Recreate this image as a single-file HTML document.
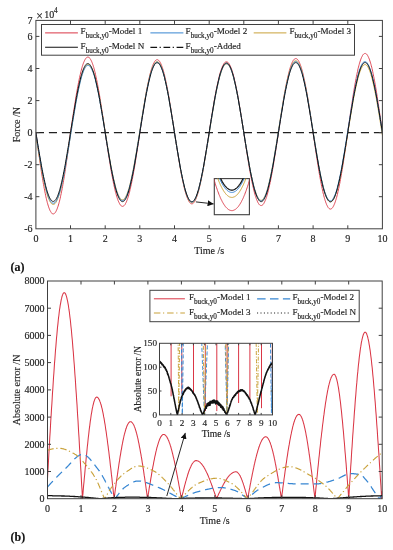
<!DOCTYPE html><html><head><meta charset="utf-8"><style>html,body{margin:0;padding:0;background:#fff;}svg{display:block;filter:blur(0.25px)}</style></head><body>
<svg width="393" height="550" viewBox="0 0 393 550" font-family="'Liberation Serif','Times New Roman',serif">
<style>text{stroke:#2a2a2a;stroke-width:0.16px;paint-order:stroke}</style>
<rect width="393" height="550" fill="#fff"/>
<defs><clipPath id="ca"><rect x="35.9" y="20.4" width="346.5" height="208.4"/></clipPath>
<clipPath id="cb"><rect x="47.5" y="281" width="334.7" height="217.7"/></clipPath>
<clipPath id="ci"><rect x="159.5" y="343.3" width="113" height="71.6"/></clipPath>
<clipPath id="cz"><rect x="214.3" y="178.6" width="35.1" height="36.1"/></clipPath>
<marker id="ah" viewBox="0 0 10 10" refX="10" refY="5" markerWidth="6" markerHeight="6" markerUnits="userSpaceOnUse" orient="auto"><path d="M0,0 L10,5 L0,10 z" fill="#111"/></marker>
</defs>
<g clip-path="url(#ca)" fill="none" stroke-linejoin="round">
<polyline points="35.9,132.6 36.2,135.2 36.6,137.7 36.9,140.3 37.3,142.8 37.6,145.3 38,147.8 38.3,150.3 38.7,152.8 39,155.3 39.4,157.7 39.7,160.1 40.1,162.5 40.4,164.9 40.8,167.2 41.1,169.5 41.4,171.8 41.8,174 42.1,176.2 42.5,178.3 42.8,180.4 43.2,182.4 43.5,184.4 43.9,186.4 44.2,188.3 44.6,190.1 44.9,191.9 45.3,193.6 45.6,195.2 45.9,196.8 46.3,198.4 46.6,199.8 47,201.2 47.3,202.6 47.7,203.8 48,205 48.4,206.2 48.7,207.2 49.1,208.2 49.4,209.1 49.8,209.9 50.1,210.7 50.5,211.3 50.8,211.9 51.1,212.5 51.5,212.9 51.8,213.3 52.2,213.5 52.5,213.7 52.9,213.9 53.2,213.9 53.6,213.9 53.9,213.7 54.3,213.5 54.6,213.3 55,212.9 55.3,212.5 55.7,211.9 56,211.3 56.3,210.7 56.7,209.9 57,209.1 57.4,208.2 57.7,207.2 58.1,206.2 58.4,205 58.8,203.8 59.1,202.6 59.5,201.2 59.8,199.8 60.2,198.4 60.5,196.8 60.8,195.2 61.2,193.6 61.5,191.9 61.9,190.1 62.2,188.3 62.6,186.4 62.9,184.4 63.3,182.4 63.6,180.4 64,178.3 64.3,176.2 64.7,174 65,171.8 65.4,169.5 65.7,167.2 66,164.9 66.4,162.5 66.7,160.1 67.1,157.7 67.4,155.3 67.8,152.8 68.1,150.3 68.5,147.8 68.8,145.3 69.2,142.8 69.5,140.3 69.9,137.7 70.2,135.2 70.5,132.6 70.9,130.2 71.2,127.9 71.6,125.5 71.9,123.2 72.1,122 72.3,120.8 72.6,118.5 73,116.1 73.3,113.8 73.7,111.6 74,109.3 74.4,107 74.7,104.8 75.1,102.6 75.4,100.5 75.7,98.3 76.1,96.2 76.4,94.2 76.8,92.2 77.1,90.2 77.5,88.2 77.8,86.3 78.2,84.5 78.5,82.7 78.9,80.9 79.2,79.2 79.6,77.6 79.9,76 80.3,74.4 80.6,73 80.9,71.5 81.3,70.2 81.6,68.9 82,67.6 82.3,66.4 82.7,65.3 83,64.3 83.4,63.3 83.7,62.4 84.1,61.6 84.4,60.8 84.8,60.1 85.1,59.5 85.4,58.9 85.8,58.4 86.1,58 86.5,57.7 86.8,57.4 87.2,57.3 87.5,57.1 87.9,57.1 88.2,57.1 88.6,57.3 88.9,57.4 89.3,57.7 89.6,58 90,58.4 90.3,58.9 90.6,59.5 91,60.1 91.3,60.8 91.7,61.6 92,62.4 92.4,63.3 92.7,64.3 93.1,65.3 93.4,66.4 93.8,67.6 94.1,68.9 94.5,70.2 94.8,71.5 95.2,73 95.5,74.4 95.8,76 96.2,77.6 96.5,79.2 96.9,80.9 97.2,82.7 97.6,84.5 97.9,86.3 98.3,88.2 98.6,90.2 99,92.2 99.3,94.2 99.7,96.2 100,98.3 100.3,100.5 100.7,102.6 101,104.8 101.4,107 101.7,109.3 102.1,111.6 102.4,113.8 102.8,116.1 103.1,118.5 103.5,120.8 103.8,123.2 104.2,125.5 104.5,127.9 104.9,130.2 105.2,132.6 105.5,134.9 105.9,137.2 106.2,139.6 106.6,141.9 106.9,144.2 107.3,146.4 107.6,148.7 108,151 108.3,153.2 108.7,155.4 109,157.6 109.4,159.8 109.7,161.9 110.1,164 110.4,166.1 110.7,168.1 111.1,170.2 111.4,172.1 111.8,174.1 112.1,176 112.5,177.8 112.8,179.6 113.2,181.4 113.5,183.1 113.9,184.8 114.2,186.4 114.6,187.9 114.9,189.4 115.2,190.9 115.6,192.3 115.9,193.6 116.3,194.9 116.6,196.1 117,197.2 117.3,198.3 117.7,199.3 118,200.3 118.4,201.2 118.7,202 119.1,202.7 119.4,203.4 119.8,204 120.1,204.6 120.4,205.1 120.8,205.4 121.1,205.8 121.5,206 121.8,206.2 122.2,206.3 122.5,206.4 122.9,206.3 123.2,206.2 123.6,206 123.9,205.8 124.3,205.4 124.6,205.1 125,204.6 125.3,204 125.6,203.4 126,202.7 126.3,202 126.7,201.2 127,200.3 127.4,199.3 127.7,198.3 128.1,197.2 128.4,196.1 128.8,194.9 129.1,193.6 129.5,192.3 129.8,190.9 130.1,189.4 130.5,187.9 130.8,186.4 131.2,184.8 131.5,183.1 131.9,181.4 132.2,179.6 132.6,177.8 132.9,176 133.3,174.1 133.6,172.1 134,170.2 134.3,168.1 134.7,166.1 135,164 135.3,161.9 135.7,159.8 136,157.6 136.4,155.4 136.7,153.2 137.1,151 137.4,148.7 137.8,146.4 138.1,144.2 138.5,141.9 138.8,139.6 139.2,137.2 139.5,134.9 139.8,132.6 140.2,130.3 140.5,128 140.9,125.8 141.2,123.5 141.6,121.2 141.9,118.9 142.3,116.7 142.6,114.5 143,112.3 143.3,110.1 143.7,107.9 144,105.8 144.4,103.6 144.7,101.6 145,99.5 145.4,97.5 145.7,95.5 146.1,93.5 146.4,91.6 146.8,89.7 147.1,87.9 147.5,86.1 147.8,84.4 148.2,82.7 148.5,81 148.9,79.4 149.2,77.9 149.6,76.4 149.9,75 150.2,73.6 150.6,72.3 150.9,71 151.3,69.8 151.6,68.7 152,67.6 152.3,66.6 152.7,65.7 153,64.8 153.4,64 153.7,63.2 154.1,62.6 154.4,62 154.7,61.4 155.1,61 155.4,60.6 155.8,60.3 156.1,60 156.5,59.8 156.8,59.7 157.2,59.7 157.5,59.7 157.9,59.8 158.2,60 158.6,60.3 158.9,60.6 159.3,61 159.6,61.4 159.9,62 160.3,62.6 160.6,63.2 161,64 161.3,64.8 161.7,65.7 162,66.6 162.4,67.6 162.7,68.7 163.1,69.8 163.4,71 163.8,72.3 164.1,73.6 164.5,75 164.8,76.4 165.1,77.9 165.5,79.4 165.8,81 166.2,82.7 166.5,84.4 166.9,86.1 167.2,87.9 167.6,89.7 167.9,91.6 168.3,93.5 168.6,95.5 169,97.5 169.3,99.5 169.6,101.6 170,103.6 170.3,105.8 170.7,107.9 171,110.1 171.4,112.3 171.7,114.5 172.1,116.7 172.4,118.9 172.8,121.2 173.1,123.5 173.5,125.8 173.8,128 174.2,130.3 174.5,132.6 174.8,134.9 175.2,137.1 175.5,139.3 175.9,141.5 176.2,143.7 176.6,146 176.9,148.1 177.3,150.3 177.6,152.5 178,154.6 178.3,156.7 178.7,158.8 179,160.9 179.4,162.9 179.7,164.9 180,166.9 180.4,168.8 180.7,170.8 181.1,172.6 181.4,174.5 181.8,176.2 182.1,178 182.5,179.7 182.8,181.3 183.2,182.9 183.5,184.5 183.9,186 184.2,187.5 184.5,188.9 184.9,190.2 185.2,191.5 185.6,192.7 185.9,193.9 186.3,195 186.6,196 187,197 187.3,197.9 187.7,198.8 188,199.6 188.4,200.3 188.7,201 189.1,201.6 189.4,202.1 189.7,202.5 190.1,202.9 190.4,203.2 190.8,203.5 191.1,203.7 191.5,203.8 191.8,203.8 192.2,203.8 192.5,203.7 192.9,203.5 193.2,203.2 193.6,202.9 193.9,202.5 194.3,202.1 194.6,201.6 194.9,201 195.3,200.3 195.6,199.6 196,198.8 196.3,197.9 196.7,197 197,196 197.4,195 197.7,193.9 198.1,192.7 198.4,191.5 198.8,190.2 199.1,188.9 199.4,187.5 199.8,186 200.1,184.5 200.5,182.9 200.8,181.3 201.2,179.7 201.5,178 201.9,176.2 202.2,174.5 202.6,172.6 202.9,170.8 203.3,168.8 203.6,166.9 204,164.9 204.3,162.9 204.6,160.9 205,158.8 205.3,156.7 205.7,154.6 206,152.5 206.4,150.3 206.7,148.1 207.1,146 207.4,143.7 207.8,141.5 208.1,139.3 208.5,137.1 208.8,134.9 209.2,132.6 209.5,130.4 209.8,128.2 210.2,125.9 210.5,123.7 210.9,121.5 211.2,119.3 211.6,117.2 211.9,115 212.3,112.8 212.6,110.7 213,108.6 213.3,106.5 213.7,104.5 214,102.4 214.3,100.4 214.7,98.5 215,96.5 215.4,94.6 215.7,92.8 216.1,91 216.4,89.2 216.8,87.5 217.1,85.8 217.5,84.1 217.8,82.5 218.2,81 218.5,79.5 218.9,78 219.2,76.6 219.5,75.3 219.9,74 220.2,72.8 220.6,71.6 220.9,70.5 221.3,69.5 221.6,68.5 222,67.6 222.3,66.7 222.7,65.9 223,65.2 223.4,64.6 223.7,64 224,63.5 224.4,63 224.7,62.6 225.1,62.3 225.4,62.1 225.8,61.9 226.1,61.8 226.5,61.8 226.8,61.8 227.2,61.9 227.5,62.1 227.9,62.3 228.2,62.6 228.6,63 228.9,63.5 229.2,64 229.6,64.6 229.9,65.2 230.3,65.9 230.6,66.7 231,67.6 231.3,68.5 231.7,69.5 232,70.5 232.4,71.6 232.7,72.8 233.1,74 233.4,75.3 233.8,76.6 234.1,78 234.4,79.5 234.8,81 235.1,82.5 235.5,84.1 235.8,85.8 236.2,87.5 236.5,89.2 236.9,91 237.2,92.8 237.6,94.6 237.9,96.5 238.3,98.5 238.6,100.4 238.9,102.4 239.3,104.5 239.6,106.5 240,108.6 240.3,110.7 240.7,112.8 241,115 241.4,117.2 241.7,119.3 242.1,121.5 242.4,123.7 242.8,125.9 243.1,128.2 243.5,130.4 243.8,132.6 244.1,134.9 244.5,137.2 244.8,139.5 245.2,141.8 245.5,144 245.9,146.3 246.2,148.5 246.6,150.8 246.9,153 247.3,155.2 247.6,157.3 248,159.5 248.3,161.6 248.7,163.7 249,165.7 249.3,167.8 249.7,169.7 250,171.7 250.4,173.6 250.7,175.5 251.1,177.3 251.4,179.1 251.8,180.9 252.1,182.5 252.5,184.2 252.8,185.8 253.2,187.3 253.5,188.8 253.8,190.2 254.2,191.6 254.5,192.9 254.9,194.2 255.2,195.4 255.6,196.5 255.9,197.6 256.3,198.6 256.6,199.6 257,200.4 257.3,201.2 257.7,202 258,202.7 258.4,203.3 258.7,203.8 259,204.3 259.4,204.7 259.7,205 260.1,205.2 260.4,205.4 260.8,205.5 261.1,205.6 261.5,205.5 261.8,205.4 262.2,205.2 262.5,205 262.9,204.7 263.2,204.3 263.6,203.8 263.9,203.3 264.2,202.7 264.6,202 264.9,201.2 265.3,200.4 265.6,199.6 266,198.6 266.3,197.6 266.7,196.5 267,195.4 267.4,194.2 267.7,192.9 268.1,191.6 268.4,190.2 268.7,188.8 269.1,187.3 269.4,185.8 269.8,184.2 270.1,182.5 270.5,180.9 270.8,179.1 271.2,177.3 271.5,175.5 271.9,173.6 272.2,171.7 272.6,169.7 272.9,167.8 273.3,165.7 273.6,163.7 273.9,161.6 274.3,159.5 274.6,157.3 275,155.2 275.3,153 275.7,150.8 276,148.5 276.4,146.3 276.7,144 277.1,141.8 277.4,139.5 277.8,137.2 278.1,134.9 278.4,132.6 278.8,130.3 279.1,128 279.5,125.6 279.8,123.3 280.2,121 280.5,118.7 280.9,116.5 281.2,114.2 281.6,112 281.9,109.7 282.3,107.5 282.6,105.4 283,103.2 283.3,101.1 283.6,99 284,96.9 284.3,94.9 284.7,92.9 285,91 285.4,89.1 285.7,87.2 286.1,85.4 286.4,83.6 286.8,81.9 287.1,80.2 287.5,78.6 287.8,77.1 288.2,75.5 288.5,74.1 288.8,72.7 289.2,71.4 289.5,70.1 289.9,68.9 290.2,67.7 290.6,66.6 290.9,65.6 291.3,64.6 291.6,63.8 292,62.9 292.3,62.2 292.7,61.5 293,60.9 293.3,60.3 293.7,59.9 294,59.5 294.4,59.1 294.7,58.9 295.1,58.7 295.4,58.6 295.8,58.6 296.1,58.6 296.5,58.7 296.8,58.9 297.2,59.1 297.5,59.5 297.9,59.9 298.2,60.3 298.5,60.9 298.9,61.5 299.2,62.2 299.6,62.9 299.9,63.8 300.3,64.6 300.6,65.6 301,66.6 301.3,67.7 301.7,68.9 302,70.1 302.4,71.4 302.7,72.7 303.1,74.1 303.4,75.5 303.7,77.1 304.1,78.6 304.4,80.2 304.8,81.9 305.1,83.6 305.5,85.4 305.8,87.2 306.2,89.1 306.5,91 306.9,92.9 307.2,94.9 307.6,96.9 307.9,99 308.2,101.1 308.6,103.2 308.9,105.4 309.3,107.5 309.6,109.7 310,112 310.3,114.2 310.7,116.5 311,118.7 311.4,121 311.7,123.3 312.1,125.6 312.4,128 312.8,130.3 313.1,132.6 313.4,135 313.8,137.4 314.1,139.8 314.5,142.2 314.8,144.6 315.2,146.9 315.5,149.3 315.9,151.6 316.2,153.9 316.6,156.2 316.9,158.5 317.3,160.8 317.6,163 318,165.2 318.3,167.3 318.6,169.5 319,171.5 319.3,173.6 319.7,175.6 320,177.6 320.4,179.5 320.7,181.4 321.1,183.2 321.4,185 321.8,186.7 322.1,188.4 322.5,190 322.8,191.5 323.1,193 323.5,194.5 323.8,195.9 324.2,197.2 324.5,198.4 324.9,199.6 325.2,200.7 325.6,201.8 325.9,202.8 326.3,203.7 326.6,204.6 327,205.3 327.3,206 327.7,206.7 328,207.2 328.3,207.7 328.7,208.1 329,208.5 329.4,208.7 329.7,208.9 330.1,209 330.4,209.1 330.8,209 331.1,208.9 331.5,208.7 331.8,208.5 332.2,208.1 332.5,207.7 332.9,207.2 333.2,206.7 333.5,206 333.9,205.3 334.2,204.6 334.6,203.7 334.9,202.8 335.3,201.8 335.6,200.7 336,199.6 336.3,198.4 336.7,197.2 337,195.9 337.4,194.5 337.7,193 338,191.5 338.4,190 338.7,188.4 339.1,186.7 339.4,185 339.8,183.2 340.1,181.4 340.5,179.5 340.8,177.6 341.2,175.6 341.5,173.6 341.9,171.5 342.2,169.5 342.6,167.3 342.9,165.2 343.2,163 343.6,160.8 343.9,158.5 344.3,156.2 344.6,153.9 345,151.6 345.3,149.3 345.7,146.9 346,144.6 346.4,142.2 346.7,139.8 347.1,137.4 347.4,135 347.8,132.6 348.1,130.1 348.4,127.6 348.8,125.2 349.1,122.7 349.5,120.2 349.8,117.8 350.2,115.3 350.5,112.9 350.9,110.5 351.2,108.1 351.6,105.8 351.9,103.5 352.3,101.2 352.6,98.9 352.9,96.7 353.3,94.5 353.6,92.3 354,90.2 354.3,88.1 354.7,86.1 355,84.1 355.4,82.1 355.7,80.2 356.1,78.4 356.4,76.6 356.8,74.9 357.1,73.2 357.5,71.6 357.8,70 358.1,68.5 358.5,67.1 358.8,65.8 359.2,64.5 359.5,63.2 359.9,62.1 360.2,61 360.6,59.9 360.9,59 361.3,58.1 361.6,57.3 362,56.6 362.3,55.9 362.6,55.3 363,54.8 363.3,54.4 363.7,54 364,53.8 364.4,53.6 364.7,53.5 365.1,53.4 365.4,53.5 365.8,53.6 366.1,53.8 366.5,54 366.8,54.4 367.2,54.8 367.5,55.3 367.8,55.9 368.2,56.6 368.5,57.3 368.9,58.1 369.2,59 369.6,59.9 369.9,61 370.3,62.1 370.6,63.2 371,64.5 371.3,65.8 371.7,67.1 372,68.5 372.4,70 372.7,71.6 373,73.2 373.4,74.9 373.7,76.6 374.1,78.4 374.4,80.2 374.8,82.1 375.1,84.1 375.5,86.1 375.8,88.1 376.2,90.2 376.5,92.3 376.9,94.5 377.2,96.7 377.5,98.9 377.9,101.2 378.2,103.5 378.6,105.8 378.9,108.1 379.3,110.5 379.6,112.9 380,115.3 380.3,117.8 380.7,120.2 381,122.7 381.4,125.2 381.7,127.6 381.9,128.9 382.1,130.1 382.4,132.6" stroke="#da3645" stroke-width="0.9"/>
<polyline points="35.9,135.5 36.2,137.6 36.6,139.8 36.9,142 37.3,144.1 37.6,146.3 38,148.4 38.3,150.5 38.7,152.7 39,154.8 39.4,156.8 39.7,158.9 40.1,160.9 40.4,162.9 40.8,164.9 41.1,166.8 41.4,168.8 41.8,170.6 42.1,172.5 42.5,174.3 42.8,176.1 43.2,177.8 43.5,179.5 43.9,181.2 44.2,182.8 44.6,184.3 44.9,185.8 45.3,187.3 45.6,188.7 45.9,190 46.3,191.3 46.6,192.6 47,193.8 47.3,194.9 47.7,196 48,197 48.4,198 48.7,198.8 49.1,199.7 49.4,200.4 49.8,201.1 50.1,201.8 50.5,202.3 50.8,202.8 51.1,203.3 51.5,203.6 51.8,203.9 52.2,204.2 52.5,204.3 52.9,204.4 53.2,204.5 53.6,204.4 53.9,204.3 54.3,204.1 54.6,203.9 55,203.6 55.3,203.2 55.7,202.8 56,202.2 56.3,201.7 56.7,201 57,200.3 57.4,199.5 57.7,198.7 58.1,197.8 58.4,196.8 58.8,195.8 59.1,194.7 59.5,193.6 59.8,192.4 60.2,191.1 60.5,189.8 60.8,188.5 61.2,187 61.5,185.6 61.9,184.1 62.2,182.5 62.6,180.9 62.9,179.2 63.3,177.5 63.6,175.8 64,174 64.3,172.2 64.7,170.3 65,168.4 65.4,166.5 65.7,164.5 66,162.5 66.4,160.5 66.7,158.5 67.1,156.4 67.4,154.3 67.8,152.2 68.1,150.1 68.5,148 68.8,145.8 69.2,143.7 69.5,141.5 69.9,139.3 70.2,137.1 70.5,134.9 70.9,132.7 71.2,130.6 71.6,128.4 71.9,126.2 72.1,125.1 72.3,124 72.6,121.9 73,119.7 73.3,117.6 73.7,115.5 74,113.4 74.4,111.3 74.7,109.3 75.1,107.2 75.4,105.2 75.7,103.3 76.1,101.3 76.4,99.4 76.8,97.6 77.1,95.7 77.5,93.9 77.8,92.2 78.2,90.4 78.5,88.8 78.9,87.1 79.2,85.6 79.6,84 79.9,82.5 80.3,81.1 80.6,79.7 80.9,78.4 81.3,77.1 81.6,75.9 82,74.7 82.3,73.6 82.7,72.6 83,71.6 83.4,70.7 83.7,69.8 84.1,69 84.4,68.3 84.8,67.6 85.1,67 85.4,66.5 85.8,66 86.1,65.6 86.5,65.3 86.8,65 87.2,64.8 87.5,64.6 87.9,64.6 88.2,64.6 88.6,64.6 88.9,64.7 89.3,64.9 89.6,65.2 90,65.5 90.3,65.9 90.6,66.4 91,66.9 91.3,67.5 91.7,68.1 92,68.8 92.4,69.6 92.7,70.5 93.1,71.4 93.4,72.3 93.8,73.4 94.1,74.5 94.5,75.6 94.8,76.8 95.2,78.1 95.5,79.4 95.8,80.8 96.2,82.2 96.5,83.7 96.9,85.2 97.2,86.8 97.6,88.4 97.9,90 98.3,91.7 98.6,93.5 99,95.3 99.3,97.1 99.7,98.9 100,100.8 100.3,102.7 100.7,104.7 101,106.6 101.4,108.6 101.7,110.7 102.1,112.7 102.4,114.8 102.8,116.8 103.1,118.9 103.5,121 103.8,123.2 104.2,125.3 104.5,127.4 104.9,129.6 105.2,131.7 105.5,133.9 105.9,136 106.2,138.1 106.6,140.3 106.9,142.4 107.3,144.5 107.6,146.6 108,148.7 108.3,150.7 108.7,152.8 109,154.8 109.4,156.8 109.7,158.8 110.1,160.7 110.4,162.7 110.7,164.6 111.1,166.4 111.4,168.3 111.8,170 112.1,171.8 112.5,173.5 112.8,175.2 113.2,176.8 113.5,178.4 113.9,179.9 114.2,181.4 114.6,182.9 114.9,184.3 115.2,185.6 115.6,186.9 115.9,188.1 116.3,189.3 116.6,190.4 117,191.5 117.3,192.5 117.7,193.4 118,194.3 118.4,195.1 118.7,195.8 119.1,196.5 119.4,197.2 119.8,197.7 120.1,198.2 120.4,198.6 120.8,199 121.1,199.3 121.5,199.5 121.8,199.7 122.2,199.8 122.5,199.8 122.9,199.7 123.2,199.6 123.6,199.4 123.9,199.2 124.3,198.9 124.6,198.5 125,198 125.3,197.5 125.6,196.9 126,196.3 126.3,195.6 126.7,194.8 127,194 127.4,193.1 127.7,192.1 128.1,191.1 128.4,190 128.8,188.9 129.1,187.7 129.5,186.5 129.8,185.2 130.1,183.8 130.5,182.4 130.8,180.9 131.2,179.4 131.5,177.9 131.9,176.3 132.2,174.6 132.6,172.9 132.9,171.2 133.3,169.5 133.6,167.6 134,165.8 134.3,163.9 134.7,162 135,160.1 135.3,158.1 135.7,156.1 136,154.1 136.4,152.1 136.7,150 137.1,147.9 137.4,145.8 137.8,143.7 138.1,141.6 138.5,139.4 138.8,137.3 139.2,135.1 139.5,133 139.8,130.8 140.2,128.6 140.5,126.5 140.9,124.3 141.2,122.1 141.6,119.9 141.9,117.8 142.3,115.6 142.6,113.5 143,111.4 143.3,109.3 143.7,107.2 144,105.2 144.4,103.2 144.7,101.2 145,99.2 145.4,97.3 145.7,95.4 146.1,93.5 146.4,91.7 146.8,89.9 147.1,88.2 147.5,86.5 147.8,84.8 148.2,83.2 148.5,81.6 148.9,80.1 149.2,78.7 149.6,77.3 149.9,75.9 150.2,74.6 150.6,73.3 150.9,72.2 151.3,71 151.6,70 152,68.9 152.3,68 152.7,67.1 153,66.3 153.4,65.5 153.7,64.8 154.1,64.2 154.4,63.7 154.7,63.2 155.1,62.7 155.4,62.4 155.8,62.1 156.1,61.9 156.5,61.7 156.8,61.6 157.2,61.6 157.5,61.7 157.9,61.8 158.2,62 158.6,62.3 158.9,62.6 159.3,63 159.6,63.4 159.9,64 160.3,64.6 160.6,65.2 161,66 161.3,66.8 161.7,67.6 162,68.6 162.4,69.5 162.7,70.6 163.1,71.7 163.4,72.9 163.8,74.1 164.1,75.4 164.5,76.7 164.8,78.1 165.1,79.6 165.5,81.1 165.8,82.6 166.2,84.2 166.5,85.9 166.9,87.6 167.2,89.3 167.6,91.1 167.9,92.9 168.3,94.8 168.6,96.7 169,98.6 169.3,100.6 169.6,102.6 170,104.6 170.3,106.7 170.7,108.7 171,110.8 171.4,113 171.7,115.1 172.1,117.3 172.4,119.4 172.8,121.6 173.1,123.8 173.5,126 173.8,128.2 174.2,130.4 174.5,132.7 174.8,134.8 175.2,137 175.5,139.2 175.9,141.4 176.2,143.6 176.6,145.7 176.9,147.9 177.3,150 177.6,152.1 178,154.2 178.3,156.3 178.7,158.3 179,160.4 179.4,162.4 179.7,164.3 180,166.3 180.4,168.2 180.7,170 181.1,171.9 181.4,173.7 181.8,175.4 182.1,177.1 182.5,178.8 182.8,180.4 183.2,182 183.5,183.5 183.9,185 184.2,186.5 184.5,187.8 184.9,189.1 185.2,190.4 185.6,191.6 185.9,192.8 186.3,193.9 186.6,194.9 187,195.9 187.3,196.8 187.7,197.6 188,198.4 188.4,199.1 188.7,199.8 189.1,200.4 189.4,200.9 189.7,201.3 190.1,201.7 190.4,202 190.8,202.3 191.1,202.5 191.5,202.6 191.8,202.6 192.2,202.6 192.5,202.5 192.9,202.3 193.2,202.1 193.6,201.8 193.9,201.4 194.3,201 194.6,200.5 194.9,199.9 195.3,199.3 195.6,198.6 196,197.9 196.3,197 196.7,196.1 197,195.2 197.4,194.2 197.7,193.1 198.1,192 198.4,190.8 198.8,189.6 199.1,188.3 199.4,186.9 199.8,185.5 200.1,184.1 200.5,182.6 200.8,181 201.2,179.4 201.5,177.8 201.9,176.1 202.2,174.4 202.6,172.6 202.9,170.8 203.3,168.9 203.6,167 204,165.1 204.3,163.2 204.6,161.2 205,159.2 205.3,157.2 205.7,155.1 206,153.1 206.4,151 206.7,148.9 207.1,146.7 207.4,144.6 207.8,142.5 208.1,140.3 208.5,138.2 208.8,136 209.2,133.8 209.5,131.6 209.8,129.5 210.2,127.3 210.5,125.1 210.9,122.9 211.2,120.8 211.6,118.6 211.9,116.5 212.3,114.4 212.6,112.3 213,110.2 213.3,108.2 213.7,106.2 214,104.2 214.3,102.2 214.7,100.3 215,98.4 215.4,96.5 215.7,94.7 216.1,92.9 216.4,91.1 216.8,89.4 217.1,87.8 217.5,86.1 217.8,84.6 218.2,83 218.5,81.5 218.9,80.1 219.2,78.7 219.5,77.4 219.9,76.2 220.2,74.9 220.6,73.8 220.9,72.7 221.3,71.7 221.6,70.7 222,69.8 222.3,68.9 222.7,68.2 223,67.4 223.4,66.8 223.7,66.2 224,65.7 224.4,65.2 224.7,64.8 225.1,64.5 225.4,64.3 225.8,64.1 226.1,64 226.5,63.9 226.8,64 227.2,64.1 227.5,64.2 227.9,64.4 228.2,64.7 228.6,65.1 228.9,65.5 229.2,66 229.6,66.6 229.9,67.2 230.3,67.9 230.6,68.7 231,69.5 231.3,70.4 231.7,71.3 232,72.3 232.4,73.4 232.7,74.5 233.1,75.7 233.4,76.9 233.8,78.2 234.1,79.6 234.4,81 234.8,82.4 235.1,83.9 235.5,85.4 235.8,87 236.2,88.7 236.5,90.4 236.9,92.1 237.2,93.9 237.6,95.7 237.9,97.5 238.3,99.4 238.6,101.3 238.9,103.2 239.3,105.2 239.6,107.2 240,109.2 240.3,111.3 240.7,113.3 241,115.4 241.4,117.5 241.7,119.6 242.1,121.8 242.4,123.9 242.8,126.1 243.1,128.2 243.5,130.4 243.8,132.5 244.1,134.7 244.5,136.8 244.8,139 245.2,141.1 245.5,143.2 245.9,145.3 246.2,147.4 246.6,149.5 246.9,151.6 247.3,153.6 247.6,155.6 248,157.6 248.3,159.6 248.7,161.5 249,163.5 249.3,165.3 249.7,167.2 250,169 250.4,170.8 250.7,172.5 251.1,174.3 251.4,175.9 251.8,177.5 252.1,179.1 252.5,180.6 252.8,182.1 253.2,183.6 253.5,184.9 253.8,186.3 254.2,187.5 254.5,188.8 254.9,189.9 255.2,191 255.6,192.1 255.9,193.1 256.3,194 256.6,194.9 257,195.7 257.3,196.4 257.7,197.1 258,197.7 258.4,198.3 258.7,198.7 259,199.2 259.4,199.5 259.7,199.8 260.1,200 260.4,200.2 260.8,200.3 261.1,200.3 261.5,200.3 261.8,200.1 262.2,200 262.5,199.7 262.9,199.4 263.2,199 263.6,198.5 263.9,198 264.2,197.4 264.6,196.8 264.9,196.1 265.3,195.3 265.6,194.5 266,193.6 266.3,192.6 266.7,191.6 267,190.5 267.4,189.3 267.7,188.1 268.1,186.9 268.4,185.6 268.7,184.2 269.1,182.8 269.4,181.3 269.8,179.8 270.1,178.2 270.5,176.6 270.8,175 271.2,173.3 271.5,171.5 271.9,169.7 272.2,167.9 272.6,166.1 272.9,164.2 273.3,162.2 273.6,160.3 273.9,158.3 274.3,156.3 274.6,154.3 275,152.2 275.3,150.1 275.7,148 276,145.9 276.4,143.8 276.7,141.6 277.1,139.5 277.4,137.3 277.8,135.2 278.1,133 278.4,130.8 278.8,128.6 279.1,126.4 279.5,124.2 279.8,122 280.2,119.8 280.5,117.7 280.9,115.5 281.2,113.3 281.6,111.2 281.9,109.1 282.3,107 282.6,105 283,102.9 283.3,100.9 283.6,98.9 284,97 284.3,95.1 284.7,93.2 285,91.4 285.4,89.6 285.7,87.8 286.1,86.1 286.4,84.4 286.8,82.8 287.1,81.2 287.5,79.7 287.8,78.2 288.2,76.8 288.5,75.4 288.8,74.1 289.2,72.8 289.5,71.6 289.9,70.5 290.2,69.4 290.6,68.3 290.9,67.4 291.3,66.5 291.6,65.6 292,64.9 292.3,64.2 292.7,63.5 293,62.9 293.3,62.4 293.7,62 294,61.6 294.4,61.3 294.7,61.1 295.1,60.9 295.4,60.8 295.8,60.8 296.1,60.9 296.5,61 296.8,61.1 297.2,61.4 297.5,61.7 297.9,62.1 298.2,62.6 298.5,63.1 298.9,63.7 299.2,64.3 299.6,65.1 299.9,65.8 300.3,66.7 300.6,67.6 301,68.6 301.3,69.6 301.7,70.7 302,71.9 302.4,73.1 302.7,74.4 303.1,75.7 303.4,77.1 303.7,78.6 304.1,80.1 304.4,81.6 304.8,83.2 305.1,84.8 305.5,86.5 305.8,88.2 306.2,90 306.5,91.8 306.9,93.7 307.2,95.6 307.6,97.5 307.9,99.4 308.2,101.4 308.6,103.4 308.9,105.5 309.3,107.6 309.6,109.7 310,111.8 310.3,113.9 310.7,116.1 311,118.2 311.4,120.4 311.7,122.6 312.1,124.8 312.4,127 312.8,129.2 313.1,131.4 313.4,133.6 313.8,135.8 314.1,138 314.5,140.1 314.8,142.3 315.2,144.5 315.5,146.6 315.9,148.7 316.2,150.9 316.6,152.9 316.9,155 317.3,157.1 317.6,159.1 318,161.1 318.3,163.1 318.6,165 319,166.9 319.3,168.8 319.7,170.6 320,172.4 320.4,174.1 320.7,175.9 321.1,177.5 321.4,179.2 321.8,180.7 322.1,182.3 322.5,183.7 322.8,185.2 323.1,186.5 323.5,187.9 323.8,189.1 324.2,190.4 324.5,191.5 324.9,192.6 325.2,193.6 325.6,194.6 325.9,195.5 326.3,196.4 326.6,197.2 327,197.9 327.3,198.6 327.7,199.2 328,199.7 328.3,200.1 328.7,200.5 329,200.9 329.4,201.1 329.7,201.3 330.1,201.4 330.4,201.5 330.8,201.5 331.1,201.4 331.5,201.3 331.8,201 332.2,200.8 332.5,200.4 332.9,200 333.2,199.5 333.5,199 333.9,198.3 334.2,197.7 334.6,196.9 334.9,196.1 335.3,195.2 335.6,194.3 336,193.3 336.3,192.2 336.7,191.1 337,190 337.4,188.7 337.7,187.5 338,186.1 338.4,184.7 338.7,183.3 339.1,181.8 339.4,180.3 339.8,178.7 340.1,177 340.5,175.4 340.8,173.7 341.2,171.9 341.5,170.1 341.9,168.3 342.2,166.4 342.6,164.5 342.9,162.6 343.2,160.6 343.6,158.6 343.9,156.6 344.3,154.6 344.6,152.5 345,150.5 345.3,148.4 345.7,146.3 346,144.1 346.4,142 346.7,139.9 347.1,137.7 347.4,135.6 347.8,133.4 348.1,131.2 348.4,129.1 348.8,126.9 349.1,124.7 349.5,122.6 349.8,120.5 350.2,118.3 350.5,116.2 350.9,114.1 351.2,112 351.6,110 351.9,108 352.3,105.9 352.6,104 352.9,102 353.3,100.1 353.6,98.2 354,96.4 354.3,94.5 354.7,92.8 355,91 355.4,89.3 355.7,87.7 356.1,86.1 356.4,84.5 356.8,83 357.1,81.6 357.5,80.2 357.8,78.8 358.1,77.5 358.5,76.3 358.8,75.1 359.2,74 359.5,72.9 359.9,71.9 360.2,70.9 360.6,70.1 360.9,69.2 361.3,68.5 361.6,67.8 362,67.2 362.3,66.6 362.6,66.1 363,65.7 363.3,65.3 363.7,65 364,64.8 364.4,64.7 364.7,64.6 365.1,64.6 365.4,64.6 365.8,64.7 366.1,64.9 366.5,65.2 366.8,65.5 367.2,65.9 367.5,66.4 367.8,66.9 368.2,67.5 368.5,68.2 368.9,68.9 369.2,69.7 369.6,70.6 369.9,71.5 370.3,72.5 370.6,73.5 371,74.6 371.3,75.8 371.7,77 372,78.3 372.4,79.6 372.7,81 373,82.5 373.4,84 373.7,85.5 374.1,87.1 374.4,88.7 374.8,90.4 375.1,92.2 375.5,93.9 375.8,95.7 376.2,97.6 376.5,99.5 376.9,101.4 377.2,103.4 377.5,105.4 377.9,107.4 378.2,109.4 378.6,111.5 378.9,113.6 379.3,115.7 379.6,117.8 380,120 380.3,122.1 380.7,124.3 381,126.5 381.4,128.7 381.7,130.9 381.9,132 382.1,133.1 382.4,135.3" stroke="#c9a23a" stroke-width="1"/>
<polyline points="35.9,133.3 36.2,135.5 36.6,137.7 36.9,139.9 37.3,142 37.6,144.2 38,146.4 38.3,148.5 38.7,150.6 39,152.7 39.4,154.8 39.7,156.9 40.1,158.9 40.4,161 40.8,163 41.1,164.9 41.4,166.9 41.8,168.8 42.1,170.6 42.5,172.5 42.8,174.3 43.2,176 43.5,177.7 43.9,179.4 44.2,181 44.6,182.6 44.9,184.1 45.3,185.6 45.6,187 45.9,188.4 46.3,189.7 46.6,191 47,192.2 47.3,193.3 47.7,194.4 48,195.5 48.4,196.4 48.7,197.3 49.1,198.2 49.4,199 49.8,199.7 50.1,200.4 50.5,200.9 50.8,201.5 51.1,201.9 51.5,202.3 51.8,202.6 52.2,202.9 52.5,203.1 52.9,203.2 53.2,203.3 53.6,203.2 53.9,203.2 54.3,203 54.6,202.8 55,202.5 55.3,202.1 55.7,201.7 56,201.2 56.3,200.7 56.7,200.1 57,199.4 57.4,198.6 57.7,197.8 58.1,197 58.4,196 58.8,195 59.1,194 59.5,192.9 59.8,191.7 60.2,190.5 60.5,189.2 60.8,187.9 61.2,186.5 61.5,185.1 61.9,183.6 62.2,182 62.6,180.5 62.9,178.8 63.3,177.2 63.6,175.5 64,173.7 64.3,171.9 64.7,170.1 65,168.2 65.4,166.3 65.7,164.4 66,162.4 66.4,160.5 66.7,158.4 67.1,156.4 67.4,154.4 67.8,152.3 68.1,150.2 68.5,148.1 68.8,146 69.2,143.8 69.5,141.7 69.9,139.5 70.2,137.4 70.5,135.2 70.9,133 71.2,130.9 71.6,128.7 71.9,126.6 72.1,125.5 72.3,124.4 72.6,122.3 73,120.2 73.3,118.1 73.7,116 74,113.9 74.4,111.8 74.7,109.8 75.1,107.8 75.4,105.8 75.7,103.8 76.1,101.9 76.4,100 76.8,98.1 77.1,96.3 77.5,94.5 77.8,92.8 78.2,91.1 78.5,89.4 78.9,87.8 79.2,86.2 79.6,84.7 79.9,83.2 80.3,81.8 80.6,80.4 80.9,79 81.3,77.8 81.6,76.6 82,75.4 82.3,74.3 82.7,73.3 83,72.3 83.4,71.4 83.7,70.5 84.1,69.7 84.4,69 84.8,68.3 85.1,67.7 85.4,67.2 85.8,66.7 86.1,66.3 86.5,66 86.8,65.7 87.2,65.6 87.5,65.4 87.9,65.4 88.2,65.4 88.6,65.5 88.9,65.6 89.3,65.8 89.6,66.1 90,66.4 90.3,66.8 90.6,67.3 91,67.9 91.3,68.5 91.7,69.1 92,69.9 92.4,70.7 92.7,71.5 93.1,72.4 93.4,73.4 93.8,74.5 94.1,75.5 94.5,76.7 94.8,77.9 95.2,79.2 95.5,80.5 95.8,81.9 96.2,83.3 96.5,84.8 96.9,86.3 97.2,87.8 97.6,89.4 97.9,91.1 98.3,92.8 98.6,94.5 99,96.3 99.3,98.1 99.7,100 100,101.8 100.3,103.8 100.7,105.7 101,107.7 101.4,109.7 101.7,111.7 102.1,113.7 102.4,115.8 102.8,117.8 103.1,119.9 103.5,122 103.8,124.1 104.2,126.3 104.5,128.4 104.9,130.5 105.2,132.7 105.5,134.8 105.9,136.9 106.2,139.1 106.6,141.2 106.9,143.3 107.3,145.4 107.6,147.5 108,149.6 108.3,151.7 108.7,153.7 109,155.7 109.4,157.7 109.7,159.7 110.1,161.6 110.4,163.6 110.7,165.5 111.1,167.3 111.4,169.1 111.8,170.9 112.1,172.7 112.5,174.4 112.8,176 113.2,177.7 113.5,179.3 113.9,180.8 114.2,182.3 114.6,183.7 114.9,185.1 115.2,186.4 115.6,187.7 115.9,189 116.3,190.1 116.6,191.2 117,192.3 117.3,193.3 117.7,194.2 118,195.1 118.4,195.9 118.7,196.7 119.1,197.4 119.4,198 119.8,198.6 120.1,199.1 120.4,199.5 120.8,199.8 121.1,200.1 121.5,200.4 121.8,200.5 122.2,200.6 122.5,200.6 122.9,200.6 123.2,200.5 123.6,200.3 123.9,200 124.3,199.7 124.6,199.3 125,198.9 125.3,198.4 125.6,197.8 126,197.2 126.3,196.5 126.7,195.7 127,194.9 127.4,194 127.7,193 128.1,192 128.4,190.9 128.8,189.8 129.1,188.6 129.5,187.3 129.8,186 130.1,184.7 130.5,183.3 130.8,181.8 131.2,180.3 131.5,178.8 131.9,177.2 132.2,175.5 132.6,173.8 132.9,172.1 133.3,170.3 133.6,168.5 134,166.7 134.3,164.8 134.7,162.9 135,161 135.3,159 135.7,157 136,155 136.4,152.9 136.7,150.9 137.1,148.8 137.4,146.7 137.8,144.6 138.1,142.4 138.5,140.3 138.8,138.2 139.2,136 139.5,133.9 139.8,131.7 140.2,129.5 140.5,127.3 140.9,125.1 141.2,123 141.6,120.8 141.9,118.7 142.3,116.5 142.6,114.4 143,112.3 143.3,110.2 143.7,108.1 144,106.1 144.4,104 144.7,102.1 145,100.1 145.4,98.2 145.7,96.3 146.1,94.4 146.4,92.6 146.8,90.8 147.1,89 147.5,87.3 147.8,85.7 148.2,84 148.5,82.5 148.9,81 149.2,79.5 149.6,78.1 149.9,76.7 150.2,75.4 150.6,74.1 150.9,72.9 151.3,71.8 151.6,70.7 152,69.7 152.3,68.7 152.7,67.9 153,67 153.4,66.3 153.7,65.6 154.1,64.9 154.4,64.3 154.7,63.8 155.1,63.4 155.4,63 155.8,62.7 156.1,62.5 156.5,62.3 156.8,62.3 157.2,62.2 157.5,62.3 157.9,62.4 158.2,62.6 158.6,62.8 158.9,63.1 159.3,63.5 159.6,64 159.9,64.5 160.3,65.1 160.6,65.8 161,66.5 161.3,67.3 161.7,68.1 162,69 162.4,70 162.7,71 163.1,72.1 163.4,73.3 163.8,74.5 164.1,75.8 164.5,77.1 164.8,78.5 165.1,79.9 165.5,81.4 165.8,83 166.2,84.6 166.5,86.2 166.9,87.9 167.2,89.6 167.6,91.4 167.9,93.2 168.3,95 168.6,96.9 169,98.8 169.3,100.8 169.6,102.7 170,104.8 170.3,106.8 170.7,108.9 171,110.9 171.4,113.1 171.7,115.2 172.1,117.3 172.4,119.5 172.8,121.7 173.1,123.8 173.5,126 173.8,128.2 174.2,130.4 174.5,132.6 174.8,134.8 175.2,137 175.5,139.2 175.9,141.3 176.2,143.5 176.6,145.6 176.9,147.8 177.3,149.9 177.6,152 178,154.1 178.3,156.1 178.7,158.2 179,160.2 179.4,162.2 179.7,164.1 180,166.1 180.4,168 180.7,169.8 181.1,171.6 181.4,173.4 181.8,175.2 182.1,176.9 182.5,178.5 182.8,180.1 183.2,181.7 183.5,183.2 183.9,184.7 184.2,186.1 184.5,187.5 184.9,188.8 185.2,190.1 185.6,191.3 185.9,192.4 186.3,193.5 186.6,194.5 187,195.5 187.3,196.4 187.7,197.2 188,198 188.4,198.7 188.7,199.3 189.1,199.9 189.4,200.4 189.7,200.9 190.1,201.2 190.4,201.6 190.8,201.8 191.1,202 191.5,202.1 191.8,202.1 192.2,202.1 192.5,202 192.9,201.8 193.2,201.6 193.6,201.3 193.9,200.9 194.3,200.5 194.6,200 194.9,199.4 195.3,198.8 195.6,198.1 196,197.3 196.3,196.5 196.7,195.6 197,194.7 197.4,193.7 197.7,192.6 198.1,191.5 198.4,190.3 198.8,189 199.1,187.7 199.4,186.4 199.8,185 200.1,183.5 200.5,182 200.8,180.5 201.2,178.9 201.5,177.2 201.9,175.5 202.2,173.8 202.6,172 202.9,170.2 203.3,168.4 203.6,166.5 204,164.6 204.3,162.6 204.6,160.6 205,158.6 205.3,156.6 205.7,154.6 206,152.5 206.4,150.4 206.7,148.3 207.1,146.2 207.4,144 207.8,141.9 208.1,139.7 208.5,137.6 208.8,135.4 209.2,133.3 209.5,131.1 209.8,128.9 210.2,126.7 210.5,124.5 210.9,122.4 211.2,120.2 211.6,118.1 211.9,116 212.3,113.9 212.6,111.8 213,109.7 213.3,107.7 213.7,105.6 214,103.6 214.3,101.7 214.7,99.8 215,97.9 215.4,96 215.7,94.2 216.1,92.4 216.4,90.6 216.8,88.9 217.1,87.3 217.5,85.6 217.8,84.1 218.2,82.5 218.5,81.1 218.9,79.6 219.2,78.3 219.5,77 219.9,75.7 220.2,74.5 220.6,73.4 220.9,72.3 221.3,71.2 221.6,70.3 222,69.4 222.3,68.5 222.7,67.8 223,67 223.4,66.4 223.7,65.8 224,65.3 224.4,64.9 224.7,64.5 225.1,64.2 225.4,63.9 225.8,63.7 226.1,63.6 226.5,63.6 226.8,63.6 227.2,63.7 227.5,63.9 227.9,64.1 228.2,64.4 228.6,64.8 228.9,65.2 229.2,65.7 229.6,66.3 229.9,66.9 230.3,67.6 230.6,68.4 231,69.2 231.3,70.1 231.7,71.1 232,72.1 232.4,73.2 232.7,74.3 233.1,75.5 233.4,76.7 233.8,78 234.1,79.4 234.4,80.8 234.8,82.2 235.1,83.7 235.5,85.3 235.8,86.9 236.2,88.6 236.5,90.2 236.9,92 237.2,93.8 237.6,95.6 237.9,97.4 238.3,99.3 238.6,101.2 238.9,103.2 239.3,105.1 239.6,107.1 240,109.2 240.3,111.2 240.7,113.3 241,115.4 241.4,117.5 241.7,119.6 242.1,121.8 242.4,123.9 242.8,126.1 243.1,128.2 243.5,130.4 243.8,132.6 244.1,134.7 244.5,136.9 244.8,139 245.2,141.1 245.5,143.3 245.9,145.4 246.2,147.5 246.6,149.6 246.9,151.6 247.3,153.7 247.6,155.7 248,157.7 248.3,159.7 248.7,161.7 249,163.6 249.3,165.5 249.7,167.4 250,169.2 250.4,171 250.7,172.7 251.1,174.5 251.4,176.1 251.8,177.8 252.1,179.3 252.5,180.9 252.8,182.4 253.2,183.8 253.5,185.2 253.8,186.6 254.2,187.9 254.5,189.1 254.9,190.3 255.2,191.4 255.6,192.4 255.9,193.5 256.3,194.4 256.6,195.3 257,196.1 257.3,196.8 257.7,197.5 258,198.2 258.4,198.7 258.7,199.2 259,199.6 259.4,200 259.7,200.3 260.1,200.5 260.4,200.7 260.8,200.8 261.1,200.8 261.5,200.8 261.8,200.7 262.2,200.5 262.5,200.2 262.9,199.9 263.2,199.5 263.6,199.1 263.9,198.6 264.2,198 264.6,197.3 264.9,196.6 265.3,195.9 265.6,195 266,194.1 266.3,193.2 266.7,192.1 267,191.1 267.4,189.9 267.7,188.7 268.1,187.5 268.4,186.2 268.7,184.8 269.1,183.4 269.4,181.9 269.8,180.4 270.1,178.9 270.5,177.3 270.8,175.6 271.2,173.9 271.5,172.2 271.9,170.4 272.2,168.6 272.6,166.8 272.9,164.9 273.3,163 273.6,161 273.9,159 274.3,157 274.6,155 275,153 275.3,150.9 275.7,148.8 276,146.7 276.4,144.6 276.7,142.5 277.1,140.3 277.4,138.2 277.8,136 278.1,133.8 278.4,131.7 278.8,129.5 279.1,127.3 279.5,125.1 279.8,122.9 280.2,120.7 280.5,118.6 280.9,116.4 281.2,114.3 281.6,112.2 281.9,110.1 282.3,108 282.6,105.9 283,103.9 283.3,101.9 283.6,99.9 284,98 284.3,96.1 284.7,94.2 285,92.3 285.4,90.5 285.7,88.8 286.1,87.1 286.4,85.4 286.8,83.8 287.1,82.2 287.5,80.7 287.8,79.2 288.2,77.8 288.5,76.4 288.8,75.1 289.2,73.8 289.5,72.6 289.9,71.4 290.2,70.3 290.6,69.3 290.9,68.4 291.3,67.4 291.6,66.6 292,65.8 292.3,65.1 292.7,64.5 293,63.9 293.3,63.4 293.7,62.9 294,62.6 294.4,62.2 294.7,62 295.1,61.8 295.4,61.7 295.8,61.7 296.1,61.7 296.5,61.8 296.8,62 297.2,62.2 297.5,62.6 297.9,62.9 298.2,63.4 298.5,63.9 298.9,64.5 299.2,65.1 299.6,65.8 299.9,66.6 300.3,67.5 300.6,68.4 301,69.3 301.3,70.4 301.7,71.4 302,72.6 302.4,73.8 302.7,75.1 303.1,76.4 303.4,77.8 303.7,79.2 304.1,80.7 304.4,82.2 304.8,83.8 305.1,85.4 305.5,87.1 305.8,88.8 306.2,90.6 306.5,92.4 306.9,94.2 307.2,96.1 307.6,98 307.9,99.9 308.2,101.9 308.6,103.9 308.9,106 309.3,108 309.6,110.1 310,112.2 310.3,114.3 310.7,116.5 311,118.6 311.4,120.8 311.7,123 312.1,125.2 312.4,127.3 312.8,129.5 313.1,131.7 313.4,133.9 313.8,136.1 314.1,138.3 314.5,140.4 314.8,142.6 315.2,144.7 315.5,146.8 315.9,149 316.2,151.1 316.6,153.1 316.9,155.2 317.3,157.2 317.6,159.2 318,161.2 318.3,163.2 318.6,165.1 319,167 319.3,168.8 319.7,170.6 320,172.4 320.4,174.2 320.7,175.8 321.1,177.5 321.4,179.1 321.8,180.7 322.1,182.2 322.5,183.6 322.8,185 323.1,186.4 323.5,187.7 323.8,188.9 324.2,190.1 324.5,191.3 324.9,192.3 325.2,193.3 325.6,194.3 325.9,195.2 326.3,196 326.6,196.8 327,197.5 327.3,198.1 327.7,198.7 328,199.2 328.3,199.6 328.7,200 329,200.3 329.4,200.5 329.7,200.7 330.1,200.8 330.4,200.8 330.8,200.8 331.1,200.7 331.5,200.5 331.8,200.2 332.2,199.9 332.5,199.5 332.9,199.1 333.2,198.6 333.5,198 333.9,197.4 334.2,196.6 334.6,195.9 334.9,195 335.3,194.1 335.6,193.2 336,192.1 336.3,191.1 336.7,189.9 337,188.7 337.4,187.4 337.7,186.1 338,184.8 338.4,183.3 338.7,181.9 339.1,180.3 339.4,178.8 339.8,177.1 340.1,175.5 340.5,173.8 340.8,172 341.2,170.2 341.5,168.4 341.9,166.5 342.2,164.6 342.6,162.7 342.9,160.7 343.2,158.7 343.6,156.7 343.9,154.7 344.3,152.6 344.6,150.5 345,148.4 345.3,146.3 345.7,144.2 346,142 346.4,139.9 346.7,137.7 347.1,135.5 347.4,133.3 347.8,131.2 348.1,129 348.4,126.8 348.8,124.6 349.1,122.4 349.5,120.2 349.8,118 350.2,115.9 350.5,113.8 350.9,111.6 351.2,109.5 351.6,107.5 351.9,105.4 352.3,103.4 352.6,101.4 352.9,99.4 353.3,97.5 353.6,95.6 354,93.7 354.3,91.9 354.7,90.1 355,88.3 355.4,86.6 355.7,84.9 356.1,83.3 356.4,81.7 356.8,80.2 357.1,78.7 357.5,77.3 357.8,76 358.1,74.6 358.5,73.4 358.8,72.2 359.2,71 359.5,70 359.9,68.9 360.2,68 360.6,67.1 360.9,66.2 361.3,65.5 361.6,64.8 362,64.2 362.3,63.6 362.6,63.1 363,62.7 363.3,62.3 363.7,62 364,61.8 364.4,61.7 364.7,61.6 365.1,61.6 365.4,61.6 365.8,61.8 366.1,62 366.5,62.2 366.8,62.5 367.2,63 367.5,63.4 367.8,64 368.2,64.6 368.5,65.2 368.9,66 369.2,66.8 369.6,67.7 369.9,68.6 370.3,69.6 370.6,70.6 371,71.8 371.3,72.9 371.7,74.2 372,75.5 372.4,76.8 372.7,78.2 373,79.7 373.4,81.2 373.7,82.7 374.1,84.3 374.4,86 374.8,87.7 375.1,89.4 375.5,91.2 375.8,93 376.2,94.9 376.5,96.8 376.9,98.7 377.2,100.7 377.5,102.7 377.9,104.7 378.2,106.8 378.6,108.9 378.9,111 379.3,113.1 379.6,115.3 380,117.4 380.3,119.6 380.7,121.8 381,124 381.4,126.2 381.7,128.4 381.9,129.5 382.1,130.6 382.4,132.8" stroke="#3786d2" stroke-width="1"/>
<polyline points="35.9,132.4 36.2,134.6 36.6,136.8 36.9,138.9 37.3,141.1 37.6,143.2 38,145.4 38.3,147.5 38.7,149.6 39,151.7 39.4,153.7 39.7,155.8 40.1,157.8 40.4,159.8 40.8,161.8 41.1,163.7 41.4,165.7 41.8,167.5 42.1,169.4 42.5,171.2 42.8,173 43.2,174.7 43.5,176.4 43.9,178 44.2,179.6 44.6,181.2 44.9,182.7 45.3,184.2 45.6,185.6 45.9,186.9 46.3,188.2 46.6,189.5 47,190.7 47.3,191.8 47.7,192.9 48,193.9 48.4,194.8 48.7,195.7 49.1,196.5 49.4,197.3 49.8,198 50.1,198.6 50.5,199.2 50.8,199.7 51.1,200.2 51.5,200.5 51.8,200.8 52.2,201.1 52.5,201.3 52.9,201.4 53.2,201.4 53.6,201.4 53.9,201.3 54.3,201.1 54.6,200.8 55,200.5 55.3,200.2 55.7,199.7 56,199.2 56.3,198.7 56.7,198 57,197.3 57.4,196.6 57.7,195.7 58.1,194.8 58.4,193.9 58.8,192.9 59.1,191.8 59.5,190.7 59.8,189.5 60.2,188.2 60.5,186.9 60.8,185.6 61.2,184.2 61.5,182.7 61.9,181.2 62.2,179.7 62.6,178.1 62.9,176.4 63.3,174.7 63.6,173 64,171.2 64.3,169.4 64.7,167.6 65,165.7 65.4,163.8 65.7,161.8 66,159.9 66.4,157.9 66.7,155.8 67.1,153.8 67.4,151.7 67.8,149.6 68.1,147.5 68.5,145.4 68.8,143.3 69.2,141.1 69.5,139 69.9,136.8 70.2,134.7 70.5,132.5 70.9,130.3 71.2,128.2 71.6,126 71.9,123.9 72.1,122.8 72.3,121.7 72.6,119.6 73,117.5 73.3,115.4 73.7,113.3 74,111.2 74.4,109.2 74.7,107.1 75.1,105.1 75.4,103.1 75.7,101.2 76.1,99.3 76.4,97.4 76.8,95.6 77.1,93.8 77.5,92 77.8,90.2 78.2,88.6 78.5,86.9 78.9,85.3 79.2,83.8 79.6,82.2 79.9,80.8 80.3,79.4 80.6,78 80.9,76.7 81.3,75.5 81.6,74.3 82,73.2 82.3,72.1 82.7,71.1 83,70.1 83.4,69.2 83.7,68.4 84.1,67.6 84.4,66.9 84.8,66.3 85.1,65.7 85.4,65.2 85.8,64.8 86.1,64.4 86.5,64.1 86.8,63.9 87.2,63.7 87.5,63.6 87.9,63.6 88.2,63.6 88.6,63.7 88.9,63.9 89.3,64.1 89.6,64.4 90,64.8 90.3,65.3 90.6,65.8 91,66.3 91.3,67 91.7,67.7 92,68.5 92.4,69.3 92.7,70.2 93.1,71.1 93.4,72.2 93.8,73.2 94.1,74.4 94.5,75.6 94.8,76.8 95.2,78.1 95.5,79.5 95.8,80.9 96.2,82.3 96.5,83.8 96.9,85.4 97.2,87 97.6,88.7 97.9,90.4 98.3,92.1 98.6,93.9 99,95.7 99.3,97.5 99.7,99.4 100,101.3 100.3,103.3 100.7,105.3 101,107.3 101.4,109.3 101.7,111.3 102.1,113.4 102.4,115.5 102.8,117.6 103.1,119.7 103.5,121.9 103.8,124 104.2,126.2 104.5,128.3 104.9,130.5 105.2,132.7 105.5,134.8 105.9,137 106.2,139.2 106.6,141.3 106.9,143.5 107.3,145.6 107.6,147.7 108,149.8 108.3,151.9 108.7,154 109,156 109.4,158.1 109.7,160.1 110.1,162 110.4,164 110.7,165.9 111.1,167.8 111.4,169.6 111.8,171.4 112.1,173.2 112.5,174.9 112.8,176.6 113.2,178.3 113.5,179.9 113.9,181.4 114.2,182.9 114.6,184.4 114.9,185.8 115.2,187.2 115.6,188.5 115.9,189.7 116.3,190.9 116.6,192 117,193.1 117.3,194.1 117.7,195.1 118,196 118.4,196.8 118.7,197.6 119.1,198.3 119.4,198.9 119.8,199.5 120.1,200 120.4,200.4 120.8,200.8 121.1,201.1 121.5,201.3 121.8,201.5 122.2,201.6 122.5,201.6 122.9,201.6 123.2,201.5 123.6,201.3 123.9,201.1 124.3,200.8 124.6,200.4 125,200 125.3,199.5 125.6,198.9 126,198.3 126.3,197.6 126.7,196.8 127,196 127.4,195.1 127.7,194.1 128.1,193.1 128.4,192 128.8,190.9 129.1,189.7 129.5,188.5 129.8,187.2 130.1,185.8 130.5,184.4 130.8,183 131.2,181.4 131.5,179.9 131.9,178.3 132.2,176.6 132.6,174.9 132.9,173.2 133.3,171.4 133.6,169.6 134,167.8 134.3,165.9 134.7,164 135,162 135.3,160.1 135.7,158.1 136,156 136.4,154 136.7,151.9 137.1,149.8 137.4,147.7 137.8,145.6 138.1,143.5 138.5,141.3 138.8,139.2 139.2,137 139.5,134.9 139.8,132.7 140.2,130.5 140.5,128.3 140.9,126.1 141.2,123.9 141.6,121.8 141.9,119.6 142.3,117.4 142.6,115.3 143,113.2 143.3,111.1 143.7,109 144,107 144.4,104.9 144.7,102.9 145,100.9 145.4,99 145.7,97.1 146.1,95.2 146.4,93.4 146.8,91.6 147.1,89.8 147.5,88.1 147.8,86.5 148.2,84.8 148.5,83.2 148.9,81.7 149.2,80.2 149.6,78.8 149.9,77.4 150.2,76.1 150.6,74.9 150.9,73.7 151.3,72.5 151.6,71.4 152,70.4 152.3,69.4 152.7,68.5 153,67.7 153.4,66.9 153.7,66.2 154.1,65.5 154.4,65 154.7,64.4 155.1,64 155.4,63.6 155.8,63.3 156.1,63.1 156.5,62.9 156.8,62.8 157.2,62.8 157.5,62.8 157.9,62.9 158.2,63.1 158.6,63.3 158.9,63.6 159.3,64 159.6,64.4 159.9,64.9 160.3,65.5 160.6,66.2 161,66.9 161.3,67.6 161.7,68.5 162,69.4 162.4,70.4 162.7,71.4 163.1,72.5 163.4,73.6 163.8,74.8 164.1,76.1 164.5,77.4 164.8,78.8 165.1,80.2 165.5,81.7 165.8,83.2 166.2,84.8 166.5,86.4 166.9,88.1 167.2,89.8 167.6,91.5 167.9,93.3 168.3,95.2 168.6,97 169,98.9 169.3,100.9 169.6,102.9 170,104.9 170.3,106.9 170.7,108.9 171,111 171.4,113.1 171.7,115.2 172.1,117.4 172.4,119.5 172.8,121.7 173.1,123.8 173.5,126 173.8,128.2 174.2,130.4 174.5,132.6 174.8,134.8 175.2,136.9 175.5,139.1 175.9,141.3 176.2,143.4 176.6,145.5 176.9,147.7 177.3,149.8 177.6,151.9 178,153.9 178.3,156 178.7,158 179,160 179.4,162 179.7,164 180,165.9 180.4,167.8 180.7,169.6 181.1,171.4 181.4,173.2 181.8,174.9 182.1,176.6 182.5,178.3 182.8,179.9 183.2,181.4 183.5,182.9 183.9,184.4 184.2,185.8 184.5,187.2 184.9,188.5 185.2,189.7 185.6,190.9 185.9,192.1 186.3,193.1 186.6,194.1 187,195.1 187.3,196 187.7,196.8 188,197.6 188.4,198.3 188.7,198.9 189.1,199.5 189.4,200 189.7,200.4 190.1,200.8 190.4,201.1 190.8,201.4 191.1,201.5 191.5,201.6 191.8,201.7 192.2,201.6 192.5,201.5 192.9,201.4 193.2,201.1 193.6,200.8 193.9,200.4 194.3,200 194.6,199.5 194.9,198.9 195.3,198.3 195.6,197.6 196,196.8 196.3,196 196.7,195.1 197,194.1 197.4,193.1 197.7,192 198.1,190.9 198.4,189.7 198.8,188.5 199.1,187.2 199.4,185.8 199.8,184.4 200.1,182.9 200.5,181.4 200.8,179.9 201.2,178.3 201.5,176.6 201.9,174.9 202.2,173.2 202.6,171.4 202.9,169.6 203.3,167.7 203.6,165.9 204,163.9 204.3,162 204.6,160 205,158 205.3,156 205.7,153.9 206,151.8 206.4,149.8 206.7,147.6 207.1,145.5 207.4,143.4 207.8,141.2 208.1,139.1 208.5,136.9 208.8,134.7 209.2,132.6 209.5,130.4 209.8,128.2 210.2,126 210.5,123.9 210.9,121.7 211.2,119.5 211.6,117.4 211.9,115.3 212.3,113.2 212.6,111.1 213,109 213.3,107 213.7,104.9 214,103 214.3,101 214.7,99.1 215,97.2 215.4,95.3 215.7,93.5 216.1,91.7 216.4,89.9 216.8,88.2 217.1,86.6 217.5,85 217.8,83.4 218.2,81.9 218.5,80.4 218.9,79 219.2,77.6 219.5,76.3 219.9,75 220.2,73.8 220.6,72.7 220.9,71.6 221.3,70.6 221.6,69.6 222,68.7 222.3,67.9 222.7,67.1 223,66.4 223.4,65.8 223.7,65.2 224,64.7 224.4,64.2 224.7,63.9 225.1,63.6 225.4,63.3 225.8,63.2 226.1,63 226.5,63 226.8,63 227.2,63.2 227.5,63.3 227.9,63.6 228.2,63.9 228.6,64.2 228.9,64.7 229.2,65.2 229.6,65.8 229.9,66.4 230.3,67.1 230.6,67.9 231,68.7 231.3,69.6 231.7,70.6 232,71.6 232.4,72.7 232.7,73.9 233.1,75.1 233.4,76.3 233.8,77.6 234.1,79 234.4,80.4 234.8,81.9 235.1,83.4 235.5,85 235.8,86.6 236.2,88.3 236.5,90 236.9,91.7 237.2,93.5 237.6,95.3 237.9,97.2 238.3,99.1 238.6,101 238.9,103 239.3,105 239.6,107 240,109 240.3,111.1 240.7,113.2 241,115.3 241.4,117.4 241.7,119.6 242.1,121.7 242.4,123.9 242.8,126.1 243.1,128.3 243.5,130.4 243.8,132.6 244.1,134.8 244.5,137 244.8,139.1 245.2,141.3 245.5,143.4 245.9,145.5 246.2,147.7 246.6,149.8 246.9,151.9 247.3,153.9 247.6,156 248,158 248.3,160 248.7,162 249,163.9 249.3,165.8 249.7,167.7 250,169.6 250.4,171.4 250.7,173.2 251.1,174.9 251.4,176.6 251.8,178.2 252.1,179.8 252.5,181.4 252.8,182.9 253.2,184.4 253.5,185.8 253.8,187.1 254.2,188.4 254.5,189.7 254.9,190.9 255.2,192 255.6,193.1 255.9,194.1 256.3,195 256.6,195.9 257,196.8 257.3,197.5 257.7,198.2 258,198.9 258.4,199.4 258.7,199.9 259,200.4 259.4,200.8 259.7,201.1 260.1,201.3 260.4,201.5 260.8,201.6 261.1,201.6 261.5,201.6 261.8,201.5 262.2,201.3 262.5,201.1 262.9,200.8 263.2,200.4 263.6,199.9 263.9,199.4 264.2,198.9 264.6,198.2 264.9,197.5 265.3,196.8 265.6,195.9 266,195.1 266.3,194.1 266.7,193.1 267,192 267.4,190.9 267.7,189.7 268.1,188.5 268.4,187.2 268.7,185.8 269.1,184.4 269.4,182.9 269.8,181.4 270.1,179.9 270.5,178.3 270.8,176.6 271.2,174.9 271.5,173.2 271.9,171.4 272.2,169.6 272.6,167.8 272.9,165.9 273.3,164 273.6,162 273.9,160.1 274.3,158.1 274.6,156 275,154 275.3,151.9 275.7,149.8 276,147.7 276.4,145.6 276.7,143.5 277.1,141.3 277.4,139.2 277.8,137 278.1,134.9 278.4,132.7 278.8,130.5 279.1,128.3 279.5,126.1 279.8,123.9 280.2,121.7 280.5,119.6 280.9,117.4 281.2,115.3 281.6,113.2 281.9,111 282.3,109 282.6,106.9 283,104.9 283.3,102.9 283.6,100.9 284,98.9 284.3,97 284.7,95.2 285,93.3 285.4,91.5 285.7,89.8 286.1,88 286.4,86.4 286.8,84.7 287.1,83.2 287.5,81.6 287.8,80.1 288.2,78.7 288.5,77.3 288.8,76 289.2,74.8 289.5,73.5 289.9,72.4 290.2,71.3 290.6,70.3 290.9,69.3 291.3,68.4 291.6,67.6 292,66.8 292.3,66.1 292.7,65.4 293,64.8 293.3,64.3 293.7,63.9 294,63.5 294.4,63.2 294.7,63 295.1,62.8 295.4,62.7 295.8,62.6 296.1,62.7 296.5,62.8 296.8,62.9 297.2,63.2 297.5,63.5 297.9,63.9 298.2,64.3 298.5,64.8 298.9,65.4 299.2,66.1 299.6,66.8 299.9,67.6 300.3,68.4 300.6,69.3 301,70.3 301.3,71.3 301.7,72.4 302,73.5 302.4,74.7 302.7,76 303.1,77.3 303.4,78.7 303.7,80.1 304.1,81.6 304.4,83.1 304.8,84.7 305.1,86.4 305.5,88 305.8,89.7 306.2,91.5 306.5,93.3 306.9,95.1 307.2,97 307.6,98.9 307.9,100.9 308.2,102.8 308.6,104.9 308.9,106.9 309.3,108.9 309.6,111 310,113.1 310.3,115.3 310.7,117.4 311,119.5 311.4,121.7 311.7,123.9 312.1,126.1 312.4,128.3 312.8,130.5 313.1,132.7 313.4,134.8 313.8,137 314.1,139.2 314.5,141.3 314.8,143.5 315.2,145.6 315.5,147.8 315.9,149.9 316.2,152 316.6,154.1 316.9,156.1 317.3,158.1 317.6,160.2 318,162.1 318.3,164.1 318.6,166 319,167.9 319.3,169.8 319.7,171.6 320,173.4 320.4,175.1 320.7,176.8 321.1,178.4 321.4,180 321.8,181.6 322.1,183.1 322.5,184.6 322.8,186 323.1,187.4 323.5,188.7 323.8,189.9 324.2,191.1 324.5,192.2 324.9,193.3 325.2,194.3 325.6,195.3 325.9,196.2 326.3,197 326.6,197.8 327,198.5 327.3,199.1 327.7,199.7 328,200.2 328.3,200.6 328.7,201 329,201.3 329.4,201.6 329.7,201.7 330.1,201.8 330.4,201.9 330.8,201.8 331.1,201.7 331.5,201.6 331.8,201.3 332.2,201 332.5,200.6 332.9,200.2 333.2,199.7 333.5,199.1 333.9,198.5 334.2,197.8 334.6,197 334.9,196.1 335.3,195.3 335.6,194.3 336,193.3 336.3,192.2 336.7,191.1 337,189.9 337.4,188.6 337.7,187.3 338,185.9 338.4,184.5 338.7,183.1 339.1,181.5 339.4,180 339.8,178.4 340.1,176.7 340.5,175 340.8,173.3 341.2,171.5 341.5,169.7 341.9,167.8 342.2,165.9 342.6,164 342.9,162 343.2,160.1 343.6,158 343.9,156 344.3,154 344.6,151.9 345,149.8 345.3,147.7 345.7,145.5 346,143.4 346.4,141.2 346.7,139.1 347.1,136.9 347.4,134.7 347.8,132.5 348.1,130.3 348.4,128.1 348.8,126 349.1,123.8 349.5,121.6 349.8,119.4 350.2,117.3 350.5,115.1 350.9,113 351.2,110.9 351.6,108.8 351.9,106.8 352.3,104.8 352.6,102.8 352.9,100.8 353.3,98.8 353.6,96.9 354,95.1 354.3,93.2 354.7,91.4 355,89.7 355.4,88 355.7,86.3 356.1,84.7 356.4,83.1 356.8,81.5 357.1,80.1 357.5,78.6 357.8,77.3 358.1,75.9 358.5,74.7 358.8,73.5 359.2,72.3 359.5,71.2 359.9,70.2 360.2,69.2 360.6,68.3 360.9,67.5 361.3,66.7 361.6,66 362,65.4 362.3,64.8 362.6,64.3 363,63.8 363.3,63.4 363.7,63.1 364,62.9 364.4,62.7 364.7,62.6 365.1,62.6 365.4,62.6 365.8,62.7 366.1,62.9 366.5,63.1 366.8,63.4 367.2,63.8 367.5,64.3 367.8,64.8 368.2,65.3 368.5,66 368.9,66.7 369.2,67.5 369.6,68.3 369.9,69.2 370.3,70.2 370.6,71.2 371,72.3 371.3,73.4 371.7,74.6 372,75.9 372.4,77.2 372.7,78.6 373,80 373.4,81.5 373.7,83 374.1,84.6 374.4,86.2 374.8,87.9 375.1,89.6 375.5,91.4 375.8,93.2 376.2,95 376.5,96.9 376.9,98.8 377.2,100.7 377.5,102.7 377.9,104.7 378.2,106.7 378.6,108.8 378.9,110.8 379.3,112.9 379.6,115.1 380,117.2 380.3,119.3 380.7,121.5 381,123.7 381.4,125.9 381.7,128.1 381.9,129.1 382.1,130.2 382.4,132.4" stroke="#111" stroke-width="1.0"/>
</g>
<line x1="35.9" y1="132.6" x2="382.4" y2="132.6" stroke="#222" stroke-width="1.05" stroke-dasharray="8.1,4.9"/>
<rect x="35.9" y="20.4" width="346.5" height="208.4" fill="none" stroke="#404040" stroke-width="1.0"/><path d="M70.5,228.8v-3.5M70.5,20.4v3.5M105.2,228.8v-3.5M105.2,20.4v3.5M139.8,228.8v-3.5M139.8,20.4v3.5M174.5,228.8v-3.5M174.5,20.4v3.5M209.2,228.8v-3.5M209.2,20.4v3.5M243.8,228.8v-3.5M243.8,20.4v3.5M278.4,228.8v-3.5M278.4,20.4v3.5M313.1,228.8v-3.5M313.1,20.4v3.5M347.8,228.8v-3.5M347.8,20.4v3.5M35.9,196.7h3.5M382.4,196.7h-3.5M35.9,164.7h3.5M382.4,164.7h-3.5M35.9,132.6h3.5M382.4,132.6h-3.5M35.9,100.6h3.5M382.4,100.6h-3.5M35.9,68.5h3.5M382.4,68.5h-3.5M35.9,36.4h3.5M382.4,36.4h-3.5" stroke="#404040" stroke-width="1.0" fill="none"/>
<g font-size="10" fill="#222"><text x="35.9" y="241.9" text-anchor="middle">0</text><text x="70.5" y="241.9" text-anchor="middle">1</text><text x="105.2" y="241.9" text-anchor="middle">2</text><text x="139.8" y="241.9" text-anchor="middle">3</text><text x="174.5" y="241.9" text-anchor="middle">4</text><text x="209.2" y="241.9" text-anchor="middle">5</text><text x="243.8" y="241.9" text-anchor="middle">6</text><text x="278.4" y="241.9" text-anchor="middle">7</text><text x="313.1" y="241.9" text-anchor="middle">8</text><text x="347.8" y="241.9" text-anchor="middle">9</text><text x="382.4" y="241.9" text-anchor="middle">10</text><text x="32.6" y="23.8" text-anchor="end">7</text><text x="32.6" y="39.8" text-anchor="end">6</text><text x="32.6" y="71.9" text-anchor="end">4</text><text x="32.6" y="104" text-anchor="end">2</text><text x="32.6" y="136" text-anchor="end">0</text><text x="32.6" y="168.1" text-anchor="end">-2</text><text x="32.6" y="200.1" text-anchor="end">-4</text><text x="32.6" y="232.2" text-anchor="end">-6</text></g>
<text y="17.9" fill="#222"><tspan x="36.2" font-size="11.8" y="19.5">&#215;</tspan><tspan x="44.2" y="17.9" font-size="10">10</tspan><tspan x="53.9" y="12.6" font-size="7.2">4</tspan></text>
<text x="209.1" y="253.9" font-size="10" fill="#222" text-anchor="middle">Time /s</text>
<text transform="translate(20.1,124.6) rotate(-90)" font-size="10" fill="#222" text-anchor="middle">Force /N</text>
<rect x="41.5" y="24.5" width="313" height="30.7" fill="#fff" stroke="#404040" stroke-width="1"/>
<line x1="45.1" y1="32.9" x2="77.9" y2="32.9" stroke="#da3645" stroke-width="1.0"/><text x="80.6" y="34.2" font-size="9.1" fill="#222">F<tspan font-size="7.2" dy="4.1">buck,y0</tspan><tspan dy="-4.1">-Model 1</tspan></text>
<line x1="150.4" y1="32.9" x2="183.4" y2="32.9" stroke="#3786d2" stroke-width="1.0"/><text x="185.6" y="34.2" font-size="9.1" fill="#222">F<tspan font-size="7.2" dy="4.1">buck,y0</tspan><tspan dy="-4.1">-Model 2</tspan></text>
<line x1="253.7" y1="32.9" x2="286.4" y2="32.9" stroke="#c9a23a" stroke-width="1.0"/><text x="289.4" y="34.2" font-size="9.1" fill="#222">F<tspan font-size="7.2" dy="4.1">buck,y0</tspan><tspan dy="-4.1">-Model 3</tspan></text>
<line x1="45.1" y1="47.3" x2="77.9" y2="47.3" stroke="#111" stroke-width="1.1"/><text x="80.6" y="48.8" font-size="9.1" fill="#222">F<tspan font-size="7.2" dy="4.1">buck,y0</tspan><tspan dy="-4.1">-Model N</tspan></text>
<line x1="150.4" y1="47.3" x2="183.4" y2="47.3" stroke="#111" stroke-width="1.2" stroke-dasharray="6.7,2.5,1.2,2.7"/><text x="185.6" y="48.8" font-size="9.1" fill="#222">F<tspan font-size="7.2" dy="4.1">buck,y0</tspan><tspan dy="-4.1">-Added</tspan></text>
<rect x="214.3" y="178.6" width="35.1" height="36.1" fill="#fff" stroke="#404040" stroke-width="1.1"/>
<g clip-path="url(#cz)" fill="none">
<polyline points="213.3,176.9 213.8,178.6 214.2,180.2 214.7,181.8 215.2,183.4 215.6,184.9 216.1,186.3 216.6,187.8 217.1,189.2 217.5,190.5 218,191.8 218.5,193 218.9,194.3 219.4,195.4 219.9,196.5 220.3,197.6 220.8,198.7 221.3,199.7 221.8,200.6 222.2,201.5 222.7,202.4 223.2,203.2 223.6,204 224.1,204.7 224.6,205.4 225,206.1 225.5,206.7 226,207.2 226.4,207.7 226.9,208.2 227.4,208.6 227.9,209 228.3,209.4 228.8,209.7 229.3,209.9 229.7,210.2 230.2,210.3 230.7,210.5 231.1,210.6 231.6,210.6 232.1,210.6 232.6,210.6 233,210.5 233.5,210.3 234,210.2 234.4,209.9 234.9,209.7 235.4,209.4 235.8,209 236.3,208.6 236.8,208.2 237.3,207.7 237.7,207.2 238.2,206.7 238.7,206.1 239.1,205.4 239.6,204.7 240.1,204 240.5,203.2 241,202.4 241.5,201.5 241.9,200.6 242.4,199.7 242.9,198.7 243.4,197.6 243.8,196.5 244.3,195.4 244.8,194.3 245.2,193 245.7,191.8 246.2,190.5 246.6,189.2 247.1,187.8 247.6,186.3 248.1,184.9 248.5,183.4 249,181.8 249.5,180.2 249.9,178.6 250.4,176.9" stroke="#da3645" stroke-width="0.9"/>
<polyline points="213.3,164.4 213.8,166 214.2,167.6 214.7,169.2 215.2,170.7 215.6,172.2 216.1,173.6 216.6,175 217.1,176.4 217.5,177.7 218,179 218.5,180.2 218.9,181.4 219.4,182.5 219.9,183.6 220.3,184.7 220.8,185.7 221.3,186.7 221.8,187.6 222.2,188.5 222.7,189.3 223.2,190.2 223.6,190.9 224.1,191.6 224.6,192.3 225,192.9 225.5,193.5 226,194.1 226.4,194.6 226.9,195.1 227.4,195.5 227.9,195.9 228.3,196.2 228.8,196.5 229.3,196.8 229.7,197 230.2,197.1 230.7,197.3 231.1,197.4 231.6,197.4 232.1,197.4 232.6,197.4 233,197.3 233.5,197.1 234,197 234.4,196.8 234.9,196.5 235.4,196.2 235.8,195.9 236.3,195.5 236.8,195.1 237.3,194.6 237.7,194.1 238.2,193.5 238.7,192.9 239.1,192.3 239.6,191.6 240.1,190.9 240.5,190.2 241,189.3 241.5,188.5 241.9,187.6 242.4,186.7 242.9,185.7 243.4,184.7 243.8,183.6 244.3,182.5 244.8,181.4 245.2,180.2 245.7,179 246.2,177.7 246.6,176.4 247.1,175 247.6,173.6 248.1,172.2 248.5,170.7 249,169.2 249.5,167.6 249.9,166 250.4,164.4" stroke="#c9a23a" stroke-width="1.0"/>
<polyline points="213.3,160.7 213.8,162.3 214.2,163.9 214.7,165.4 215.2,166.8 215.6,168.2 216.1,169.6 216.6,171 217.1,172.3 217.5,173.5 218,174.7 218.5,175.9 218.9,177.1 219.4,178.2 219.9,179.2 220.3,180.2 220.8,181.2 221.3,182.1 221.8,183 222.2,183.9 222.7,184.7 223.2,185.5 223.6,186.2 224.1,186.9 224.6,187.5 225,188.1 225.5,188.7 226,189.2 226.4,189.7 226.9,190.2 227.4,190.6 227.9,190.9 228.3,191.3 228.8,191.5 229.3,191.8 229.7,192 230.2,192.2 230.7,192.3 231.1,192.4 231.6,192.4 232.1,192.4 232.6,192.4 233,192.3 233.5,192.2 234,192 234.4,191.8 234.9,191.5 235.4,191.3 235.8,190.9 236.3,190.6 236.8,190.2 237.3,189.7 237.7,189.2 238.2,188.7 238.7,188.1 239.1,187.5 239.6,186.9 240.1,186.2 240.5,185.5 241,184.7 241.5,183.9 241.9,183 242.4,182.1 242.9,181.2 243.4,180.2 243.8,179.2 244.3,178.2 244.8,177.1 245.2,175.9 245.7,174.7 246.2,173.5 246.6,172.3 247.1,171 247.6,169.6 248.1,168.2 248.5,166.8 249,165.4 249.5,163.9 249.9,162.3 250.4,160.7" stroke="#3786d2" stroke-width="1.0"/>
<polyline points="213.3,158.4 213.8,160 214.2,161.6 214.7,163.1 215.2,164.5 215.6,165.9 216.1,167.3 216.6,168.7 217.1,170 217.5,171.2 218,172.4 218.5,173.6 218.9,174.8 219.4,175.9 219.9,176.9 220.3,177.9 220.8,178.9 221.3,179.8 221.8,180.7 222.2,181.6 222.7,182.4 223.2,183.2 223.6,183.9 224.1,184.6 224.6,185.2 225,185.8 225.5,186.4 226,186.9 226.4,187.4 226.9,187.9 227.4,188.3 227.9,188.6 228.3,189 228.8,189.2 229.3,189.5 229.7,189.7 230.2,189.9 230.7,190 231.1,190.1 231.6,190.1 232.1,190.1 232.6,190.1 233,190 233.5,189.9 234,189.7 234.4,189.5 234.9,189.2 235.4,189 235.8,188.6 236.3,188.3 236.8,187.9 237.3,187.4 237.7,186.9 238.2,186.4 238.7,185.8 239.1,185.2 239.6,184.6 240.1,183.9 240.5,183.2 241,182.4 241.5,181.6 241.9,180.7 242.4,179.8 242.9,178.9 243.4,177.9 243.8,176.9 244.3,175.9 244.8,174.8 245.2,173.6 245.7,172.4 246.2,171.2 246.6,170 247.1,168.7 247.6,167.3 248.1,165.9 248.5,164.5 249,163.1 249.5,161.6 249.9,160 250.4,158.4" stroke="#111" stroke-width="1.2"/>
</g>
<line x1="195.9" y1="201.9" x2="213.6" y2="203.9" stroke="#111" stroke-width="0.9" marker-end="url(#ah)"/>
<g clip-path="url(#cb)" fill="none" stroke-linejoin="round">
<polyline points="47.5,478.7 47.8,472.7 48.2,466.7 48.5,460.7 48.8,454.7 49.2,448.8 49.5,442.9 49.8,437.1 50.2,431.4 50.5,425.6 50.8,420 51.2,414.4 51.5,408.9 51.9,403.5 52.2,398.2 52.5,392.9 52.9,387.7 53.2,382.7 53.5,377.7 53.9,372.8 54.2,368.1 54.5,363.4 54.9,358.9 55.2,354.5 55.5,350.3 55.9,346.1 56.2,342.1 56.5,338.2 56.9,334.5 57.2,330.9 57.5,327.4 57.9,324.1 58.2,321 58.5,318 58.9,315.2 59.2,312.5 59.5,310 59.9,307.6 60.2,305.4 60.6,303.4 60.9,301.6 61.2,299.9 61.6,298.4 61.9,297 62.2,295.9 62.6,294.9 62.9,294.1 63.2,293.5 63.6,293 63.9,292.8 64.2,292.7 64.6,292.8 64.9,293 65.2,293.4 65.6,294 65.9,294.8 66.2,295.7 66.6,296.9 66.9,298.1 67.2,299.6 67.6,301.2 67.9,302.9 68.3,304.9 68.6,307 68.9,309.2 69.3,311.6 69.6,314.2 69.9,316.9 70.3,319.8 70.6,322.8 70.9,326 71.3,329.3 71.6,332.7 71.9,336.3 72.3,340 72.6,343.9 72.9,347.9 73.3,352 73.6,356.2 73.9,360.5 74.3,365 74.6,369.6 74.9,374.3 75.3,379 75.6,383.9 75.9,388.9 76.3,394 76.6,399.1 77,404.4 77.3,409.7 77.6,415.1 78,420.5 78.3,426.1 78.6,431.7 79,437.3 79.3,443 79.6,448.7 80,454.5 80.3,460.3 80.6,466.2 81,472.1 81.3,478 81.6,483.9 82,489.8 82.3,495.7 82.5,498.7 82.6,496.8 83,493.1 83.3,489.3 83.6,485.6 84,481.9 84.3,478.2 84.7,474.5 85,470.9 85.3,467.3 85.7,463.8 86,460.2 86.3,456.8 86.7,453.4 87,450.1 87.3,446.8 87.7,443.6 88,440.5 88.3,437.5 88.7,434.5 89,431.6 89.3,428.9 89.7,426.2 90,423.6 90.3,421.1 90.7,418.8 91,416.5 91.3,414.3 91.7,412.3 92,410.4 92.3,408.6 92.7,406.9 93,405.4 93.4,404 93.7,402.7 94,401.5 94.4,400.5 94.7,399.6 95,398.8 95.4,398.2 95.7,397.7 96,397.4 96.4,397.2 96.7,397.1 97,397.1 97.4,397.3 97.7,397.5 98,397.8 98.4,398.2 98.7,398.8 99,399.4 99.4,400 99.7,400.8 100,401.7 100.4,402.6 100.7,403.7 101.1,404.8 101.4,406 101.7,407.3 102.1,408.7 102.4,410.2 102.7,411.7 103.1,413.4 103.4,415.1 103.7,416.9 104.1,418.7 104.4,420.6 104.7,422.6 105.1,424.7 105.4,426.8 105.7,429.1 106.1,431.3 106.4,433.6 106.7,436 107.1,438.5 107.4,441 107.7,443.5 108.1,446.1 108.4,448.8 108.8,451.5 109.1,454.2 109.4,457 109.8,459.8 110.1,462.7 110.4,465.6 110.8,468.5 111.1,471.4 111.4,474.4 111.8,477.4 112.1,480.4 112.4,483.4 112.8,486.5 113.1,489.5 113.4,492.6 113.8,495.6 114.1,498.7 114.4,496.2 114.8,493.8 115.1,491.3 115.4,488.9 115.8,486.4 116.1,484 116.4,481.6 116.8,479.2 117.1,476.8 117.5,474.4 117.8,472.1 118.1,469.8 118.5,467.5 118.8,465.3 119.1,463.1 119.5,460.9 119.8,458.8 120.1,456.7 120.5,454.6 120.8,452.6 121.1,450.7 121.5,448.8 121.8,446.9 122.1,445.1 122.5,443.4 122.8,441.7 123.1,440.1 123.5,438.5 123.8,437 124.1,435.5 124.5,434.2 124.8,432.8 125.2,431.6 125.5,430.4 125.8,429.3 126.2,428.3 126.5,427.3 126.8,426.4 127.2,425.6 127.5,424.9 127.8,424.2 128.2,423.6 128.5,423.1 128.8,422.7 129.2,422.3 129.5,422 129.8,421.8 130.2,421.7 130.5,421.7 130.8,421.7 131.2,421.8 131.5,422 131.8,422.3 132.2,422.6 132.5,423 132.8,423.5 133.2,424 133.5,424.6 133.9,425.3 134.2,426.1 134.5,426.9 134.9,427.8 135.2,428.7 135.5,429.8 135.9,430.9 136.2,432 136.5,433.2 136.9,434.5 137.2,435.8 137.5,437.2 137.9,438.7 138.2,440.2 138.5,441.8 138.9,443.4 139.2,445.1 139.5,446.8 139.9,448.6 140.2,450.4 140.5,452.3 140.9,454.2 141.2,456.2 141.6,458.2 141.9,460.2 142.2,462.3 142.6,464.4 142.9,466.5 143.2,468.7 143.6,470.9 143.9,473.1 144.2,475.4 144.6,477.6 144.9,479.9 145.2,482.2 145.6,484.5 145.9,486.9 146.2,489.2 146.6,491.6 146.9,494 147.2,496.3 147.6,498.7 147.9,496.6 148.2,494.5 148.6,492.4 148.9,490.3 149.2,488.2 149.6,486.2 149.9,484.1 150.3,482.1 150.6,480.1 150.9,478.1 151.3,476.1 151.6,474.1 151.9,472.2 152.3,470.3 152.6,468.4 152.9,466.6 153.3,464.8 153.6,463 153.9,461.3 154.3,459.6 154.6,458 154.9,456.4 155.3,454.8 155.6,453.3 155.9,451.8 156.3,450.4 156.6,449.1 156.9,447.7 157.3,446.5 157.6,445.3 158,444.2 158.3,443.1 158.6,442.1 159,441.1 159.3,440.2 159.6,439.4 160,438.6 160.3,437.9 160.6,437.2 161,436.7 161.3,436.2 161.6,435.7 162,435.3 162.3,435 162.6,434.8 163,434.6 163.3,434.5 163.6,434.5 164,434.5 164.3,434.6 164.6,434.7 165,434.9 165.3,435.2 165.6,435.5 166,435.9 166.3,436.3 166.7,436.7 167,437.3 167.3,437.9 167.7,438.5 168,439.2 168.3,439.9 168.7,440.7 169,441.6 169.3,442.5 169.7,443.4 170,444.4 170.3,445.4 170.7,446.5 171,447.7 171.3,448.8 171.7,450.1 172,451.3 172.3,452.6 172.7,454 173,455.4 173.3,456.8 173.7,458.2 174,459.7 174.4,461.3 174.7,462.8 175,464.4 175.4,466 175.7,467.7 176,469.4 176.4,471.1 176.7,472.8 177,474.6 177.4,476.3 177.7,478.1 178,479.9 178.4,481.8 178.7,483.6 179,485.5 179.4,487.3 179.7,489.2 180,491.1 180.4,493 180.7,494.9 181,496.8 181.4,498.7 181.7,497.3 182,496 182.4,494.6 182.7,493.3 183.1,491.9 183.4,490.6 183.7,489.3 184.1,488 184.4,486.7 184.7,485.4 185.1,484.1 185.4,482.9 185.7,481.6 186.1,480.4 186.4,479.3 186.7,478.1 187.1,477 187.4,475.9 187.7,474.8 188.1,473.8 188.4,472.7 188.7,471.8 189.1,470.8 189.4,469.9 189.7,469 190.1,468.2 190.4,467.4 190.8,466.7 191.1,465.9 191.4,465.3 191.8,464.6 192.1,464 192.4,463.5 192.8,463 193.1,462.6 193.4,462.1 193.8,461.8 194.1,461.5 194.4,461.2 194.8,461 195.1,460.8 195.4,460.7 195.8,460.6 196.1,460.6 196.4,460.6 196.8,460.7 197.1,460.7 197.4,460.8 197.8,460.9 198.1,461.1 198.4,461.2 198.8,461.4 199.1,461.6 199.5,461.9 199.8,462.1 200.1,462.4 200.5,462.7 200.8,463.1 201.1,463.4 201.5,463.8 201.8,464.2 202.1,464.6 202.5,465.1 202.8,465.5 203.1,466 203.5,466.6 203.8,467.1 204.1,467.6 204.5,468.2 204.8,468.8 205.1,469.4 205.5,470.1 205.8,470.7 206.1,471.4 206.5,472.1 206.8,472.8 207.2,473.5 207.5,474.3 207.8,475.1 208.2,475.8 208.5,476.6 208.8,477.4 209.2,478.3 209.5,479.1 209.8,479.9 210.2,480.8 210.5,481.7 210.8,482.5 211.2,483.4 211.5,484.3 211.8,485.3 212.2,486.2 212.5,487.1 212.8,488.1 213.2,489 213.5,489.9 213.8,490.9 214.2,491.9 214.5,492.8 214.8,493.8 215.2,494.8 215.5,495.8 215.9,496.7 216.2,497.7 216.5,498.7 216.9,498 217.2,497.2 217.5,496.5 217.9,495.8 218.2,495.1 218.5,494.3 218.9,493.6 219.2,492.9 219.5,492.2 219.9,491.5 220.2,490.8 220.5,490.1 220.9,489.4 221.2,488.7 221.5,488.1 221.9,487.4 222.2,486.7 222.5,486.1 222.9,485.5 223.2,484.8 223.6,484.2 223.9,483.6 224.2,483 224.6,482.4 224.9,481.8 225.2,481.3 225.6,480.7 225.9,480.2 226.2,479.7 226.6,479.2 226.9,478.7 227.2,478.2 227.6,477.7 227.9,477.3 228.2,476.8 228.6,476.4 228.9,476 229.2,475.6 229.6,475.3 229.9,474.9 230.2,474.6 230.6,474.3 230.9,474 231.3,473.7 231.6,473.4 231.9,473.2 232.3,473 232.6,472.8 232.9,472.6 233.3,472.4 233.6,472.3 233.9,472.1 234.3,472 234.6,471.9 234.9,471.9 235.3,471.8 235.6,471.8 235.9,471.8 236.3,471.8 236.6,471.9 236.9,472 237.3,472.2 237.6,472.5 237.9,472.8 238.3,473.1 238.6,473.5 238.9,474 239.3,474.5 239.6,475 240,475.6 240.3,476.2 240.6,476.9 241,477.7 241.3,478.4 241.6,479.2 242,480.1 242.3,481 242.6,481.9 243,482.9 243.3,483.9 243.6,484.9 244,485.9 244.3,487 244.6,488.1 245,489.2 245.3,490.4 245.6,491.5 246,492.7 246.3,493.9 246.6,495.1 247,496.3 247.3,497.5 247.7,498.7 248,496.9 248.3,495.1 248.7,493.3 249,491.5 249.3,489.7 249.7,487.9 250,486.2 250.3,484.4 250.7,482.7 251,480.9 251.3,479.2 251.7,477.5 252,475.8 252.3,474.2 252.7,472.5 253,470.9 253.3,469.3 253.7,467.7 254,466.2 254.3,464.7 254.7,463.2 255,461.7 255.3,460.3 255.7,458.9 256,457.5 256.4,456.2 256.7,454.9 257,453.7 257.4,452.5 257.7,451.3 258,450.1 258.4,449 258.7,448 259,447 259.4,446 259.7,445.1 260,444.2 260.4,443.4 260.7,442.6 261,441.9 261.4,441.2 261.7,440.5 262,439.9 262.4,439.4 262.7,438.9 263,438.5 263.4,438.1 263.7,437.7 264.1,437.4 264.4,437.2 264.7,437 265.1,436.9 265.4,436.8 265.7,436.8 266.1,436.8 266.4,436.9 266.7,437.1 267.1,437.3 267.4,437.7 267.7,438 268.1,438.5 268.4,439 268.7,439.6 269.1,440.2 269.4,440.9 269.7,441.7 270.1,442.5 270.4,443.4 270.7,444.4 271.1,445.4 271.4,446.5 271.7,447.7 272.1,448.9 272.4,450.1 272.8,451.4 273.1,452.8 273.4,454.2 273.8,455.7 274.1,457.2 274.4,458.7 274.8,460.3 275.1,462 275.4,463.7 275.8,465.4 276.1,467.2 276.4,468.9 276.8,470.8 277.1,472.6 277.4,474.5 277.8,476.4 278.1,478.4 278.4,480.4 278.8,482.3 279.1,484.3 279.4,486.4 279.8,488.4 280.1,490.4 280.5,492.5 280.8,494.6 281.1,496.6 281.5,498.7 281.8,496.2 282.1,493.6 282.5,491.1 282.8,488.5 283.1,486 283.5,483.5 283.8,481 284.1,478.5 284.5,476 284.8,473.6 285.1,471.2 285.5,468.8 285.8,466.4 286.1,464.1 286.5,461.8 286.8,459.5 287.1,457.3 287.5,455.1 287.8,452.9 288.1,450.8 288.5,448.7 288.8,446.7 289.2,444.7 289.5,442.8 289.8,440.9 290.2,439 290.5,437.3 290.8,435.6 291.2,433.9 291.5,432.3 291.8,430.8 292.2,429.3 292.5,427.9 292.8,426.5 293.2,425.2 293.5,424 293.8,422.9 294.2,421.8 294.5,420.8 294.8,419.8 295.2,419 295.5,418.2 295.8,417.4 296.2,416.8 296.5,416.2 296.9,415.7 297.2,415.3 297.5,415 297.9,414.7 298.2,414.5 298.5,414.4 298.9,414.3 299.2,414.4 299.5,414.5 299.9,414.7 300.2,415.1 300.5,415.5 300.9,416 301.2,416.5 301.5,417.2 301.9,418 302.2,418.8 302.5,419.7 302.9,420.8 303.2,421.9 303.5,423 303.9,424.3 304.2,425.6 304.5,427.1 304.9,428.6 305.2,430.1 305.6,431.8 305.9,433.5 306.2,435.3 306.6,437.1 306.9,439 307.2,441 307.6,443.1 307.9,445.2 308.2,447.3 308.6,449.6 308.9,451.8 309.2,454.2 309.6,456.5 309.9,458.9 310.2,461.4 310.6,463.9 310.9,466.4 311.2,469 311.6,471.6 311.9,474.2 312.2,476.9 312.6,479.5 312.9,482.2 313.3,485 313.6,487.7 313.9,490.4 314.3,493.2 314.6,495.9 314.9,498.7 315.3,495.3 315.6,491.8 315.9,488.4 316.3,485 316.6,481.6 316.9,478.2 317.3,474.8 317.6,471.5 317.9,468.1 318.3,464.8 318.6,461.5 318.9,458.3 319.3,455 319.6,451.9 319.9,448.7 320.3,445.6 320.6,442.5 320.9,439.4 321.3,436.5 321.6,433.5 322,430.6 322.3,427.8 322.6,425 323,422.2 323.3,419.6 323.6,416.9 324,414.4 324.3,411.9 324.6,409.5 325,407.1 325.3,404.8 325.6,402.6 326,400.5 326.3,398.4 326.6,396.4 327,394.5 327.3,392.6 327.6,390.9 328,389.2 328.3,387.6 328.6,386.1 329,384.7 329.3,383.4 329.7,382.1 330,380.9 330.3,379.9 330.7,378.9 331,378 331.3,377.2 331.7,376.5 332,375.9 332.3,375.4 332.7,375 333,374.6 333.3,374.4 333.7,374.3 334,374.2 334.3,374.3 334.7,374.5 335,374.9 335.3,375.5 335.7,376.2 336,377 336.3,378.1 336.7,379.2 337,380.6 337.4,382.1 337.7,383.7 338,385.5 338.4,387.4 338.7,389.4 339,391.6 339.4,394 339.7,396.4 340,399 340.4,401.8 340.7,404.6 341,407.6 341.4,410.7 341.7,413.9 342,417.2 342.4,420.6 342.7,424.1 343,427.7 343.4,431.4 343.7,435.2 344,439 344.4,443 344.7,447 345,451.1 345.4,455.2 345.7,459.4 346.1,463.6 346.4,467.9 346.7,472.2 347.1,476.6 347.4,481 347.7,485.4 348.1,489.8 348.4,494.3 348.7,498.7 349.1,493.4 349.4,488 349.7,482.7 350.1,477.4 350.4,472.1 350.7,466.9 351.1,461.6 351.4,456.5 351.7,451.3 352.1,446.2 352.4,441.2 352.7,436.2 353.1,431.3 353.4,426.5 353.8,421.7 354.1,417 354.4,412.4 354.8,407.9 355.1,403.4 355.4,399.1 355.8,394.9 356.1,390.8 356.4,386.8 356.8,382.9 357.1,379.1 357.4,375.4 357.8,371.9 358.1,368.5 358.4,365.3 358.8,362.1 359.1,359.1 359.4,356.3 359.8,353.6 360.1,351.1 360.4,348.7 360.8,346.4 361.1,344.4 361.4,342.4 361.8,340.7 362.1,339.1 362.5,337.6 362.8,336.4 363.1,335.3 363.5,334.3 363.8,333.6 364.1,333 364.5,332.5 364.8,332.3 365.1,332.2 365.5,332.3 365.8,332.5 366.1,332.9 366.5,333.5 366.8,334.3 367.1,335.2 367.5,336.3 367.8,337.5 368.1,338.9 368.5,340.5 368.8,342.2 369.1,344.1 369.5,346.2 369.8,348.4 370.2,350.7 370.5,353.2 370.8,355.8 371.2,358.6 371.5,361.5 371.8,364.6 372.2,367.8 372.5,371.1 372.8,374.6 373.2,378.2 373.5,381.9 373.8,385.7 374.2,389.7 374.5,393.7 374.8,397.9 375.2,402.1 375.5,406.5 375.8,410.9 376.2,415.4 376.5,420.1 376.8,424.8 377.2,429.5 377.5,434.4 377.8,439.3 378.2,444.2 378.5,449.3 378.9,454.3 379.2,459.4 379.5,464.6 379.9,469.8 380.2,475 380.5,480.2 380.9,485.5 381.2,490.8 381.5,496.1 381.7,498.7 381.9,496.2 382.2,491.2" stroke="#da3645" stroke-width="1.05"/>
<polyline points="47.5,487 47.8,486.6 48.2,486.2 48.5,485.9 48.8,485.5 49.2,485.1 49.5,484.8 49.8,484.4 50.2,484 50.5,483.6 50.8,483.3 51.2,482.9 51.5,482.5 51.9,482.2 52.2,481.8 52.5,481.5 52.9,481.1 53.2,480.7 53.5,480.4 53.9,480 54.2,479.7 54.5,479.3 54.9,479 55.2,478.6 55.5,478.3 55.9,477.9 56.2,477.6 56.5,477.2 56.9,476.9 57.2,476.5 57.5,476.2 57.9,475.9 58.2,475.5 58.5,475.2 58.9,474.9 59.2,474.5 59.5,474.2 59.9,473.9 60.2,473.5 60.6,473.2 60.9,472.9 61.2,472.6 61.6,472.2 61.9,471.9 62.2,471.6 62.6,471.3 62.9,470.9 63.2,470.6 63.6,470.3 63.9,470 64.2,469.7 64.6,469.4 64.9,469.1 65.2,468.8 65.6,468.5 65.9,468.1 66.2,467.8 66.6,467.5 66.9,467.1 67.2,466.8 67.6,466.4 67.9,466.1 68.3,465.7 68.6,465.4 68.9,465 69.3,464.6 69.6,464.3 69.9,463.9 70.3,463.5 70.6,463.2 70.9,462.8 71.3,462.4 71.6,462.1 71.9,461.7 72.3,461.3 72.6,461 72.9,460.6 73.3,460.3 73.6,459.9 73.9,459.6 74.3,459.3 74.6,458.9 74.9,458.6 75.3,458.3 75.6,458 75.9,457.7 76.3,457.4 76.6,457.1 77,456.9 77.3,456.6 77.6,456.4 78,456.1 78.3,455.9 78.6,455.7 79,455.5 79.3,455.3 79.6,455.1 80,455 80.3,454.9 80.6,454.7 81,454.6 81.3,454.6 81.6,454.5 82,454.4 82.3,454.4 82.5,454.4 82.6,454.4 83,454.4 83.3,454.4 83.6,454.5 84,454.6 84.3,454.7 84.7,454.8 85,455 85.3,455.1 85.7,455.3 86,455.5 86.3,455.7 86.7,456 87,456.2 87.3,456.5 87.7,456.8 88,457.1 88.3,457.4 88.7,457.7 89,458 89.3,458.4 89.7,458.7 90,459.1 90.3,459.5 90.7,459.9 91,460.3 91.3,460.7 91.7,461.1 92,461.5 92.3,461.9 92.7,462.3 93,462.7 93.4,463.2 93.7,463.6 94,464 94.4,464.5 94.7,464.9 95,465.4 95.4,465.8 95.7,466.2 96,466.7 96.4,467.1 96.7,467.5 97,467.9 97.4,468.4 97.7,468.8 98,469.2 98.4,469.6 98.7,470.1 99,470.5 99.4,471 99.7,471.5 100,472 100.4,472.5 100.7,473.1 101.1,473.6 101.4,474.2 101.7,474.7 102.1,475.3 102.4,475.9 102.7,476.5 103.1,477.1 103.4,477.7 103.7,478.3 104.1,478.9 104.4,479.6 104.7,480.2 105.1,480.8 105.4,481.5 105.7,482.1 106.1,482.8 106.4,483.4 106.7,484.1 107.1,484.7 107.4,485.4 107.7,486 108.1,486.6 108.4,487.3 108.8,487.9 109.1,488.6 109.4,489.2 109.8,489.8 110.1,490.4 110.4,491.1 110.8,491.7 111.1,492.3 111.4,492.9 111.8,493.5 112.1,494 112.4,494.6 112.8,495.2 113.1,495.7 113.4,496.2 113.8,496.8 114.1,497.3 114.4,497.8 114.8,498.2 115.1,498.7 115.4,498.2 115.8,497.8 116.1,497.3 116.4,496.9 116.8,496.4 117.1,495.9 117.5,495.5 117.8,495 118.1,494.6 118.5,494.1 118.8,493.7 119.1,493.3 119.5,492.8 119.8,492.4 120.1,492 120.5,491.6 120.8,491.2 121.1,490.8 121.5,490.4 121.8,490 122.1,489.7 122.5,489.3 122.8,489 123.1,488.7 123.5,488.3 123.8,488 124.1,487.8 124.5,487.5 124.8,487.2 125.2,487 125.5,486.8 125.8,486.5 126.2,486.3 126.5,486.1 126.8,485.9 127.2,485.6 127.5,485.4 127.8,485.2 128.2,485 128.5,484.7 128.8,484.5 129.2,484.3 129.5,484.1 129.8,483.9 130.2,483.7 130.5,483.5 130.8,483.3 131.2,483.1 131.5,482.9 131.8,482.7 132.2,482.6 132.5,482.4 132.8,482.3 133.2,482.1 133.5,482 133.9,481.8 134.2,481.7 134.5,481.6 134.9,481.5 135.2,481.4 135.5,481.3 135.9,481.2 136.2,481.2 136.5,481.1 136.9,481.1 137.2,481 137.5,481 137.9,481 138.2,481 138.5,481 138.9,481 139.2,481.1 139.5,481.1 139.9,481.1 140.2,481.2 140.5,481.2 140.9,481.2 141.2,481.3 141.6,481.4 141.9,481.4 142.2,481.5 142.6,481.6 142.9,481.6 143.2,481.7 143.6,481.8 143.9,481.9 144.2,482 144.6,482.1 144.9,482.2 145.2,482.3 145.6,482.4 145.9,482.5 146.2,482.6 146.6,482.7 146.9,482.8 147.2,482.9 147.6,483.1 147.9,483.2 148.2,483.3 148.6,483.4 148.9,483.6 149.2,483.7 149.6,483.8 149.9,484 150.3,484.1 150.6,484.2 150.9,484.4 151.3,484.5 151.6,484.6 151.9,484.8 152.3,484.9 152.6,485.1 152.9,485.2 153.3,485.4 153.6,485.5 153.9,485.6 154.3,485.8 154.6,485.9 154.9,486.1 155.3,486.2 155.6,486.3 155.9,486.5 156.3,486.6 156.6,486.7 156.9,486.9 157.3,487 157.6,487.1 158,487.3 158.3,487.4 158.6,487.5 159,487.7 159.3,487.8 159.6,487.9 160,488.1 160.3,488.2 160.6,488.4 161,488.5 161.3,488.7 161.6,488.8 162,489 162.3,489.2 162.6,489.3 163,489.5 163.3,489.6 163.6,489.8 164,490 164.3,490.1 164.6,490.3 165,490.5 165.3,490.7 165.6,490.8 166,491 166.3,491.2 166.7,491.4 167,491.5 167.3,491.7 167.7,491.9 168,492.1 168.3,492.3 168.7,492.4 169,492.6 169.3,492.8 169.7,493 170,493.2 170.3,493.4 170.7,493.5 171,493.7 171.3,493.9 171.7,494.1 172,494.3 172.3,494.4 172.7,494.6 173,494.8 173.3,495 173.7,495.2 174,495.4 174.4,495.5 174.7,495.7 175,495.9 175.4,496.1 175.7,496.2 176,496.4 176.4,496.6 176.7,496.8 177,496.9 177.4,497.1 177.7,497.3 178,497.4 178.4,497.6 178.7,497.8 179,497.9 179.4,498.1 179.7,498.2 180,498.4 180.4,498.5 180.7,498.7 181,498.5 181.4,498.4 181.7,498.2 182,498.1 182.4,497.9 182.7,497.8 183.1,497.6 183.4,497.5 183.7,497.3 184.1,497.2 184.4,497 184.7,496.9 185.1,496.7 185.4,496.6 185.7,496.4 186.1,496.2 186.4,496.1 186.7,495.9 187.1,495.8 187.4,495.6 187.7,495.5 188.1,495.3 188.4,495.2 188.7,495 189.1,494.9 189.4,494.7 189.7,494.6 190.1,494.5 190.4,494.3 190.8,494.2 191.1,494 191.4,493.9 191.8,493.8 192.1,493.6 192.4,493.5 192.8,493.4 193.1,493.2 193.4,493.1 193.8,493 194.1,492.9 194.4,492.8 194.8,492.6 195.1,492.5 195.4,492.4 195.8,492.3 196.1,492.2 196.4,492.1 196.8,492 197.1,491.9 197.4,491.8 197.8,491.7 198.1,491.6 198.4,491.5 198.8,491.5 199.1,491.4 199.5,491.3 199.8,491.2 200.1,491.1 200.5,491 200.8,490.9 201.1,490.8 201.5,490.8 201.8,490.7 202.1,490.6 202.5,490.5 202.8,490.4 203.1,490.3 203.5,490.2 203.8,490.2 204.1,490.1 204.5,490 204.8,489.9 205.1,489.8 205.5,489.7 205.8,489.7 206.1,489.6 206.5,489.5 206.8,489.4 207.2,489.3 207.5,489.3 207.8,489.2 208.2,489.1 208.5,489 208.8,489 209.2,488.9 209.5,488.8 209.8,488.8 210.2,488.7 210.5,488.6 210.8,488.6 211.2,488.5 211.5,488.4 211.8,488.4 212.2,488.3 212.5,488.3 212.8,488.2 213.2,488.2 213.5,488.1 213.8,488.1 214.2,488 214.5,488 214.8,487.9 215.2,487.9 215.5,487.8 215.9,487.8 216.2,487.8 216.5,487.7 216.9,487.7 217.2,487.7 217.5,487.7 217.9,487.6 218.2,487.6 218.5,487.6 218.9,487.6 219.2,487.6 219.5,487.6 219.9,487.5 220.2,487.5 220.5,487.5 220.9,487.5 221.2,487.6 221.5,487.6 221.9,487.6 222.2,487.6 222.5,487.6 222.9,487.7 223.2,487.7 223.6,487.7 223.9,487.8 224.2,487.8 224.6,487.9 224.9,487.9 225.2,488 225.6,488 225.9,488.1 226.2,488.1 226.6,488.2 226.9,488.3 227.2,488.3 227.6,488.4 227.9,488.5 228.2,488.6 228.6,488.7 228.9,488.7 229.2,488.8 229.6,488.9 229.9,489 230.2,489.1 230.6,489.2 230.9,489.3 231.3,489.4 231.6,489.5 231.9,489.6 232.3,489.7 232.6,489.8 232.9,489.9 233.3,490 233.6,490.1 233.9,490.2 234.3,490.3 234.6,490.4 234.9,490.5 235.3,490.6 235.6,490.8 235.9,490.9 236.3,491 236.6,491.2 236.9,491.4 237.3,491.5 237.6,491.7 237.9,491.9 238.3,492.1 238.6,492.3 238.9,492.5 239.3,492.7 239.6,492.9 240,493.2 240.3,493.4 240.6,493.6 241,493.9 241.3,494.1 241.6,494.4 242,494.6 242.3,494.9 242.6,495.1 243,495.4 243.3,495.6 243.6,495.9 244,496.1 244.3,496.4 244.6,496.7 245,496.9 245.3,497.2 245.6,497.4 246,497.7 246.3,498 246.6,498.2 247,498.5 247.3,498.7 247.7,498.5 248,498.2 248.3,497.9 248.7,497.7 249,497.4 249.3,497.1 249.7,496.8 250,496.5 250.3,496.2 250.7,495.9 251,495.6 251.3,495.3 251.7,495 252,494.7 252.3,494.4 252.7,494.1 253,493.8 253.3,493.5 253.7,493.2 254,492.9 254.3,492.6 254.7,492.3 255,492.1 255.3,491.8 255.7,491.5 256,491.3 256.4,491 256.7,490.8 257,490.5 257.4,490.3 257.7,490.1 258,489.9 258.4,489.7 258.7,489.5 259,489.4 259.4,489.2 259.7,489 260,488.8 260.4,488.6 260.7,488.4 261,488.3 261.4,488.1 261.7,487.9 262,487.7 262.4,487.5 262.7,487.3 263,487.2 263.4,487 263.7,486.8 264.1,486.6 264.4,486.5 264.7,486.3 265.1,486.1 265.4,485.9 265.7,485.8 266.1,485.6 266.4,485.5 266.7,485.3 267.1,485.1 267.4,485 267.7,484.8 268.1,484.7 268.4,484.6 268.7,484.4 269.1,484.3 269.4,484.2 269.7,484 270.1,483.9 270.4,483.8 270.7,483.7 271.1,483.6 271.4,483.5 271.7,483.4 272.1,483.3 272.4,483.2 272.8,483.1 273.1,483.1 273.4,483 273.8,482.9 274.1,482.9 274.4,482.8 274.8,482.8 275.1,482.8 275.4,482.7 275.8,482.7 276.1,482.7 276.4,482.7 276.8,482.7 277.1,482.7 277.4,482.7 277.8,482.7 278.1,482.7 278.4,482.7 278.8,482.7 279.1,482.8 279.4,482.8 279.8,482.8 280.1,482.8 280.5,482.8 280.8,482.8 281.1,482.9 281.5,482.9 281.8,482.9 282.1,482.9 282.5,482.9 282.8,483 283.1,483 283.5,483 283.8,483 284.1,483.1 284.5,483.1 284.8,483.1 285.1,483.2 285.5,483.2 285.8,483.2 286.1,483.2 286.5,483.3 286.8,483.3 287.1,483.3 287.5,483.4 287.8,483.4 288.1,483.4 288.5,483.4 288.8,483.5 289.2,483.5 289.5,483.5 289.8,483.6 290.2,483.6 290.5,483.6 290.8,483.6 291.2,483.7 291.5,483.7 291.8,483.7 292.2,483.7 292.5,483.7 292.8,483.8 293.2,483.8 293.5,483.8 293.8,483.8 294.2,483.8 294.5,483.8 294.8,483.9 295.2,483.9 295.5,483.9 295.8,483.9 296.2,483.9 296.5,483.9 296.9,483.9 297.2,483.9 297.5,483.9 297.9,483.9 298.2,483.9 298.5,483.9 298.9,483.9 299.2,483.9 299.5,483.9 299.9,483.9 300.2,483.9 300.5,483.9 300.9,483.9 301.2,483.9 301.5,483.9 301.9,483.9 302.2,483.9 302.5,483.9 302.9,483.9 303.2,483.9 303.5,483.9 303.9,483.9 304.2,483.9 304.5,483.9 304.9,483.9 305.2,483.9 305.6,483.9 305.9,483.9 306.2,483.9 306.6,483.9 306.9,483.9 307.2,483.9 307.6,483.9 307.9,483.9 308.2,483.9 308.6,483.9 308.9,483.9 309.2,483.9 309.6,483.9 309.9,483.9 310.2,483.9 310.6,483.9 310.9,483.9 311.2,483.9 311.6,483.9 311.9,483.9 312.2,483.9 312.6,483.9 312.9,483.9 313.3,483.9 313.6,483.9 313.9,483.9 314.3,483.9 314.6,483.9 314.9,483.9 315.3,483.9 315.6,483.9 315.9,483.9 316.3,483.9 316.6,483.9 316.9,483.9 317.3,483.9 317.6,483.9 317.9,483.8 318.3,483.8 318.6,483.8 318.9,483.8 319.3,483.7 319.6,483.7 319.9,483.6 320.3,483.6 320.6,483.6 320.9,483.5 321.3,483.4 321.6,483.4 322,483.3 322.3,483.3 322.6,483.2 323,483.1 323.3,483.1 323.6,483 324,482.9 324.3,482.8 324.6,482.8 325,482.7 325.3,482.6 325.6,482.5 326,482.4 326.3,482.3 326.6,482.2 327,482.1 327.3,482 327.6,482 328,481.9 328.3,481.8 328.6,481.7 329,481.6 329.3,481.5 329.7,481.4 330,481.3 330.3,481.2 330.7,481.1 331,481 331.3,480.9 331.7,480.8 332,480.7 332.3,480.5 332.7,480.4 333,480.3 333.3,480.2 333.7,480.1 334,480 334.3,479.9 334.7,479.8 335,479.7 335.3,479.7 335.7,479.6 336,479.4 336.3,479.3 336.7,479.2 337,479.1 337.4,478.9 337.7,478.8 338,478.6 338.4,478.5 338.7,478.3 339,478.2 339.4,478 339.7,477.8 340,477.7 340.4,477.5 340.7,477.3 341,477.1 341.4,477 341.7,476.8 342,476.6 342.4,476.4 342.7,476.3 343,476.1 343.4,475.9 343.7,475.7 344,475.6 344.4,475.4 344.7,475.2 345,475.1 345.4,474.9 345.7,474.8 346.1,474.7 346.4,474.5 346.7,474.4 347.1,474.3 347.4,474.2 347.7,474.1 348.1,474 348.4,473.9 348.7,473.8 349.1,473.8 349.4,473.7 349.7,473.7 350.1,473.6 350.4,473.6 350.7,473.6 351.1,473.6 351.4,473.6 351.7,473.6 352.1,473.6 352.4,473.6 352.7,473.7 353.1,473.7 353.4,473.7 353.8,473.7 354.1,473.8 354.4,473.8 354.8,473.8 355.1,473.9 355.4,473.9 355.8,473.9 356.1,474 356.4,474 356.8,474.1 357.1,474.1 357.4,474.2 357.8,474.2 358.1,474.3 358.4,474.3 358.8,474.4 359.1,474.5 359.4,474.5 359.8,474.6 360.1,474.7 360.4,474.8 360.8,474.9 361.1,475 361.4,475.2 361.8,475.4 362.1,475.7 362.5,475.9 362.8,476.2 363.1,476.6 363.5,476.9 363.8,477.3 364.1,477.7 364.5,478.1 364.8,478.5 365.1,478.9 365.5,479.2 365.8,479.6 366.1,480 366.5,480.4 366.8,480.8 367.1,481.2 367.5,481.6 367.8,482 368.1,482.5 368.5,482.9 368.8,483.4 369.1,483.9 369.5,484.3 369.8,484.8 370.2,485.3 370.5,485.8 370.8,486.3 371.2,486.8 371.5,487.3 371.8,487.8 372.2,488.4 372.5,488.9 372.8,489.4 373.2,489.9 373.5,490.4 373.8,490.9 374.2,491.4 374.5,491.9 374.8,492.4 375.2,492.9 375.5,493.4 375.8,493.9 376.2,494.4 376.5,494.9 376.8,495.4 377.2,495.9 377.5,496.4 377.8,496.9 378.2,497.4 378.5,497.8 378.9,498.3 379.2,498.7 379.5,498.3 379.9,497.9 380.2,497.5 380.5,497.1 380.9,496.8 381.2,496.4 381.5,496.1 381.7,495.9 381.9,495.7 382.2,495.4" stroke="#3786d2" stroke-width="1.25" stroke-dasharray="8,5"/>
<polyline points="47.5,450.4 47.8,450.3 48.2,450.1 48.5,450 48.8,449.9 49.2,449.8 49.5,449.7 49.8,449.6 50.2,449.5 50.5,449.4 50.8,449.3 51.2,449.2 51.5,449.1 51.9,449 52.2,449 52.5,448.9 52.9,448.8 53.2,448.8 53.5,448.7 53.9,448.7 54.2,448.6 54.5,448.6 54.9,448.5 55.2,448.5 55.5,448.5 55.9,448.4 56.2,448.4 56.5,448.4 56.9,448.4 57.2,448.3 57.5,448.3 57.9,448.3 58.2,448.3 58.5,448.3 58.9,448.3 59.2,448.3 59.5,448.3 59.9,448.3 60.2,448.3 60.6,448.4 60.9,448.4 61.2,448.4 61.6,448.5 61.9,448.6 62.2,448.6 62.6,448.7 62.9,448.8 63.2,448.8 63.6,448.9 63.9,449 64.2,449.1 64.6,449.2 64.9,449.3 65.2,449.5 65.6,449.6 65.9,449.7 66.2,449.8 66.6,450 66.9,450.1 67.2,450.2 67.6,450.4 67.9,450.5 68.3,450.7 68.6,450.9 68.9,451 69.3,451.2 69.6,451.3 69.9,451.5 70.3,451.7 70.6,451.8 70.9,452 71.3,452.2 71.6,452.4 71.9,452.5 72.3,452.7 72.6,452.9 72.9,453.1 73.3,453.3 73.6,453.4 73.9,453.6 74.3,453.8 74.6,454 74.9,454.2 75.3,454.4 75.6,454.6 75.9,454.8 76.3,455.1 76.6,455.3 77,455.6 77.3,455.9 77.6,456.2 78,456.5 78.3,456.8 78.6,457.1 79,457.4 79.3,457.7 79.6,458 80,458.4 80.3,458.7 80.6,459 81,459.4 81.3,459.7 81.6,460.1 82,460.5 82.3,460.8 82.5,461 82.6,461.2 83,461.6 83.3,461.9 83.6,462.3 84,462.7 84.3,463.1 84.7,463.5 85,463.8 85.3,464.2 85.7,464.6 86,465 86.3,465.4 86.7,465.8 87,466.2 87.3,466.6 87.7,467 88,467.4 88.3,467.8 88.7,468.2 89,468.6 89.3,469.1 89.7,469.5 90,469.9 90.3,470.4 90.7,470.8 91,471.3 91.3,471.8 91.7,472.2 92,472.7 92.3,473.2 92.7,473.7 93,474.2 93.4,474.7 93.7,475.2 94,475.8 94.4,476.3 94.7,476.9 95,477.4 95.4,478 95.7,478.5 96,479.1 96.4,479.7 96.7,480.3 97,481 97.4,481.7 97.7,482.4 98,483.2 98.4,483.9 98.7,484.7 99,485.5 99.4,486.3 99.7,487.1 100,487.9 100.4,488.8 100.7,489.6 101.1,490.4 101.4,491.3 101.7,492.1 102.1,492.9 102.4,493.7 102.7,494.5 103.1,495.2 103.4,496 103.7,496.7 104.1,497.4 104.4,498.1 104.7,498.7 105.1,498.1 105.4,497.5 105.7,496.9 106.1,496.3 106.4,495.7 106.7,495.1 107.1,494.5 107.4,493.9 107.7,493.3 108.1,492.8 108.4,492.2 108.8,491.7 109.1,491.1 109.4,490.6 109.8,490.1 110.1,489.5 110.4,489 110.8,488.5 111.1,488 111.4,487.5 111.8,487 112.1,486.6 112.4,486.1 112.8,485.6 113.1,485.2 113.4,484.7 113.8,484.3 114.1,483.9 114.4,483.5 114.8,483.1 115.1,482.6 115.4,482.2 115.8,481.8 116.1,481.4 116.4,481 116.8,480.7 117.1,480.3 117.5,479.9 117.8,479.5 118.1,479.1 118.5,478.8 118.8,478.4 119.1,478 119.5,477.7 119.8,477.3 120.1,477 120.5,476.7 120.8,476.3 121.1,476 121.5,475.7 121.8,475.4 122.1,475.1 122.5,474.8 122.8,474.5 123.1,474.2 123.5,474 123.8,473.7 124.1,473.4 124.5,473.2 124.8,472.9 125.2,472.7 125.5,472.5 125.8,472.3 126.2,472 126.5,471.8 126.8,471.6 127.2,471.3 127.5,471.1 127.8,470.9 128.2,470.6 128.5,470.4 128.8,470.2 129.2,469.9 129.5,469.7 129.8,469.5 130.2,469.3 130.5,469.1 130.8,468.8 131.2,468.6 131.5,468.4 131.8,468.2 132.2,468 132.5,467.9 132.8,467.7 133.2,467.5 133.5,467.3 133.9,467.2 134.2,467 134.5,466.9 134.9,466.8 135.2,466.6 135.5,466.5 135.9,466.4 136.2,466.3 136.5,466.3 136.9,466.2 137.2,466.1 137.5,466.1 137.9,466 138.2,466 138.5,466 138.9,466 139.2,466 139.5,466 139.9,466.1 140.2,466.1 140.5,466.1 140.9,466.2 141.2,466.2 141.6,466.3 141.9,466.4 142.2,466.4 142.6,466.5 142.9,466.6 143.2,466.7 143.6,466.7 143.9,466.8 144.2,466.9 144.6,467 144.9,467.1 145.2,467.3 145.6,467.4 145.9,467.5 146.2,467.6 146.6,467.7 146.9,467.9 147.2,468 147.6,468.2 147.9,468.3 148.2,468.4 148.6,468.6 148.9,468.7 149.2,468.9 149.6,469 149.9,469.2 150.3,469.3 150.6,469.5 150.9,469.7 151.3,469.8 151.6,470 151.9,470.2 152.3,470.3 152.6,470.5 152.9,470.7 153.3,470.8 153.6,471 153.9,471.2 154.3,471.3 154.6,471.5 154.9,471.7 155.3,471.8 155.6,472 155.9,472.2 156.3,472.5 156.6,472.7 156.9,472.9 157.3,473.2 157.6,473.4 158,473.7 158.3,473.9 158.6,474.2 159,474.5 159.3,474.8 159.6,475 160,475.3 160.3,475.7 160.6,476 161,476.3 161.3,476.6 161.6,476.9 162,477.2 162.3,477.6 162.6,477.9 163,478.2 163.3,478.6 163.6,478.9 164,479.3 164.3,479.6 164.6,480 165,480.3 165.3,480.7 165.6,481 166,481.4 166.3,481.7 166.7,482.1 167,482.4 167.3,482.8 167.7,483.1 168,483.5 168.3,483.8 168.7,484.2 169,484.5 169.3,484.9 169.7,485.3 170,485.7 170.3,486.1 170.7,486.5 171,486.9 171.3,487.3 171.7,487.7 172,488.1 172.3,488.5 172.7,488.9 173,489.4 173.3,489.8 173.7,490.2 174,490.7 174.4,491.1 174.7,491.5 175,491.9 175.4,492.4 175.7,492.8 176,493.2 176.4,493.7 176.7,494.1 177,494.5 177.4,494.9 177.7,495.3 178,495.7 178.4,496.1 178.7,496.5 179,496.9 179.4,497.3 179.7,497.6 180,498 180.4,498.4 180.7,498.7 181,498.4 181.4,498 181.7,497.7 182,497.3 182.4,497 182.7,496.6 183.1,496.3 183.4,495.9 183.7,495.6 184.1,495.2 184.4,494.9 184.7,494.5 185.1,494.2 185.4,493.8 185.7,493.5 186.1,493.1 186.4,492.8 186.7,492.4 187.1,492.1 187.4,491.8 187.7,491.4 188.1,491.1 188.4,490.8 188.7,490.4 189.1,490.1 189.4,489.8 189.7,489.5 190.1,489.2 190.4,488.9 190.8,488.5 191.1,488.3 191.4,488 191.8,487.7 192.1,487.4 192.4,487.1 192.8,486.8 193.1,486.6 193.4,486.3 193.8,486.1 194.1,485.8 194.4,485.6 194.8,485.3 195.1,485.1 195.4,484.9 195.8,484.7 196.1,484.5 196.4,484.3 196.8,484.1 197.1,483.9 197.4,483.8 197.8,483.6 198.1,483.5 198.4,483.3 198.8,483.2 199.1,483 199.5,482.9 199.8,482.7 200.1,482.6 200.5,482.5 200.8,482.3 201.1,482.2 201.5,482.1 201.8,481.9 202.1,481.8 202.5,481.6 202.8,481.5 203.1,481.4 203.5,481.3 203.8,481.1 204.1,481 204.5,480.9 204.8,480.7 205.1,480.6 205.5,480.5 205.8,480.4 206.1,480.3 206.5,480.2 206.8,480 207.2,479.9 207.5,479.8 207.8,479.7 208.2,479.6 208.5,479.5 208.8,479.4 209.2,479.3 209.5,479.3 209.8,479.2 210.2,479.1 210.5,479 210.8,478.9 211.2,478.9 211.5,478.8 211.8,478.7 212.2,478.7 212.5,478.6 212.8,478.5 213.2,478.5 213.5,478.4 213.8,478.4 214.2,478.4 214.5,478.3 214.8,478.3 215.2,478.3 215.5,478.2 215.9,478.2 216.2,478.2 216.5,478.2 216.9,478.2 217.2,478.2 217.5,478.2 217.9,478.2 218.2,478.3 218.5,478.3 218.9,478.4 219.2,478.4 219.5,478.5 219.9,478.5 220.2,478.6 220.5,478.7 220.9,478.8 221.2,478.8 221.5,478.9 221.9,479 222.2,479.1 222.5,479.3 222.9,479.4 223.2,479.5 223.6,479.6 223.9,479.7 224.2,479.9 224.6,480 224.9,480.2 225.2,480.3 225.6,480.5 225.9,480.6 226.2,480.8 226.6,480.9 226.9,481.1 227.2,481.2 227.6,481.4 227.9,481.6 228.2,481.7 228.6,481.9 228.9,482.1 229.2,482.2 229.6,482.4 229.9,482.6 230.2,482.8 230.6,482.9 230.9,483.1 231.3,483.3 231.6,483.5 231.9,483.6 232.3,483.8 232.6,484 232.9,484.2 233.3,484.5 233.6,484.7 233.9,484.9 234.3,485.2 234.6,485.4 234.9,485.7 235.3,486 235.6,486.3 235.9,486.6 236.3,486.9 236.6,487.2 236.9,487.5 237.3,487.8 237.6,488.1 237.9,488.5 238.3,488.8 238.6,489.1 238.9,489.5 239.3,489.8 239.6,490.2 240,490.5 240.3,490.9 240.6,491.3 241,491.6 241.3,492 241.6,492.4 242,492.7 242.3,493.1 242.6,493.5 243,493.9 243.3,494.2 243.6,494.6 244,495 244.3,495.4 244.6,495.8 245,496.1 245.3,496.5 245.6,496.9 246,497.2 246.3,497.6 246.6,498 247,498.3 247.3,498.7 247.7,498.3 248,498 248.3,497.6 248.7,497.2 249,496.8 249.3,496.4 249.7,496 250,495.6 250.3,495.1 250.7,494.7 251,494.3 251.3,493.8 251.7,493.4 252,492.9 252.3,492.5 252.7,492 253,491.6 253.3,491.1 253.7,490.6 254,490.2 254.3,489.7 254.7,489.3 255,488.8 255.3,488.3 255.7,487.9 256,487.4 256.4,487 256.7,486.5 257,486.1 257.4,485.6 257.7,485.2 258,484.7 258.4,484.3 258.7,483.9 259,483.4 259.4,483 259.7,482.6 260,482.2 260.4,481.8 260.7,481.5 261,481.1 261.4,480.7 261.7,480.4 262,480 262.4,479.7 262.7,479.4 263,479.1 263.4,478.8 263.7,478.5 264.1,478.2 264.4,477.9 264.7,477.7 265.1,477.5 265.4,477.3 265.7,477 266.1,476.8 266.4,476.6 266.7,476.4 267.1,476.2 267.4,475.9 267.7,475.7 268.1,475.5 268.4,475.3 268.7,475.1 269.1,474.8 269.4,474.6 269.7,474.4 270.1,474.2 270.4,474 270.7,473.8 271.1,473.6 271.4,473.4 271.7,473.2 272.1,473 272.4,472.8 272.8,472.6 273.1,472.4 273.4,472.2 273.8,472 274.1,471.8 274.4,471.6 274.8,471.4 275.1,471.2 275.4,471 275.8,470.8 276.1,470.7 276.4,470.5 276.8,470.3 277.1,470.2 277.4,470 277.8,469.8 278.1,469.7 278.4,469.5 278.8,469.4 279.1,469.2 279.4,469.1 279.8,468.9 280.1,468.8 280.5,468.6 280.8,468.5 281.1,468.4 281.5,468.3 281.8,468.1 282.1,468 282.5,467.9 282.8,467.8 283.1,467.7 283.5,467.6 283.8,467.5 284.1,467.4 284.5,467.3 284.8,467.3 285.1,467.2 285.5,467.1 285.8,467 286.1,467 286.5,466.9 286.8,466.9 287.1,466.8 287.5,466.8 287.8,466.8 288.1,466.7 288.5,466.7 288.8,466.7 289.2,466.7 289.5,466.7 289.8,466.7 290.2,466.7 290.5,466.7 290.8,466.8 291.2,466.8 291.5,466.8 291.8,466.9 292.2,466.9 292.5,467 292.8,467.1 293.2,467.1 293.5,467.2 293.8,467.3 294.2,467.4 294.5,467.5 294.8,467.6 295.2,467.7 295.5,467.8 295.8,467.9 296.2,468 296.5,468.1 296.9,468.3 297.2,468.4 297.5,468.5 297.9,468.7 298.2,468.8 298.5,469 298.9,469.1 299.2,469.3 299.5,469.4 299.9,469.6 300.2,469.8 300.5,469.9 300.9,470.1 301.2,470.3 301.5,470.5 301.9,470.6 302.2,470.8 302.5,471 302.9,471.2 303.2,471.4 303.5,471.6 303.9,471.8 304.2,471.9 304.5,472.1 304.9,472.3 305.2,472.5 305.6,472.7 305.9,472.9 306.2,473.1 306.6,473.3 306.9,473.5 307.2,473.7 307.6,473.9 307.9,474.1 308.2,474.3 308.6,474.5 308.9,474.7 309.2,474.9 309.6,475.1 309.9,475.3 310.2,475.5 310.6,475.6 310.9,475.8 311.2,476 311.6,476.2 311.9,476.4 312.2,476.6 312.6,476.8 312.9,476.9 313.3,477.1 313.6,477.3 313.9,477.5 314.3,477.7 314.6,477.9 314.9,478.1 315.3,478.3 315.6,478.5 315.9,478.7 316.3,478.9 316.6,479.2 316.9,479.4 317.3,479.6 317.6,479.8 317.9,480 318.3,480.3 318.6,480.5 318.9,480.7 319.3,481 319.6,481.2 319.9,481.4 320.3,481.7 320.6,481.9 320.9,482.2 321.3,482.4 321.6,482.7 322,482.9 322.3,483.2 322.6,483.5 323,483.7 323.3,484 323.6,484.3 324,484.5 324.3,484.8 324.6,485.1 325,485.4 325.3,485.6 325.6,485.9 326,486.2 326.3,486.5 326.6,486.8 327,487.1 327.3,487.5 327.6,487.8 328,488.1 328.3,488.5 328.6,488.8 329,489.2 329.3,489.5 329.7,489.9 330,490.2 330.3,490.6 330.7,491 331,491.4 331.3,491.7 331.7,492.1 332,492.5 332.3,492.9 332.7,493.3 333,493.7 333.3,494 333.7,494.4 334,494.8 334.3,495.2 334.7,495.6 335,496 335.3,496.4 335.7,496.8 336,497.2 336.3,497.5 336.7,497.9 337,498.3 337.4,498.7 337.7,498.3 338,497.9 338.4,497.5 338.7,497.2 339,496.8 339.4,496.4 339.7,496 340,495.6 340.4,495.2 340.7,494.7 341,494.3 341.4,493.9 341.7,493.5 342,493.1 342.4,492.7 342.7,492.3 343,491.9 343.4,491.5 343.7,491.1 344,490.6 344.4,490.2 344.7,489.8 345,489.4 345.4,489 345.7,488.6 346.1,488.2 346.4,487.8 346.7,487.4 347.1,487 347.4,486.6 347.7,486.2 348.1,485.9 348.4,485.5 348.7,485.1 349.1,484.7 349.4,484.3 349.7,484 350.1,483.6 350.4,483.2 350.7,482.8 351.1,482.5 351.4,482.1 351.7,481.7 352.1,481.4 352.4,481 352.7,480.6 353.1,480.3 353.4,479.9 353.8,479.5 354.1,479.2 354.4,478.8 354.8,478.4 355.1,478.1 355.4,477.7 355.8,477.3 356.1,477 356.4,476.6 356.8,476.3 357.1,475.9 357.4,475.6 357.8,475.2 358.1,474.9 358.4,474.5 358.8,474.2 359.1,473.8 359.4,473.5 359.8,473.1 360.1,472.8 360.4,472.4 360.8,472.1 361.1,471.7 361.4,471.4 361.8,471 362.1,470.7 362.5,470.4 362.8,470 363.1,469.7 363.5,469.4 363.8,469 364.1,468.7 364.5,468.4 364.8,468.1 365.1,467.7 365.5,467.4 365.8,467.1 366.1,466.8 366.5,466.4 366.8,466.1 367.1,465.8 367.5,465.5 367.8,465.1 368.1,464.8 368.5,464.5 368.8,464.2 369.1,463.9 369.5,463.5 369.8,463.2 370.2,462.9 370.5,462.6 370.8,462.3 371.2,462 371.5,461.7 371.8,461.3 372.2,461 372.5,460.7 372.8,460.4 373.2,460.1 373.5,459.8 373.8,459.5 374.2,459.2 374.5,458.9 374.8,458.6 375.2,458.3 375.5,458 375.8,457.7 376.2,457.4 376.5,457.1 376.8,456.9 377.2,456.6 377.5,456.3 377.8,456 378.2,455.7 378.5,455.5 378.9,455.2 379.2,454.9 379.5,454.7 379.9,454.4 380.2,454.1 380.5,453.9 380.9,453.6 381.2,453.4 381.5,453.2 381.7,453 381.9,452.9 382.2,452.7" stroke="#c9a23a" stroke-width="1.15" stroke-dasharray="6.5,2.6,1.2,2.9"/>
<polyline points="47.5,495.7 47.8,495.7 48.2,495.7 48.5,495.7 48.8,495.7 49.2,495.7 49.5,495.7 49.8,495.7 50.2,495.7 50.5,495.7 50.8,495.7 51.2,495.7 51.5,495.7 51.9,495.7 52.2,495.7 52.5,495.8 52.9,495.8 53.2,495.8 53.5,495.8 53.9,495.8 54.2,495.8 54.5,495.8 54.9,495.8 55.2,495.8 55.5,495.8 55.9,495.8 56.2,495.8 56.5,495.8 56.9,495.8 57.2,495.8 57.5,495.9 57.9,495.9 58.2,495.9 58.5,495.9 58.9,495.9 59.2,495.9 59.5,495.9 59.9,495.9 60.2,495.9 60.6,495.9 60.9,495.9 61.2,495.9 61.6,496 61.9,496 62.2,496 62.6,496 62.9,496 63.2,496 63.6,496 63.9,496 64.2,496 64.6,496 64.9,496.1 65.2,496.1 65.6,496.1 65.9,496.1 66.2,496.1 66.6,496.1 66.9,496.1 67.2,496.1 67.6,496.2 67.9,496.2 68.3,496.2 68.6,496.2 68.9,496.2 69.3,496.2 69.6,496.2 69.9,496.3 70.3,496.3 70.6,496.3 70.9,496.3 71.3,496.3 71.6,496.3 71.9,496.4 72.3,496.4 72.6,496.4 72.9,496.4 73.3,496.4 73.6,496.5 73.9,496.5 74.3,496.5 74.6,496.5 74.9,496.5 75.3,496.6 75.6,496.6 75.9,496.6 76.3,496.6 76.6,496.6 77,496.7 77.3,496.7 77.6,496.7 78,496.7 78.3,496.8 78.6,496.8 79,496.8 79.3,496.8 79.6,496.8 80,496.9 80.3,496.9 80.6,496.9 81,496.9 81.3,497 81.6,497 82,497 82.3,497 82.5,497 82.6,497.1 83,497.1 83.3,497.1 83.6,497.1 84,497.2 84.3,497.2 84.7,497.2 85,497.2 85.3,497.3 85.7,497.3 86,497.3 86.3,497.4 86.7,497.4 87,497.4 87.3,497.5 87.7,497.5 88,497.5 88.3,497.5 88.7,497.6 89,497.6 89.3,497.6 89.7,497.7 90,497.7 90.3,497.7 90.7,497.8 91,497.8 91.3,497.8 91.7,497.9 92,497.9 92.3,497.9 92.7,498 93,498 93.4,498 93.7,498.1 94,498.1 94.4,498.1 94.7,498.2 95,498.2 95.4,498.2 95.7,498.3 96,498.3 96.4,498.3 96.7,498.4 97,498.4 97.4,498.4 97.7,498.5 98,498.5 98.4,498.5 98.7,498.6 99,498.6 99.4,498.6 99.7,498.6 100,498.7 100.4,498.7 100.7,498.7 101.1,498.6 101.4,498.6 101.7,498.6 102.1,498.6 102.4,498.5 102.7,498.5 103.1,498.5 103.4,498.4 103.7,498.4 104.1,498.4 104.4,498.3 104.7,498.3 105.1,498.3 105.4,498.3 105.7,498.2 106.1,498.2 106.4,498.2 106.7,498.1 107.1,498.1 107.4,498.1 107.7,498.1 108.1,498 108.4,498 108.8,498 109.1,497.9 109.4,497.9 109.8,497.9 110.1,497.9 110.4,497.8 110.8,497.8 111.1,497.8 111.4,497.8 111.8,497.7 112.1,497.7 112.4,497.7 112.8,497.7 113.1,497.7 113.4,497.7 113.8,497.6 114.1,497.6 114.4,497.6 114.8,497.6 115.1,497.6 115.4,497.6 115.8,497.6 116.1,497.5 116.4,497.5 116.8,497.5 117.1,497.5 117.5,497.5 117.8,497.5 118.1,497.5 118.5,497.5 118.8,497.4 119.1,497.4 119.5,497.4 119.8,497.4 120.1,497.4 120.5,497.4 120.8,497.4 121.1,497.4 121.5,497.4 121.8,497.3 122.1,497.3 122.5,497.3 122.8,497.3 123.1,497.3 123.5,497.3 123.8,497.3 124.1,497.3 124.5,497.3 124.8,497.3 125.2,497.2 125.5,497.2 125.8,497.2 126.2,497.2 126.5,497.2 126.8,497.2 127.2,497.2 127.5,497.2 127.8,497.2 128.2,497.2 128.5,497.2 128.8,497.2 129.2,497.2 129.5,497.2 129.8,497.2 130.2,497.2 130.5,497.2 130.8,497.2 131.2,497.2 131.5,497.2 131.8,497.2 132.2,497.2 132.5,497.2 132.8,497.2 133.2,497.2 133.5,497.2 133.9,497.2 134.2,497.2 134.5,497.2 134.9,497.2 135.2,497.2 135.5,497.2 135.9,497.2 136.2,497.2 136.5,497.2 136.9,497.2 137.2,497.2 137.5,497.2 137.9,497.2 138.2,497.2 138.5,497.2 138.9,497.2 139.2,497.2 139.5,497.2 139.9,497.3 140.2,497.3 140.5,497.3 140.9,497.3 141.2,497.3 141.6,497.3 141.9,497.3 142.2,497.3 142.6,497.3 142.9,497.3 143.2,497.3 143.6,497.3 143.9,497.3 144.2,497.4 144.6,497.4 144.9,497.4 145.2,497.4 145.6,497.4 145.9,497.4 146.2,497.4 146.6,497.4 146.9,497.4 147.2,497.4 147.6,497.5 147.9,497.5 148.2,497.5 148.6,497.5 148.9,497.5 149.2,497.5 149.6,497.5 149.9,497.5 150.3,497.5 150.6,497.5 150.9,497.5 151.3,497.6 151.6,497.6 151.9,497.6 152.3,497.6 152.6,497.6 152.9,497.6 153.3,497.6 153.6,497.6 153.9,497.6 154.3,497.7 154.6,497.7 154.9,497.7 155.3,497.7 155.6,497.7 155.9,497.7 156.3,497.7 156.6,497.8 156.9,497.8 157.3,497.8 157.6,497.8 158,497.8 158.3,497.8 158.6,497.9 159,497.9 159.3,497.9 159.6,497.9 160,497.9 160.3,497.9 160.6,498 161,498 161.3,498 161.6,498 162,498 162.3,498 162.6,498.1 163,498.1 163.3,498.1 163.6,498.1 164,498.1 164.3,498.2 164.6,498.2 165,498.2 165.3,498.2 165.6,498.2 166,498.2 166.3,498.3 166.7,498.3 167,498.3 167.3,498.3 167.7,498.3 168,498.4 168.3,498.4 168.7,498.4 169,498.4 169.3,498.4 169.7,498.4 170,498.5 170.3,498.5 170.7,498.5 171,498.5 171.3,498.5 171.7,498.5 172,498.6 172.3,498.6 172.7,498.6 173,498.6 173.3,498.6 173.7,498.6 174,498.7 174.4,498.7 174.7,498.7 175,498.7 175.4,498.7 175.7,498.7 176,498.7 176.4,498.6 176.7,498.6 177,498.6 177.4,498.6 177.7,498.6 178,498.6 178.4,498.6 178.7,498.5 179,498.5 179.4,498.5 179.7,498.5 180,498.5 180.4,498.5 180.7,498.5 181,498.4 181.4,498.4 181.7,498.4 182,498.4 182.4,498.4 182.7,498.4 183.1,498.4 183.4,498.3 183.7,498.3 184.1,498.3 184.4,498.3 184.7,498.3 185.1,498.3 185.4,498.3 185.7,498.3 186.1,498.2 186.4,498.2 186.7,498.2 187.1,498.2 187.4,498.2 187.7,498.2 188.1,498.2 188.4,498.2 188.7,498.2 189.1,498.1 189.4,498.1 189.7,498.1 190.1,498.1 190.4,498.1 190.8,498.1 191.1,498.1 191.4,498.1 191.8,498.1 192.1,498.1 192.4,498.1 192.8,498.1 193.1,498.1 193.4,498.1 193.8,498.1 194.1,498.1 194.4,498.1 194.8,498.1 195.1,498 195.4,498 195.8,498 196.1,498 196.4,498 196.8,498 197.1,498 197.4,498 197.8,498 198.1,498 198.4,498 198.8,498 199.1,498 199.5,498 199.8,498 200.1,498 200.5,498 200.8,498 201.1,498 201.5,498 201.8,498 202.1,498 202.5,498 202.8,498 203.1,498 203.5,498 203.8,498 204.1,498 204.5,497.9 204.8,497.9 205.1,497.9 205.5,497.9 205.8,497.9 206.1,497.9 206.5,497.9 206.8,497.9 207.2,497.9 207.5,497.9 207.8,497.9 208.2,497.9 208.5,497.9 208.8,497.9 209.2,497.9 209.5,497.9 209.8,497.9 210.2,497.9 210.5,497.9 210.8,497.9 211.2,497.9 211.5,497.9 211.8,497.9 212.2,497.9 212.5,497.9 212.8,497.9 213.2,497.9 213.5,497.9 213.8,497.9 214.2,497.9 214.5,498 214.8,498 215.2,498 215.5,498 215.9,498 216.2,498 216.5,498 216.9,498 217.2,498 217.5,498 217.9,498 218.2,498 218.5,498 218.9,498 219.2,498 219.5,498 219.9,498 220.2,498 220.5,498 220.9,498 221.2,498 221.5,498 221.9,498 222.2,498.1 222.5,498.1 222.9,498.1 223.2,498.1 223.6,498.1 223.9,498.1 224.2,498.1 224.6,498.1 224.9,498.1 225.2,498.1 225.6,498.1 225.9,498.1 226.2,498.1 226.6,498.1 226.9,498.1 227.2,498.1 227.6,498.1 227.9,498.1 228.2,498.2 228.6,498.2 228.9,498.2 229.2,498.2 229.6,498.2 229.9,498.2 230.2,498.2 230.6,498.2 230.9,498.2 231.3,498.2 231.6,498.2 231.9,498.2 232.3,498.2 232.6,498.2 232.9,498.3 233.3,498.3 233.6,498.3 233.9,498.3 234.3,498.3 234.6,498.3 234.9,498.3 235.3,498.3 235.6,498.3 235.9,498.3 236.3,498.4 236.6,498.4 236.9,498.4 237.3,498.4 237.6,498.4 237.9,498.4 238.3,498.4 238.6,498.4 238.9,498.4 239.3,498.4 239.6,498.5 240,498.5 240.3,498.5 240.6,498.5 241,498.5 241.3,498.5 241.6,498.5 242,498.5 242.3,498.6 242.6,498.6 243,498.6 243.3,498.6 243.6,498.6 244,498.6 244.3,498.6 244.6,498.6 245,498.6 245.3,498.7 245.6,498.7 246,498.7 246.3,498.7 246.6,498.7 247,498.7 247.3,498.7 247.7,498.6 248,498.6 248.3,498.6 248.7,498.6 249,498.6 249.3,498.6 249.7,498.5 250,498.5 250.3,498.5 250.7,498.5 251,498.5 251.3,498.4 251.7,498.4 252,498.4 252.3,498.4 252.7,498.4 253,498.3 253.3,498.3 253.7,498.3 254,498.3 254.3,498.3 254.7,498.2 255,498.2 255.3,498.2 255.7,498.2 256,498.2 256.4,498.1 256.7,498.1 257,498.1 257.4,498.1 257.7,498.1 258,498 258.4,498 258.7,498 259,498 259.4,498 259.7,497.9 260,497.9 260.4,497.9 260.7,497.9 261,497.9 261.4,497.9 261.7,497.8 262,497.8 262.4,497.8 262.7,497.8 263,497.8 263.4,497.8 263.7,497.8 264.1,497.7 264.4,497.7 264.7,497.7 265.1,497.7 265.4,497.7 265.7,497.7 266.1,497.7 266.4,497.7 266.7,497.7 267.1,497.7 267.4,497.7 267.7,497.7 268.1,497.6 268.4,497.6 268.7,497.6 269.1,497.6 269.4,497.6 269.7,497.6 270.1,497.6 270.4,497.6 270.7,497.6 271.1,497.6 271.4,497.6 271.7,497.6 272.1,497.5 272.4,497.5 272.8,497.5 273.1,497.5 273.4,497.5 273.8,497.5 274.1,497.5 274.4,497.5 274.8,497.5 275.1,497.5 275.4,497.5 275.8,497.5 276.1,497.5 276.4,497.5 276.8,497.4 277.1,497.4 277.4,497.4 277.8,497.4 278.1,497.4 278.4,497.4 278.8,497.4 279.1,497.4 279.4,497.4 279.8,497.4 280.1,497.4 280.5,497.4 280.8,497.4 281.1,497.4 281.5,497.4 281.8,497.4 282.1,497.4 282.5,497.4 282.8,497.3 283.1,497.3 283.5,497.3 283.8,497.3 284.1,497.3 284.5,497.3 284.8,497.3 285.1,497.3 285.5,497.3 285.8,497.3 286.1,497.3 286.5,497.3 286.8,497.3 287.1,497.3 287.5,497.3 287.8,497.3 288.1,497.3 288.5,497.3 288.8,497.3 289.2,497.3 289.5,497.3 289.8,497.3 290.2,497.3 290.5,497.3 290.8,497.3 291.2,497.3 291.5,497.3 291.8,497.3 292.2,497.3 292.5,497.3 292.8,497.3 293.2,497.3 293.5,497.3 293.8,497.3 294.2,497.3 294.5,497.3 294.8,497.3 295.2,497.3 295.5,497.3 295.8,497.3 296.2,497.3 296.5,497.3 296.9,497.3 297.2,497.3 297.5,497.4 297.9,497.4 298.2,497.4 298.5,497.4 298.9,497.4 299.2,497.4 299.5,497.4 299.9,497.4 300.2,497.4 300.5,497.4 300.9,497.4 301.2,497.4 301.5,497.4 301.9,497.4 302.2,497.5 302.5,497.5 302.9,497.5 303.2,497.5 303.5,497.5 303.9,497.5 304.2,497.5 304.5,497.5 304.9,497.5 305.2,497.5 305.6,497.5 305.9,497.5 306.2,497.6 306.6,497.6 306.9,497.6 307.2,497.6 307.6,497.6 307.9,497.6 308.2,497.6 308.6,497.6 308.9,497.6 309.2,497.6 309.6,497.7 309.9,497.7 310.2,497.7 310.6,497.7 310.9,497.7 311.2,497.7 311.6,497.7 311.9,497.7 312.2,497.7 312.6,497.7 312.9,497.8 313.3,497.8 313.6,497.8 313.9,497.8 314.3,497.8 314.6,497.8 314.9,497.8 315.3,497.8 315.6,497.9 315.9,497.9 316.3,497.9 316.6,497.9 316.9,497.9 317.3,497.9 317.6,497.9 317.9,498 318.3,498 318.6,498 318.9,498 319.3,498 319.6,498 319.9,498.1 320.3,498.1 320.6,498.1 320.9,498.1 321.3,498.1 321.6,498.2 322,498.2 322.3,498.2 322.6,498.2 323,498.2 323.3,498.2 323.6,498.3 324,498.3 324.3,498.3 324.6,498.3 325,498.3 325.3,498.4 325.6,498.4 326,498.4 326.3,498.4 326.6,498.5 327,498.5 327.3,498.5 327.6,498.5 328,498.5 328.3,498.6 328.6,498.6 329,498.6 329.3,498.6 329.7,498.6 330,498.7 330.3,498.7 330.7,498.7 331,498.7 331.3,498.7 331.7,498.6 332,498.6 332.3,498.6 332.7,498.6 333,498.5 333.3,498.5 333.7,498.5 334,498.5 334.3,498.5 334.7,498.4 335,498.4 335.3,498.4 335.7,498.4 336,498.3 336.3,498.3 336.7,498.3 337,498.2 337.4,498.2 337.7,498.2 338,498.2 338.4,498.1 338.7,498.1 339,498.1 339.4,498.1 339.7,498 340,498 340.4,498 340.7,498 341,497.9 341.4,497.9 341.7,497.9 342,497.8 342.4,497.8 342.7,497.8 343,497.8 343.4,497.7 343.7,497.7 344,497.7 344.4,497.7 344.7,497.6 345,497.6 345.4,497.6 345.7,497.6 346.1,497.5 346.4,497.5 346.7,497.5 347.1,497.5 347.4,497.4 347.7,497.4 348.1,497.4 348.4,497.4 348.7,497.3 349.1,497.3 349.4,497.3 349.7,497.3 350.1,497.2 350.4,497.2 350.7,497.2 351.1,497.2 351.4,497.1 351.7,497.1 352.1,497.1 352.4,497.1 352.7,497.1 353.1,497 353.4,497 353.8,497 354.1,497 354.4,496.9 354.8,496.9 355.1,496.9 355.4,496.9 355.8,496.8 356.1,496.8 356.4,496.8 356.8,496.8 357.1,496.7 357.4,496.7 357.8,496.7 358.1,496.7 358.4,496.6 358.8,496.6 359.1,496.6 359.4,496.6 359.8,496.6 360.1,496.5 360.4,496.5 360.8,496.5 361.1,496.5 361.4,496.5 361.8,496.4 362.1,496.4 362.5,496.4 362.8,496.4 363.1,496.4 363.5,496.3 363.8,496.3 364.1,496.3 364.5,496.3 364.8,496.3 365.1,496.3 365.5,496.3 365.8,496.2 366.1,496.2 366.5,496.2 366.8,496.2 367.1,496.2 367.5,496.2 367.8,496.2 368.1,496.1 368.5,496.1 368.8,496.1 369.1,496.1 369.5,496.1 369.8,496.1 370.2,496.1 370.5,496.1 370.8,496 371.2,496 371.5,496 371.8,496 372.2,496 372.5,496 372.8,496 373.2,496 373.5,495.9 373.8,495.9 374.2,495.9 374.5,495.9 374.8,495.9 375.2,495.9 375.5,495.9 375.8,495.9 376.2,495.9 376.5,495.9 376.8,495.8 377.2,495.8 377.5,495.8 377.8,495.8 378.2,495.8 378.5,495.8 378.9,495.8 379.2,495.8 379.5,495.8 379.9,495.8 380.2,495.8 380.5,495.8 380.9,495.8 381.2,495.7 381.5,495.7 381.7,495.7 381.9,495.7 382.2,495.7" stroke="#111" stroke-width="1.3"/>
</g>
<rect x="47.5" y="281" width="334.7" height="217.7" fill="none" stroke="#404040" stroke-width="1.0"/><path d="M81,498.7v-3.5M81,281v3.5M114.4,498.7v-3.5M114.4,281v3.5M147.9,498.7v-3.5M147.9,281v3.5M181.4,498.7v-3.5M181.4,281v3.5M214.8,498.7v-3.5M214.8,281v3.5M248.3,498.7v-3.5M248.3,281v3.5M281.8,498.7v-3.5M281.8,281v3.5M315.3,498.7v-3.5M315.3,281v3.5M348.7,498.7v-3.5M348.7,281v3.5M47.5,471.5h3.5M382.2,471.5h-3.5M47.5,444.3h3.5M382.2,444.3h-3.5M47.5,417.1h3.5M382.2,417.1h-3.5M47.5,389.9h3.5M382.2,389.9h-3.5M47.5,362.6h3.5M382.2,362.6h-3.5M47.5,335.4h3.5M382.2,335.4h-3.5M47.5,308.2h3.5M382.2,308.2h-3.5" stroke="#404040" stroke-width="1.0" fill="none"/>
<g font-size="10" fill="#222"><text x="47.5" y="511.8" text-anchor="middle">0</text><text x="81" y="511.8" text-anchor="middle">1</text><text x="114.4" y="511.8" text-anchor="middle">2</text><text x="147.9" y="511.8" text-anchor="middle">3</text><text x="181.4" y="511.8" text-anchor="middle">4</text><text x="214.8" y="511.8" text-anchor="middle">5</text><text x="248.3" y="511.8" text-anchor="middle">6</text><text x="281.8" y="511.8" text-anchor="middle">7</text><text x="315.3" y="511.8" text-anchor="middle">8</text><text x="348.7" y="511.8" text-anchor="middle">9</text><text x="382.2" y="511.8" text-anchor="middle">10</text><text x="44.6" y="502.1" text-anchor="end">0</text><text x="44.6" y="474.9" text-anchor="end">1000</text><text x="44.6" y="447.7" text-anchor="end">2000</text><text x="44.6" y="420.5" text-anchor="end">3000</text><text x="44.6" y="393.2" text-anchor="end">4000</text><text x="44.6" y="366" text-anchor="end">5000</text><text x="44.6" y="338.8" text-anchor="end">6000</text><text x="44.6" y="311.6" text-anchor="end">7000</text><text x="44.6" y="284.4" text-anchor="end">8000</text></g>
<text x="214.8" y="523.5" font-size="10" fill="#222" text-anchor="middle">Time /s</text>
<text transform="translate(20.2,389.9) rotate(-90)" font-size="10" fill="#222" text-anchor="middle">Absolute error /N</text>
<rect x="149.9" y="290.3" width="209.3" height="31.4" fill="#fff" stroke="#404040" stroke-width="1"/>
<line x1="153.9" y1="298.8" x2="184.9" y2="298.8" stroke="#da3645" stroke-width="1.0"/><text x="188.9" y="300.2" font-size="9.1" fill="#222">F<tspan font-size="7.2" dy="4.1">buck,y0</tspan><tspan dy="-4.1">-Model 1</tspan></text>
<line x1="257.1" y1="298.8" x2="290.2" y2="298.8" stroke="#3786d2" stroke-width="1.2" stroke-dasharray="8.5,4.4"/><text x="292.4" y="300.2" font-size="9.1" fill="#222">F<tspan font-size="7.2" dy="4.1">buck,y0</tspan><tspan dy="-4.1">-Model 2</tspan></text>
<line x1="153.9" y1="313" x2="184.9" y2="313" stroke="#c9a23a" stroke-width="1.1" stroke-dasharray="6.5,2.6,1.2,2.9"/><text x="188.9" y="314.5" font-size="9.1" fill="#222">F<tspan font-size="7.2" dy="4.1">buck,y0</tspan><tspan dy="-4.1">-Model 3</tspan></text>
<line x1="257.1" y1="313" x2="290.2" y2="313" stroke="#111" stroke-width="1.0" stroke-dasharray="1,2.4"/><text x="292.4" y="314.5" font-size="9.1" fill="#222">F<tspan font-size="7.2" dy="4.1">buck,y0</tspan><tspan dy="-4.1">-Model N</tspan></text>
<rect x="159.5" y="343.3" width="113" height="71.6" fill="#fff"/>
<g clip-path="url(#ci)" fill="none" stroke-linejoin="round">
<path d="M171.1,342.3V396.3M181.8,342.3V393.9M193.5,342.3V393.9M205.3,342.3V411.1M216.8,342.3V411.1M227.1,342.3V402M238.6,342.3V403M249.9,342.3V399.6M261.5,342.3V408.2M272.3,342.3V386.3" stroke="#da3645" stroke-width="1"/>
<polyline points="159.5,341.3 159.6,341.3 159.6,341.3 159.7,341.3 159.8,341.3 159.9,341.3 159.9,341.3 160,341.3 160.1,341.3 160.1,341.3 160.2,341.3 160.3,341.3 160.3,341.3 160.4,341.3 160.5,341.3 160.6,341.3 160.6,341.3 160.7,341.3 160.8,341.3 160.8,341.3 160.9,341.3 161,341.3 161.1,341.3 161.1,341.3 161.2,341.3 161.3,341.3 161.3,341.3 161.4,341.3 161.5,341.3 161.5,341.3 161.6,341.3 161.7,341.3 161.8,341.3 161.8,341.3 161.9,341.3 162,341.3 162,341.3 162.1,341.3 162.2,341.3 162.3,341.3 162.3,341.3 162.4,341.3 162.5,341.3 162.5,341.3 162.6,341.3 162.7,341.3 162.7,341.3 162.8,341.3 162.9,341.3 163,341.3 163,341.3 163.1,341.3 163.2,341.3 163.2,341.3 163.3,341.3 163.4,341.3 163.5,341.3 163.5,341.3 163.6,341.3 163.7,341.3 163.7,341.3 163.8,341.3 163.9,341.3 163.9,341.3 164,341.3 164.1,341.3 164.2,341.3 164.2,341.3 164.3,341.3 164.4,341.3 164.4,341.3 164.5,341.3 164.6,341.3 164.7,341.3 164.7,341.3 164.8,341.3 164.9,341.3 164.9,341.3 165,341.3 165.1,341.3 165.2,341.3 165.2,341.3 165.3,341.3 165.4,341.3 165.4,341.3 165.5,341.3 165.6,341.3 165.6,341.3 165.7,341.3 165.8,341.3 165.9,341.3 165.9,341.3 166,341.3 166.1,341.3 166.1,341.3 166.2,341.3 166.3,341.3 166.4,341.3 166.4,341.3 166.5,341.3 166.6,341.3 166.6,341.3 166.7,341.3 166.8,341.3 166.8,341.3 166.9,341.3 167,341.3 167.1,341.3 167.1,341.3 167.2,341.3 167.3,341.3 167.3,341.3 167.4,341.3 167.5,341.3 167.6,341.3 167.6,341.3 167.7,341.3 167.8,341.3 167.8,341.3 167.9,341.3 168,341.3 168,341.3 168.1,341.3 168.2,341.3 168.3,341.3 168.3,341.3 168.4,341.3 168.5,341.3 168.5,341.3 168.6,341.3 168.7,341.3 168.8,341.3 168.8,341.3 168.9,341.3 169,341.3 169,341.3 169.1,341.3 169.2,341.3 169.2,341.3 169.3,341.3 169.4,341.3 169.5,341.3 169.5,341.3 169.6,341.3 169.7,341.3 169.7,341.3 169.8,341.3 169.9,341.3 170,341.3 170,341.3 170.1,341.3 170.2,341.3 170.2,341.3 170.3,341.3 170.4,341.3 170.4,341.3 170.5,341.3 170.6,341.3 170.7,341.3 170.7,341.3 170.8,341.3 170.9,341.3 170.9,341.3 171,341.3 171.1,341.3 171.2,341.3 171.2,341.3 171.3,341.3 171.4,341.3 171.4,341.3 171.5,341.3 171.6,341.3 171.6,341.3 171.7,341.3 171.8,341.3 171.9,341.3 171.9,341.3 172,341.3 172.1,341.3 172.1,341.3 172.2,341.3 172.3,341.3 172.4,341.3 172.4,341.3 172.5,341.3 172.6,341.3 172.6,341.3 172.7,341.3 172.8,341.3 172.8,341.3 172.9,341.3 173,341.3 173.1,341.3 173.1,341.3 173.2,341.3 173.3,341.3 173.3,341.3 173.4,341.3 173.5,341.3 173.6,341.3 173.6,341.3 173.7,341.3 173.8,341.3 173.8,341.3 173.9,341.3 174,341.3 174,341.3 174.1,341.3 174.2,341.3 174.3,341.3 174.3,341.3 174.4,341.3 174.5,341.3 174.5,341.3 174.6,341.3 174.7,341.3 174.8,341.3 174.8,341.3 174.9,341.3 175,341.3 175,341.3 175.1,341.3 175.2,341.3 175.2,341.3 175.3,341.3 175.4,341.3 175.5,341.3 175.5,341.3 175.6,341.3 175.7,341.3 175.7,341.3 175.8,341.3 175.9,341.3 176,341.3 176,341.3 176.1,341.3 176.2,341.3 176.2,341.3 176.3,341.3 176.4,341.3 176.4,341.3 176.5,341.3 176.6,341.3 176.7,341.3 176.7,341.3 176.8,341.3 176.9,341.3 176.9,341.3 177,341.3 177.1,341.3 177.2,341.3 177.2,341.3 177.3,341.3 177.4,341.3 177.4,341.3 177.5,341.3 177.6,341.3 177.7,341.3 177.7,341.3 177.8,341.3 177.9,341.3 177.9,341.3 178,341.3 178.1,341.3 178.1,341.3 178.2,341.3 178.3,341.3 178.4,341.3 178.4,341.3 178.5,341.3 178.6,341.3 178.6,341.3 178.7,341.3 178.8,341.3 178.9,341.3 178.9,341.3 179,341.3 179.1,341.3 179.1,341.3 179.2,341.3 179.3,341.3 179.3,341.3 179.4,341.3 179.5,341.3 179.6,341.3 179.6,341.3 179.7,341.3 179.8,341.3 179.8,341.3 179.9,341.3 180,341.3 180.1,341.3 180.1,341.3 180.2,341.3 180.3,341.3 180.3,341.3 180.4,341.3 180.5,341.3 180.5,341.3 180.6,341.3 180.7,341.3 180.8,341.3 180.8,341.3 180.9,341.3 181,341.3 181,341.3 181.1,341.3 181.2,341.3 181.3,341.3 181.3,341.3 181.4,341.3 181.5,346.6 181.5,352.7 181.6,358.7 181.7,364.6 181.7,370.5 181.8,376.2 181.9,381.9 182,387.5 182,392.9 182.1,398.3 182.2,403.6 182.2,408.8 182.3,413.9 182.4,410.9 182.5,405.9 182.5,400.8 182.6,395.8 182.7,390.7 182.7,385.7 182.8,380.7 182.9,375.6 182.9,370.6 183,365.6 183.1,360.6 183.2,355.6 183.2,350.7 183.3,345.7 183.4,341.3 183.4,341.3 183.5,341.3 183.6,341.3 183.7,341.3 183.7,341.3 183.8,341.3 183.9,341.3 183.9,341.3 184,341.3 184.1,341.3 184.1,341.3 184.2,341.3 184.3,341.3 184.4,341.3 184.4,341.3 184.5,341.3 184.6,341.3 184.6,341.3 184.7,341.3 184.8,341.3 184.9,341.3 184.9,341.3 185,341.3 185.1,341.3 185.1,341.3 185.2,341.3 185.3,341.3 185.3,341.3 185.4,341.3 185.5,341.3 185.6,341.3 185.6,341.3 185.7,341.3 185.8,341.3 185.8,341.3 185.9,341.3 186,341.3 186.1,341.3 186.1,341.3 186.2,341.3 186.3,341.3 186.3,341.3 186.4,341.3 186.5,341.3 186.5,341.3 186.6,341.3 186.7,341.3 186.8,341.3 186.8,341.3 186.9,341.3 187,341.3 187,341.3 187.1,341.3 187.2,341.3 187.3,341.3 187.3,341.3 187.4,341.3 187.5,341.3 187.5,341.3 187.6,341.3 187.7,341.3 187.8,341.3 187.8,341.3 187.9,341.3 188,341.3 188,341.3 188.1,341.3 188.2,341.3 188.2,341.3 188.3,341.3 188.4,341.3 188.5,341.3 188.5,341.3 188.6,341.3 188.7,341.3 188.7,341.3 188.8,341.3 188.9,341.3 189,341.3 189,341.3 189.1,341.3 189.2,341.3 189.2,341.3 189.3,341.3 189.4,341.3 189.4,341.3 189.5,341.3 189.6,341.3 189.7,341.3 189.7,341.3 189.8,341.3 189.9,341.3 189.9,341.3 190,341.3 190.1,341.3 190.2,341.3 190.2,341.3 190.3,341.3 190.4,341.3 190.4,341.3 190.5,341.3 190.6,341.3 190.6,341.3 190.7,341.3 190.8,341.3 190.9,341.3 190.9,341.3 191,341.3 191.1,341.3 191.1,341.3 191.2,341.3 191.3,341.3 191.4,341.3 191.4,341.3 191.5,341.3 191.6,341.3 191.6,341.3 191.7,341.3 191.8,341.3 191.8,341.3 191.9,341.3 192,341.3 192.1,341.3 192.1,341.3 192.2,341.3 192.3,341.3 192.3,341.3 192.4,341.3 192.5,341.3 192.6,341.3 192.6,341.3 192.7,341.3 192.8,341.3 192.8,341.3 192.9,341.3 193,341.3 193,341.3 193.1,341.3 193.2,341.3 193.3,341.3 193.3,341.3 193.4,341.3 193.5,341.3 193.5,341.3 193.6,341.3 193.7,341.3 193.8,341.3 193.8,341.3 193.9,341.3 194,341.3 194,341.3 194.1,341.3 194.2,341.3 194.2,341.3 194.3,341.3 194.4,341.3 194.5,341.3 194.5,341.3 194.6,341.3 194.7,341.3 194.7,341.3 194.8,341.3 194.9,341.3 195,341.3 195,341.3 195.1,341.3 195.2,341.3 195.2,341.3 195.3,341.3 195.4,341.3 195.4,341.3 195.5,341.3 195.6,341.3 195.7,341.3 195.7,341.3 195.8,341.3 195.9,341.3 195.9,341.3 196,341.3 196.1,341.3 196.2,341.3 196.2,341.3 196.3,341.3 196.4,341.3 196.4,341.3 196.5,341.3 196.6,341.3 196.6,341.3 196.7,341.3 196.8,341.3 196.9,341.3 196.9,341.3 197,341.3 197.1,341.3 197.1,341.3 197.2,341.3 197.3,341.3 197.4,341.3 197.4,341.3 197.5,341.3 197.6,341.3 197.6,341.3 197.7,341.3 197.8,341.3 197.8,341.3 197.9,341.3 198,341.3 198.1,341.3 198.1,341.3 198.2,341.3 198.3,341.3 198.3,341.3 198.4,341.3 198.5,341.3 198.6,341.3 198.6,341.3 198.7,341.3 198.8,341.3 198.8,341.3 198.9,341.3 199,341.3 199.1,341.3 199.1,341.3 199.2,341.3 199.3,341.3 199.3,341.3 199.4,341.3 199.5,341.3 199.5,341.3 199.6,341.3 199.7,341.3 199.8,341.3 199.8,341.3 199.9,341.3 200,341.3 200,341.3 200.1,341.3 200.2,341.3 200.3,341.3 200.3,341.3 200.4,341.3 200.5,341.3 200.5,341.3 200.6,341.3 200.7,341.3 200.7,341.3 200.8,341.3 200.9,341.3 201,341.3 201,341.3 201.1,341.3 201.2,341.3 201.2,341.3 201.3,341.3 201.4,341.3 201.5,341.3 201.5,341.3 201.6,341.3 201.7,341.3 201.7,342.7 201.8,344.7 201.9,346.7 201.9,348.7 202,350.7 202.1,352.7 202.2,354.7 202.2,356.6 202.3,358.6 202.4,360.6 202.4,362.5 202.5,364.5 202.6,366.4 202.7,368.3 202.7,370.3 202.8,372.2 202.9,374.1 202.9,376 203,377.9 203.1,379.8 203.1,381.7 203.2,383.5 203.3,385.4 203.4,387.3 203.4,389.1 203.5,390.9 203.6,392.7 203.6,394.5 203.7,396.3 203.8,398.1 203.9,399.9 203.9,401.7 204,403.4 204.1,405.1 204.1,406.9 204.2,408.6 204.3,410.2 204.3,411.9 204.4,413.6 204.5,414.6 204.6,412.9 204.6,411.3 204.7,409.6 204.8,408 204.8,406.3 204.9,404.6 205,402.9 205.1,401.3 205.1,399.6 205.2,397.9 205.3,396.2 205.3,394.5 205.4,392.8 205.5,391.1 205.5,389.5 205.6,387.8 205.7,386.1 205.8,384.4 205.8,382.7 205.9,381 206,379.3 206,377.6 206.1,375.9 206.2,374.2 206.3,372.5 206.3,370.9 206.4,369.2 206.5,367.5 206.5,365.8 206.6,364.2 206.7,362.5 206.7,360.8 206.8,359.2 206.9,357.5 207,355.9 207,354.2 207.1,352.6 207.2,351 207.2,349.4 207.3,347.8 207.4,346.2 207.5,344.6 207.5,343 207.6,341.4 207.7,341.3 207.7,341.3 207.8,341.3 207.9,341.3 207.9,341.3 208,341.3 208.1,341.3 208.2,341.3 208.2,341.3 208.3,341.3 208.4,341.3 208.4,341.3 208.5,341.3 208.6,341.3 208.7,341.3 208.7,341.3 208.8,341.3 208.9,341.3 208.9,341.3 209,341.3 209.1,341.3 209.1,341.3 209.2,341.3 209.3,341.3 209.4,341.3 209.4,341.3 209.5,341.3 209.6,341.3 209.6,341.3 209.7,341.3 209.8,341.3 209.9,341.3 209.9,341.3 210,341.3 210.1,341.3 210.1,341.3 210.2,341.3 210.3,341.3 210.3,341.3 210.4,341.3 210.5,341.3 210.6,341.3 210.6,341.3 210.7,341.3 210.8,341.3 210.8,341.3 210.9,341.3 211,341.3 211.1,341.3 211.1,341.3 211.2,341.3 211.3,341.3 211.3,341.3 211.4,341.3 211.5,341.3 211.6,341.3 211.6,341.3 211.7,341.3 211.8,341.3 211.8,341.3 211.9,341.3 212,341.3 212,341.3 212.1,341.3 212.2,341.3 212.3,341.3 212.3,341.3 212.4,341.3 212.5,341.3 212.5,341.3 212.6,341.3 212.7,341.3 212.8,341.3 212.8,341.3 212.9,341.3 213,341.3 213,341.3 213.1,341.3 213.2,341.3 213.2,341.3 213.3,341.3 213.4,341.3 213.5,341.3 213.5,341.3 213.6,341.3 213.7,341.3 213.7,341.3 213.8,341.3 213.9,341.3 214,341.3 214,341.3 214.1,341.3 214.2,341.3 214.2,341.3 214.3,341.3 214.4,341.3 214.4,341.3 214.5,341.3 214.6,341.3 214.7,341.3 214.7,341.3 214.8,341.3 214.9,341.3 214.9,341.3 215,341.3 215.1,341.3 215.2,341.3 215.2,341.3 215.3,341.3 215.4,341.3 215.4,341.3 215.5,341.3 215.6,341.3 215.6,341.3 215.7,341.3 215.8,341.3 215.9,341.3 215.9,341.3 216,341.3 216.1,341.3 216.1,341.3 216.2,341.3 216.3,341.3 216.4,341.3 216.4,341.3 216.5,341.3 216.6,341.3 216.6,341.3 216.7,341.3 216.8,341.3 216.8,341.3 216.9,341.3 217,341.3 217.1,341.3 217.1,341.3 217.2,341.3 217.3,341.3 217.3,341.3 217.4,341.3 217.5,341.3 217.6,341.3 217.6,341.3 217.7,341.3 217.8,341.3 217.8,341.3 217.9,341.3 218,341.3 218,341.3 218.1,341.3 218.2,341.3 218.3,341.3 218.3,341.3 218.4,341.3 218.5,341.3 218.5,341.3 218.6,341.3 218.7,341.3 218.8,341.3 218.8,341.3 218.9,341.3 219,341.3 219,341.3 219.1,341.3 219.2,341.3 219.2,341.3 219.3,341.3 219.4,341.3 219.5,341.3 219.5,341.3 219.6,341.3 219.7,341.3 219.7,341.3 219.8,341.3 219.9,341.3 220,341.3 220,341.3 220.1,341.3 220.2,341.3 220.2,341.3 220.3,341.3 220.4,341.3 220.4,341.3 220.5,341.3 220.6,341.3 220.7,341.3 220.7,341.3 220.8,341.3 220.9,341.3 220.9,341.3 221,341.3 221.1,341.3 221.2,341.3 221.2,341.3 221.3,341.3 221.4,341.3 221.4,341.3 221.5,341.3 221.6,341.3 221.7,341.3 221.7,341.3 221.8,341.3 221.9,341.3 221.9,341.3 222,341.3 222.1,341.3 222.1,341.3 222.2,341.3 222.3,341.3 222.4,341.3 222.4,341.3 222.5,341.3 222.6,341.3 222.6,341.3 222.7,341.3 222.8,341.3 222.9,341.3 222.9,341.3 223,341.3 223.1,341.3 223.1,341.3 223.2,341.3 223.3,341.3 223.3,341.3 223.4,341.3 223.5,341.3 223.6,341.3 223.6,341.3 223.7,341.3 223.8,341.3 223.8,341.3 223.9,341.3 224,341.3 224.1,341.3 224.1,341.3 224.2,341.3 224.3,341.3 224.3,341.3 224.4,341.3 224.5,341.3 224.5,341.3 224.6,341.3 224.7,341.3 224.8,341.3 224.8,341.3 224.9,341.3 225,341.3 225,341.3 225.1,341.4 225.2,344.1 225.3,346.9 225.3,349.7 225.4,352.5 225.5,355.3 225.5,358.1 225.6,361 225.7,363.8 225.7,366.7 225.8,369.5 225.9,372.4 226,375.2 226,378.1 226.1,380.9 226.2,383.8 226.2,386.6 226.3,389.5 226.4,392.3 226.5,395.1 226.5,397.9 226.6,400.7 226.7,403.5 226.7,406.2 226.8,409 226.9,411.7 226.9,414.4 227,412.7 227.1,410 227.2,407.2 227.2,404.3 227.3,401.4 227.4,398.4 227.4,395.4 227.5,392.4 227.6,389.3 227.7,386.2 227.7,383 227.8,379.8 227.9,376.6 227.9,373.4 228,370.1 228.1,366.8 228.1,363.5 228.2,360.2 228.3,356.9 228.4,353.6 228.4,350.2 228.5,346.9 228.6,343.6 228.6,341.3 228.7,341.3 228.8,341.3 228.9,341.3 228.9,341.3 229,341.3 229.1,341.3 229.1,341.3 229.2,341.3 229.3,341.3 229.3,341.3 229.4,341.3 229.5,341.3 229.6,341.3 229.6,341.3 229.7,341.3 229.8,341.3 229.8,341.3 229.9,341.3 230,341.3 230.1,341.3 230.1,341.3 230.2,341.3 230.3,341.3 230.3,341.3 230.4,341.3 230.5,341.3 230.5,341.3 230.6,341.3 230.7,341.3 230.8,341.3 230.8,341.3 230.9,341.3 231,341.3 231,341.3 231.1,341.3 231.2,341.3 231.3,341.3 231.3,341.3 231.4,341.3 231.5,341.3 231.5,341.3 231.6,341.3 231.7,341.3 231.7,341.3 231.8,341.3 231.9,341.3 232,341.3 232,341.3 232.1,341.3 232.2,341.3 232.2,341.3 232.3,341.3 232.4,341.3 232.5,341.3 232.5,341.3 232.6,341.3 232.7,341.3 232.7,341.3 232.8,341.3 232.9,341.3 232.9,341.3 233,341.3 233.1,341.3 233.2,341.3 233.2,341.3 233.3,341.3 233.4,341.3 233.4,341.3 233.5,341.3 233.6,341.3 233.7,341.3 233.7,341.3 233.8,341.3 233.9,341.3 233.9,341.3 234,341.3 234.1,341.3 234.2,341.3 234.2,341.3 234.3,341.3 234.4,341.3 234.4,341.3 234.5,341.3 234.6,341.3 234.6,341.3 234.7,341.3 234.8,341.3 234.9,341.3 234.9,341.3 235,341.3 235.1,341.3 235.1,341.3 235.2,341.3 235.3,341.3 235.4,341.3 235.4,341.3 235.5,341.3 235.6,341.3 235.6,341.3 235.7,341.3 235.8,341.3 235.8,341.3 235.9,341.3 236,341.3 236.1,341.3 236.1,341.3 236.2,341.3 236.3,341.3 236.3,341.3 236.4,341.3 236.5,341.3 236.6,341.3 236.6,341.3 236.7,341.3 236.8,341.3 236.8,341.3 236.9,341.3 237,341.3 237,341.3 237.1,341.3 237.2,341.3 237.3,341.3 237.3,341.3 237.4,341.3 237.5,341.3 237.5,341.3 237.6,341.3 237.7,341.3 237.8,341.3 237.8,341.3 237.9,341.3 238,341.3 238,341.3 238.1,341.3 238.2,341.3 238.2,341.3 238.3,341.3 238.4,341.3 238.5,341.3 238.5,341.3 238.6,341.3 238.7,341.3 238.7,341.3 238.8,341.3 238.9,341.3 239,341.3 239,341.3 239.1,341.3 239.2,341.3 239.2,341.3 239.3,341.3 239.4,341.3 239.4,341.3 239.5,341.3 239.6,341.3 239.7,341.3 239.7,341.3 239.8,341.3 239.9,341.3 239.9,341.3 240,341.3 240.1,341.3 240.2,341.3 240.2,341.3 240.3,341.3 240.4,341.3 240.4,341.3 240.5,341.3 240.6,341.3 240.6,341.3 240.7,341.3 240.8,341.3 240.9,341.3 240.9,341.3 241,341.3 241.1,341.3 241.1,341.3 241.2,341.3 241.3,341.3 241.4,341.3 241.4,341.3 241.5,341.3 241.6,341.3 241.6,341.3 241.7,341.3 241.8,341.3 241.8,341.3 241.9,341.3 242,341.3 242.1,341.3 242.1,341.3 242.2,341.3 242.3,341.3 242.3,341.3 242.4,341.3 242.5,341.3 242.6,341.3 242.6,341.3 242.7,341.3 242.8,341.3 242.8,341.3 242.9,341.3 243,341.3 243,341.3 243.1,341.3 243.2,341.3 243.3,341.3 243.3,341.3 243.4,341.3 243.5,341.3 243.5,341.3 243.6,341.3 243.7,341.3 243.8,341.3 243.8,341.3 243.9,341.3 244,341.3 244,341.3 244.1,341.3 244.2,341.3 244.2,341.3 244.3,341.3 244.4,341.3 244.5,341.3 244.5,341.3 244.6,341.3 244.7,341.3 244.7,341.3 244.8,341.3 244.9,341.3 245,341.3 245,341.3 245.1,341.3 245.2,341.3 245.2,341.3 245.3,341.3 245.4,341.3 245.5,341.3 245.5,341.3 245.6,341.3 245.7,341.3 245.7,341.3 245.8,341.3 245.9,341.3 245.9,341.3 246,341.3 246.1,341.3 246.2,341.3 246.2,341.3 246.3,341.3 246.4,341.3 246.4,341.3 246.5,341.3 246.6,341.3 246.7,341.3 246.7,341.3 246.8,341.3 246.9,341.3 246.9,341.3 247,341.3 247.1,341.3 247.1,341.3 247.2,341.3 247.3,341.3 247.4,341.3 247.4,341.3 247.5,341.3 247.6,341.3 247.6,341.3 247.7,341.3 247.8,341.3 247.9,341.3 247.9,341.3 248,341.3 248.1,341.3 248.1,341.3 248.2,341.3 248.3,341.3 248.3,341.3 248.4,341.3 248.5,341.3 248.6,341.3 248.6,341.3 248.7,341.3 248.8,341.3 248.8,341.3 248.9,341.3 249,341.3 249.1,341.3 249.1,341.3 249.2,341.3 249.3,341.3 249.3,341.3 249.4,341.3 249.5,341.3 249.5,341.3 249.6,341.3 249.7,341.3 249.8,341.3 249.8,341.3 249.9,341.3 250,341.3 250,341.3 250.1,341.3 250.2,341.3 250.3,341.3 250.3,341.3 250.4,341.3 250.5,341.3 250.5,341.3 250.6,341.3 250.7,341.3 250.7,341.3 250.8,341.3 250.9,341.3 251,341.3 251,341.3 251.1,341.3 251.2,341.3 251.2,341.3 251.3,341.3 251.4,341.3 251.5,341.3 251.5,341.3 251.6,341.3 251.7,341.3 251.7,341.3 251.8,341.3 251.9,341.3 251.9,341.3 252,341.3 252.1,341.3 252.2,341.3 252.2,341.3 252.3,341.3 252.4,341.3 252.4,341.3 252.5,341.3 252.6,341.3 252.7,341.3 252.7,341.3 252.8,341.3 252.9,341.3 252.9,341.3 253,341.3 253.1,341.3 253.1,341.3 253.2,341.3 253.3,341.3 253.4,341.3 253.4,341.3 253.5,341.3 253.6,341.3 253.6,341.3 253.7,341.3 253.8,341.3 253.9,341.3 253.9,341.3 254,341.3 254.1,341.3 254.1,341.3 254.2,341.3 254.3,341.3 254.3,341.3 254.4,341.3 254.5,341.3 254.6,341.3 254.6,341.3 254.7,341.3 254.8,341.3 254.8,341.3 254.9,341.3 255,341.3 255.1,341.3 255.1,341.3 255.2,341.3 255.3,341.3 255.3,341.3 255.4,341.3 255.5,341.3 255.6,341.3 255.6,341.3 255.7,341.3 255.8,341.3 255.8,341.3 255.9,341.3 256,341.3 256,341.3 256.1,341.3 256.2,341.3 256.3,341.3 256.3,341.3 256.4,341.3 256.5,341.3 256.5,341.3 256.6,341.3 256.7,341.3 256.8,341.3 256.8,341.3 256.9,341.3 257,341.3 257,341.3 257.1,341.3 257.2,341.3 257.2,341.3 257.3,341.3 257.4,341.3 257.5,341.3 257.5,341.3 257.6,341.3 257.7,341.3 257.7,341.3 257.8,341.3 257.9,341.3 258,341.3 258,341.3 258.1,341.3 258.2,341.3 258.2,341.3 258.3,341.3 258.4,341.3 258.4,341.3 258.5,341.3 258.6,341.3 258.7,341.3 258.7,341.3 258.8,341.3 258.9,341.3 258.9,341.3 259,341.3 259.1,341.3 259.2,341.3 259.2,341.3 259.3,341.3 259.4,341.3 259.4,341.3 259.5,341.3 259.6,341.3 259.6,341.3 259.7,341.3 259.8,341.3 259.9,341.3 259.9,341.3 260,341.3 260.1,341.3 260.1,341.3 260.2,341.3 260.3,341.3 260.4,341.3 260.4,341.3 260.5,341.3 260.6,341.3 260.6,341.3 260.7,341.3 260.8,341.3 260.8,341.3 260.9,341.3 261,341.3 261.1,341.3 261.1,341.3 261.2,341.3 261.3,341.3 261.3,341.3 261.4,341.3 261.5,341.3 261.6,341.3 261.6,341.3 261.7,341.3 261.8,341.3 261.8,341.3 261.9,341.3 262,341.3 262,341.3 262.1,341.3 262.2,341.3 262.3,341.3 262.3,341.3 262.4,341.3 262.5,341.3 262.5,341.3 262.6,341.3 262.7,341.3 262.8,341.3 262.8,341.3 262.9,341.3 263,341.3 263,341.3 263.1,341.3 263.2,341.3 263.2,341.3 263.3,341.3 263.4,341.3 263.5,341.3 263.5,341.3 263.6,341.3 263.7,341.3 263.7,341.3 263.8,341.3 263.9,341.3 264,341.3 264,341.3 264.1,341.3 264.2,341.3 264.2,341.3 264.3,341.3 264.4,341.3 264.4,341.3 264.5,341.3 264.6,341.3 264.7,341.3 264.7,341.3 264.8,341.3 264.9,341.3 264.9,341.3 265,341.3 265.1,341.3 265.2,341.3 265.2,341.3 265.3,341.3 265.4,341.3 265.4,341.3 265.5,341.3 265.6,341.3 265.6,341.3 265.7,341.3 265.8,341.3 265.9,341.3 265.9,341.3 266,341.3 266.1,341.3 266.1,341.3 266.2,341.3 266.3,341.3 266.4,341.3 266.4,341.3 266.5,341.3 266.6,341.3 266.6,341.3 266.7,341.3 266.8,341.3 266.9,341.3 266.9,341.3 267,341.3 267.1,341.3 267.1,341.3 267.2,341.3 267.3,341.3 267.3,341.3 267.4,341.3 267.5,341.3 267.6,341.3 267.6,341.3 267.7,341.3 267.8,341.3 267.8,341.3 267.9,341.3 268,341.3 268.1,341.3 268.1,341.3 268.2,341.3 268.3,341.3 268.3,341.3 268.4,341.3 268.5,341.3 268.5,341.3 268.6,341.3 268.7,341.3 268.8,341.3 268.8,341.3 268.9,341.3 269,341.3 269,341.3 269.1,341.3 269.2,341.3 269.3,341.3 269.3,341.3 269.4,341.3 269.5,341.3 269.5,341.3 269.6,341.3 269.7,341.3 269.7,341.3 269.8,341.3 269.9,341.3 270,341.3 270,341.3 270.1,341.3 270.2,341.3 270.2,341.3 270.3,341.3 270.4,341.3 270.5,341.3 270.5,343.5 270.6,349 270.7,354.5 270.7,360.1 270.8,365.6 270.9,371.1 270.9,376.6 271,381.9 271.1,387.3 271.2,392.5 271.2,397.6 271.3,402.6 271.4,407.5 271.4,412.2 271.5,413.1 271.6,408.6 271.7,404.3 271.7,399.9 271.8,395.7 271.9,391.5 271.9,387.4 272,383.4 272.1,379.5 272.1,375.6 272.2,371.9 272.3,368.2 272.4,364.6 272.4,361.1 272.5,357.6" stroke="#3786d2" stroke-width="1" stroke-dasharray="4,2"/>
<polyline points="159.5,341.3 159.6,341.3 159.6,341.3 159.7,341.3 159.8,341.3 159.9,341.3 159.9,341.3 160,341.3 160.1,341.3 160.1,341.3 160.2,341.3 160.3,341.3 160.3,341.3 160.4,341.3 160.5,341.3 160.6,341.3 160.6,341.3 160.7,341.3 160.8,341.3 160.8,341.3 160.9,341.3 161,341.3 161.1,341.3 161.1,341.3 161.2,341.3 161.3,341.3 161.3,341.3 161.4,341.3 161.5,341.3 161.5,341.3 161.6,341.3 161.7,341.3 161.8,341.3 161.8,341.3 161.9,341.3 162,341.3 162,341.3 162.1,341.3 162.2,341.3 162.3,341.3 162.3,341.3 162.4,341.3 162.5,341.3 162.5,341.3 162.6,341.3 162.7,341.3 162.7,341.3 162.8,341.3 162.9,341.3 163,341.3 163,341.3 163.1,341.3 163.2,341.3 163.2,341.3 163.3,341.3 163.4,341.3 163.5,341.3 163.5,341.3 163.6,341.3 163.7,341.3 163.7,341.3 163.8,341.3 163.9,341.3 163.9,341.3 164,341.3 164.1,341.3 164.2,341.3 164.2,341.3 164.3,341.3 164.4,341.3 164.4,341.3 164.5,341.3 164.6,341.3 164.7,341.3 164.7,341.3 164.8,341.3 164.9,341.3 164.9,341.3 165,341.3 165.1,341.3 165.2,341.3 165.2,341.3 165.3,341.3 165.4,341.3 165.4,341.3 165.5,341.3 165.6,341.3 165.6,341.3 165.7,341.3 165.8,341.3 165.9,341.3 165.9,341.3 166,341.3 166.1,341.3 166.1,341.3 166.2,341.3 166.3,341.3 166.4,341.3 166.4,341.3 166.5,341.3 166.6,341.3 166.6,341.3 166.7,341.3 166.8,341.3 166.8,341.3 166.9,341.3 167,341.3 167.1,341.3 167.1,341.3 167.2,341.3 167.3,341.3 167.3,341.3 167.4,341.3 167.5,341.3 167.6,341.3 167.6,341.3 167.7,341.3 167.8,341.3 167.8,341.3 167.9,341.3 168,341.3 168,341.3 168.1,341.3 168.2,341.3 168.3,341.3 168.3,341.3 168.4,341.3 168.5,341.3 168.5,341.3 168.6,341.3 168.7,341.3 168.8,341.3 168.8,341.3 168.9,341.3 169,341.3 169,341.3 169.1,341.3 169.2,341.3 169.2,341.3 169.3,341.3 169.4,341.3 169.5,341.3 169.5,341.3 169.6,341.3 169.7,341.3 169.7,341.3 169.8,341.3 169.9,341.3 170,341.3 170,341.3 170.1,341.3 170.2,341.3 170.2,341.3 170.3,341.3 170.4,341.3 170.4,341.3 170.5,341.3 170.6,341.3 170.7,341.3 170.7,341.3 170.8,341.3 170.9,341.3 170.9,341.3 171,341.3 171.1,341.3 171.2,341.3 171.2,341.3 171.3,341.3 171.4,341.3 171.4,341.3 171.5,341.3 171.6,341.3 171.6,341.3 171.7,341.3 171.8,341.3 171.9,341.3 171.9,341.3 172,341.3 172.1,341.3 172.1,341.3 172.2,341.3 172.3,341.3 172.4,341.3 172.4,341.3 172.5,341.3 172.6,341.3 172.6,341.3 172.7,341.3 172.8,341.3 172.8,341.3 172.9,341.3 173,341.3 173.1,341.3 173.1,341.3 173.2,341.3 173.3,341.3 173.3,341.3 173.4,341.3 173.5,341.3 173.6,341.3 173.6,341.3 173.7,341.3 173.8,341.3 173.8,341.3 173.9,341.3 174,341.3 174,341.3 174.1,341.3 174.2,341.3 174.3,341.3 174.3,341.3 174.4,341.3 174.5,341.3 174.5,341.3 174.6,341.3 174.7,341.3 174.8,341.3 174.8,341.3 174.9,341.3 175,341.3 175,341.3 175.1,341.3 175.2,341.3 175.2,341.3 175.3,341.3 175.4,341.3 175.5,341.3 175.5,341.3 175.6,341.3 175.7,341.3 175.7,341.3 175.8,341.3 175.9,341.3 176,341.3 176,341.3 176.1,341.3 176.2,341.3 176.2,341.3 176.3,341.3 176.4,341.3 176.4,341.3 176.5,341.3 176.6,341.3 176.7,341.3 176.7,341.3 176.8,341.3 176.9,341.3 176.9,341.3 177,341.3 177.1,341.3 177.2,341.3 177.2,341.3 177.3,341.3 177.4,341.3 177.4,341.3 177.5,341.3 177.6,341.3 177.7,341.3 177.7,341.3 177.8,341.3 177.9,341.3 177.9,341.3 178,341.3 178.1,341.3 178.1,341.3 178.2,349 178.3,357.3 178.4,365.5 178.4,373.5 178.5,381.3 178.6,389 178.6,396.4 178.7,403.7 178.8,410.8 178.9,412.2 178.9,405.4 179,398.7 179.1,392 179.1,385.3 179.2,378.7 179.3,372.1 179.3,365.5 179.4,359 179.5,352.6 179.6,346.2 179.6,341.3 179.7,341.3 179.8,341.3 179.8,341.3 179.9,341.3 180,341.3 180.1,341.3 180.1,341.3 180.2,341.3 180.3,341.3 180.3,341.3 180.4,341.3 180.5,341.3 180.5,341.3 180.6,341.3 180.7,341.3 180.8,341.3 180.8,341.3 180.9,341.3 181,341.3 181,341.3 181.1,341.3 181.2,341.3 181.3,341.3 181.3,341.3 181.4,341.3 181.5,341.3 181.5,341.3 181.6,341.3 181.7,341.3 181.7,341.3 181.8,341.3 181.9,341.3 182,341.3 182,341.3 182.1,341.3 182.2,341.3 182.2,341.3 182.3,341.3 182.4,341.3 182.5,341.3 182.5,341.3 182.6,341.3 182.7,341.3 182.7,341.3 182.8,341.3 182.9,341.3 182.9,341.3 183,341.3 183.1,341.3 183.2,341.3 183.2,341.3 183.3,341.3 183.4,341.3 183.4,341.3 183.5,341.3 183.6,341.3 183.7,341.3 183.7,341.3 183.8,341.3 183.9,341.3 183.9,341.3 184,341.3 184.1,341.3 184.1,341.3 184.2,341.3 184.3,341.3 184.4,341.3 184.4,341.3 184.5,341.3 184.6,341.3 184.6,341.3 184.7,341.3 184.8,341.3 184.9,341.3 184.9,341.3 185,341.3 185.1,341.3 185.1,341.3 185.2,341.3 185.3,341.3 185.3,341.3 185.4,341.3 185.5,341.3 185.6,341.3 185.6,341.3 185.7,341.3 185.8,341.3 185.8,341.3 185.9,341.3 186,341.3 186.1,341.3 186.1,341.3 186.2,341.3 186.3,341.3 186.3,341.3 186.4,341.3 186.5,341.3 186.5,341.3 186.6,341.3 186.7,341.3 186.8,341.3 186.8,341.3 186.9,341.3 187,341.3 187,341.3 187.1,341.3 187.2,341.3 187.3,341.3 187.3,341.3 187.4,341.3 187.5,341.3 187.5,341.3 187.6,341.3 187.7,341.3 187.8,341.3 187.8,341.3 187.9,341.3 188,341.3 188,341.3 188.1,341.3 188.2,341.3 188.2,341.3 188.3,341.3 188.4,341.3 188.5,341.3 188.5,341.3 188.6,341.3 188.7,341.3 188.7,341.3 188.8,341.3 188.9,341.3 189,341.3 189,341.3 189.1,341.3 189.2,341.3 189.2,341.3 189.3,341.3 189.4,341.3 189.4,341.3 189.5,341.3 189.6,341.3 189.7,341.3 189.7,341.3 189.8,341.3 189.9,341.3 189.9,341.3 190,341.3 190.1,341.3 190.2,341.3 190.2,341.3 190.3,341.3 190.4,341.3 190.4,341.3 190.5,341.3 190.6,341.3 190.6,341.3 190.7,341.3 190.8,341.3 190.9,341.3 190.9,341.3 191,341.3 191.1,341.3 191.1,341.3 191.2,341.3 191.3,341.3 191.4,341.3 191.4,341.3 191.5,341.3 191.6,341.3 191.6,341.3 191.7,341.3 191.8,341.3 191.8,341.3 191.9,341.3 192,341.3 192.1,341.3 192.1,341.3 192.2,341.3 192.3,341.3 192.3,341.3 192.4,341.3 192.5,341.3 192.6,341.3 192.6,341.3 192.7,341.3 192.8,341.3 192.8,341.3 192.9,341.3 193,341.3 193,341.3 193.1,341.3 193.2,341.3 193.3,341.3 193.3,341.3 193.4,341.3 193.5,341.3 193.5,341.3 193.6,341.3 193.7,341.3 193.8,341.3 193.8,341.3 193.9,341.3 194,341.3 194,341.3 194.1,341.3 194.2,341.3 194.2,341.3 194.3,341.3 194.4,341.3 194.5,341.3 194.5,341.3 194.6,341.3 194.7,341.3 194.7,341.3 194.8,341.3 194.9,341.3 195,341.3 195,341.3 195.1,341.3 195.2,341.3 195.2,341.3 195.3,341.3 195.4,341.3 195.4,341.3 195.5,341.3 195.6,341.3 195.7,341.3 195.7,341.3 195.8,341.3 195.9,341.3 195.9,341.3 196,341.3 196.1,341.3 196.2,341.3 196.2,341.3 196.3,341.3 196.4,341.3 196.4,341.3 196.5,341.3 196.6,341.3 196.6,341.3 196.7,341.3 196.8,341.3 196.9,341.3 196.9,341.3 197,341.3 197.1,341.3 197.1,341.3 197.2,341.3 197.3,341.3 197.4,341.3 197.4,341.3 197.5,341.3 197.6,341.3 197.6,341.3 197.7,341.3 197.8,341.3 197.8,341.3 197.9,341.3 198,341.3 198.1,341.3 198.1,341.3 198.2,341.3 198.3,341.3 198.3,341.3 198.4,341.3 198.5,341.3 198.6,341.3 198.6,341.3 198.7,341.3 198.8,341.3 198.8,341.3 198.9,341.3 199,341.3 199.1,341.3 199.1,341.3 199.2,341.3 199.3,341.3 199.3,341.3 199.4,341.3 199.5,341.3 199.5,341.3 199.6,341.3 199.7,341.3 199.8,341.3 199.8,341.3 199.9,341.3 200,341.3 200,341.3 200.1,341.3 200.2,341.3 200.3,341.3 200.3,341.3 200.4,341.3 200.5,341.3 200.5,341.3 200.6,341.3 200.7,341.3 200.7,341.3 200.8,341.3 200.9,341.3 201,341.3 201,341.3 201.1,341.3 201.2,341.3 201.2,341.3 201.3,341.3 201.4,341.3 201.5,341.3 201.5,341.3 201.6,341.3 201.7,341.3 201.7,341.3 201.8,341.3 201.9,341.3 201.9,341.3 202,341.3 202.1,341.3 202.2,341.3 202.2,341.3 202.3,341.3 202.4,341.3 202.4,341.3 202.5,341.3 202.6,341.3 202.7,341.3 202.7,341.3 202.8,341.3 202.9,341.3 202.9,341.3 203,341.3 203.1,341.3 203.1,341.3 203.2,341.3 203.3,344.7 203.4,349.2 203.4,353.6 203.5,358.1 203.6,362.5 203.6,366.9 203.7,371.2 203.8,375.5 203.9,379.7 203.9,383.9 204,388.1 204.1,392.2 204.1,396.2 204.2,400.2 204.3,404.2 204.3,408.1 204.4,411.9 204.5,414.2 204.6,410.4 204.6,406.6 204.7,402.9 204.8,399.1 204.8,395.3 204.9,391.5 205,387.6 205.1,383.8 205.1,380 205.2,376.2 205.3,372.3 205.3,368.5 205.4,364.6 205.5,360.8 205.5,357 205.6,353.1 205.7,349.3 205.8,345.4 205.8,341.6 205.9,341.3 206,341.3 206,341.3 206.1,341.3 206.2,341.3 206.3,341.3 206.3,341.3 206.4,341.3 206.5,341.3 206.5,341.3 206.6,341.3 206.7,341.3 206.7,341.3 206.8,341.3 206.9,341.3 207,341.3 207,341.3 207.1,341.3 207.2,341.3 207.2,341.3 207.3,341.3 207.4,341.3 207.5,341.3 207.5,341.3 207.6,341.3 207.7,341.3 207.7,341.3 207.8,341.3 207.9,341.3 207.9,341.3 208,341.3 208.1,341.3 208.2,341.3 208.2,341.3 208.3,341.3 208.4,341.3 208.4,341.3 208.5,341.3 208.6,341.3 208.7,341.3 208.7,341.3 208.8,341.3 208.9,341.3 208.9,341.3 209,341.3 209.1,341.3 209.1,341.3 209.2,341.3 209.3,341.3 209.4,341.3 209.4,341.3 209.5,341.3 209.6,341.3 209.6,341.3 209.7,341.3 209.8,341.3 209.9,341.3 209.9,341.3 210,341.3 210.1,341.3 210.1,341.3 210.2,341.3 210.3,341.3 210.3,341.3 210.4,341.3 210.5,341.3 210.6,341.3 210.6,341.3 210.7,341.3 210.8,341.3 210.8,341.3 210.9,341.3 211,341.3 211.1,341.3 211.1,341.3 211.2,341.3 211.3,341.3 211.3,341.3 211.4,341.3 211.5,341.3 211.6,341.3 211.6,341.3 211.7,341.3 211.8,341.3 211.8,341.3 211.9,341.3 212,341.3 212,341.3 212.1,341.3 212.2,341.3 212.3,341.3 212.3,341.3 212.4,341.3 212.5,341.3 212.5,341.3 212.6,341.3 212.7,341.3 212.8,341.3 212.8,341.3 212.9,341.3 213,341.3 213,341.3 213.1,341.3 213.2,341.3 213.2,341.3 213.3,341.3 213.4,341.3 213.5,341.3 213.5,341.3 213.6,341.3 213.7,341.3 213.7,341.3 213.8,341.3 213.9,341.3 214,341.3 214,341.3 214.1,341.3 214.2,341.3 214.2,341.3 214.3,341.3 214.4,341.3 214.4,341.3 214.5,341.3 214.6,341.3 214.7,341.3 214.7,341.3 214.8,341.3 214.9,341.3 214.9,341.3 215,341.3 215.1,341.3 215.2,341.3 215.2,341.3 215.3,341.3 215.4,341.3 215.4,341.3 215.5,341.3 215.6,341.3 215.6,341.3 215.7,341.3 215.8,341.3 215.9,341.3 215.9,341.3 216,341.3 216.1,341.3 216.1,341.3 216.2,341.3 216.3,341.3 216.4,341.3 216.4,341.3 216.5,341.3 216.6,341.3 216.6,341.3 216.7,341.3 216.8,341.3 216.8,341.3 216.9,341.3 217,341.3 217.1,341.3 217.1,341.3 217.2,341.3 217.3,341.3 217.3,341.3 217.4,341.3 217.5,341.3 217.6,341.3 217.6,341.3 217.7,341.3 217.8,341.3 217.8,341.3 217.9,341.3 218,341.3 218,341.3 218.1,341.3 218.2,341.3 218.3,341.3 218.3,341.3 218.4,341.3 218.5,341.3 218.5,341.3 218.6,341.3 218.7,341.3 218.8,341.3 218.8,341.3 218.9,341.3 219,341.3 219,341.3 219.1,341.3 219.2,341.3 219.2,341.3 219.3,341.3 219.4,341.3 219.5,341.3 219.5,341.3 219.6,341.3 219.7,341.3 219.7,341.3 219.8,341.3 219.9,341.3 220,341.3 220,341.3 220.1,341.3 220.2,341.3 220.2,341.3 220.3,341.3 220.4,341.3 220.4,341.3 220.5,341.3 220.6,341.3 220.7,341.3 220.7,341.3 220.8,341.3 220.9,341.3 220.9,341.3 221,341.3 221.1,341.3 221.2,341.3 221.2,341.3 221.3,341.3 221.4,341.3 221.4,341.3 221.5,341.3 221.6,341.3 221.7,341.3 221.7,341.3 221.8,341.3 221.9,341.3 221.9,341.3 222,341.3 222.1,341.3 222.1,341.3 222.2,341.3 222.3,341.3 222.4,341.3 222.4,341.3 222.5,341.3 222.6,341.3 222.6,341.3 222.7,341.3 222.8,341.3 222.9,341.3 222.9,341.3 223,341.3 223.1,341.3 223.1,341.3 223.2,341.3 223.3,341.3 223.3,341.3 223.4,341.3 223.5,341.3 223.6,341.3 223.6,341.3 223.7,341.3 223.8,341.3 223.8,341.3 223.9,341.3 224,341.3 224.1,341.3 224.1,341.3 224.2,341.3 224.3,341.3 224.3,341.3 224.4,341.3 224.5,341.3 224.5,341.3 224.6,341.3 224.7,341.3 224.8,341.3 224.8,341.3 224.9,341.3 225,341.3 225,341.3 225.1,341.3 225.2,341.3 225.3,341.3 225.3,341.3 225.4,341.3 225.5,341.3 225.5,341.3 225.6,341.3 225.7,341.3 225.7,345 225.8,349.1 225.9,353.3 226,357.4 226,361.5 226.1,365.7 226.2,369.8 226.2,373.9 226.3,378 226.4,382.1 226.5,386.1 226.5,390.2 226.6,394.2 226.7,398.2 226.7,402.2 226.8,406.2 226.9,410.2 226.9,414.1 227,411.7 227.1,407.7 227.2,403.7 227.2,399.5 227.3,395.3 227.4,391.1 227.4,386.8 227.5,382.4 227.6,378 227.7,373.5 227.7,369 227.8,364.4 227.9,359.8 227.9,355.2 228,350.5 228.1,345.7 228.1,341.3 228.2,341.3 228.3,341.3 228.4,341.3 228.4,341.3 228.5,341.3 228.6,341.3 228.6,341.3 228.7,341.3 228.8,341.3 228.9,341.3 228.9,341.3 229,341.3 229.1,341.3 229.1,341.3 229.2,341.3 229.3,341.3 229.3,341.3 229.4,341.3 229.5,341.3 229.6,341.3 229.6,341.3 229.7,341.3 229.8,341.3 229.8,341.3 229.9,341.3 230,341.3 230.1,341.3 230.1,341.3 230.2,341.3 230.3,341.3 230.3,341.3 230.4,341.3 230.5,341.3 230.5,341.3 230.6,341.3 230.7,341.3 230.8,341.3 230.8,341.3 230.9,341.3 231,341.3 231,341.3 231.1,341.3 231.2,341.3 231.3,341.3 231.3,341.3 231.4,341.3 231.5,341.3 231.5,341.3 231.6,341.3 231.7,341.3 231.7,341.3 231.8,341.3 231.9,341.3 232,341.3 232,341.3 232.1,341.3 232.2,341.3 232.2,341.3 232.3,341.3 232.4,341.3 232.5,341.3 232.5,341.3 232.6,341.3 232.7,341.3 232.7,341.3 232.8,341.3 232.9,341.3 232.9,341.3 233,341.3 233.1,341.3 233.2,341.3 233.2,341.3 233.3,341.3 233.4,341.3 233.4,341.3 233.5,341.3 233.6,341.3 233.7,341.3 233.7,341.3 233.8,341.3 233.9,341.3 233.9,341.3 234,341.3 234.1,341.3 234.2,341.3 234.2,341.3 234.3,341.3 234.4,341.3 234.4,341.3 234.5,341.3 234.6,341.3 234.6,341.3 234.7,341.3 234.8,341.3 234.9,341.3 234.9,341.3 235,341.3 235.1,341.3 235.1,341.3 235.2,341.3 235.3,341.3 235.4,341.3 235.4,341.3 235.5,341.3 235.6,341.3 235.6,341.3 235.7,341.3 235.8,341.3 235.8,341.3 235.9,341.3 236,341.3 236.1,341.3 236.1,341.3 236.2,341.3 236.3,341.3 236.3,341.3 236.4,341.3 236.5,341.3 236.6,341.3 236.6,341.3 236.7,341.3 236.8,341.3 236.8,341.3 236.9,341.3 237,341.3 237,341.3 237.1,341.3 237.2,341.3 237.3,341.3 237.3,341.3 237.4,341.3 237.5,341.3 237.5,341.3 237.6,341.3 237.7,341.3 237.8,341.3 237.8,341.3 237.9,341.3 238,341.3 238,341.3 238.1,341.3 238.2,341.3 238.2,341.3 238.3,341.3 238.4,341.3 238.5,341.3 238.5,341.3 238.6,341.3 238.7,341.3 238.7,341.3 238.8,341.3 238.9,341.3 239,341.3 239,341.3 239.1,341.3 239.2,341.3 239.2,341.3 239.3,341.3 239.4,341.3 239.4,341.3 239.5,341.3 239.6,341.3 239.7,341.3 239.7,341.3 239.8,341.3 239.9,341.3 239.9,341.3 240,341.3 240.1,341.3 240.2,341.3 240.2,341.3 240.3,341.3 240.4,341.3 240.4,341.3 240.5,341.3 240.6,341.3 240.6,341.3 240.7,341.3 240.8,341.3 240.9,341.3 240.9,341.3 241,341.3 241.1,341.3 241.1,341.3 241.2,341.3 241.3,341.3 241.4,341.3 241.4,341.3 241.5,341.3 241.6,341.3 241.6,341.3 241.7,341.3 241.8,341.3 241.8,341.3 241.9,341.3 242,341.3 242.1,341.3 242.1,341.3 242.2,341.3 242.3,341.3 242.3,341.3 242.4,341.3 242.5,341.3 242.6,341.3 242.6,341.3 242.7,341.3 242.8,341.3 242.8,341.3 242.9,341.3 243,341.3 243,341.3 243.1,341.3 243.2,341.3 243.3,341.3 243.3,341.3 243.4,341.3 243.5,341.3 243.5,341.3 243.6,341.3 243.7,341.3 243.8,341.3 243.8,341.3 243.9,341.3 244,341.3 244,341.3 244.1,341.3 244.2,341.3 244.2,341.3 244.3,341.3 244.4,341.3 244.5,341.3 244.5,341.3 244.6,341.3 244.7,341.3 244.7,341.3 244.8,341.3 244.9,341.3 245,341.3 245,341.3 245.1,341.3 245.2,341.3 245.2,341.3 245.3,341.3 245.4,341.3 245.5,341.3 245.5,341.3 245.6,341.3 245.7,341.3 245.7,341.3 245.8,341.3 245.9,341.3 245.9,341.3 246,341.3 246.1,341.3 246.2,341.3 246.2,341.3 246.3,341.3 246.4,341.3 246.4,341.3 246.5,341.3 246.6,341.3 246.7,341.3 246.7,341.3 246.8,341.3 246.9,341.3 246.9,341.3 247,341.3 247.1,341.3 247.1,341.3 247.2,341.3 247.3,341.3 247.4,341.3 247.4,341.3 247.5,341.3 247.6,341.3 247.6,341.3 247.7,341.3 247.8,341.3 247.9,341.3 247.9,341.3 248,341.3 248.1,341.3 248.1,341.3 248.2,341.3 248.3,341.3 248.3,341.3 248.4,341.3 248.5,341.3 248.6,341.3 248.6,341.3 248.7,341.3 248.8,341.3 248.8,341.3 248.9,341.3 249,341.3 249.1,341.3 249.1,341.3 249.2,341.3 249.3,341.3 249.3,341.3 249.4,341.3 249.5,341.3 249.5,341.3 249.6,341.3 249.7,341.3 249.8,341.3 249.8,341.3 249.9,341.3 250,341.3 250,341.3 250.1,341.3 250.2,341.3 250.3,341.3 250.3,341.3 250.4,341.3 250.5,341.3 250.5,341.3 250.6,341.3 250.7,341.3 250.7,341.3 250.8,341.3 250.9,341.3 251,341.3 251,341.3 251.1,341.3 251.2,341.3 251.2,341.3 251.3,341.3 251.4,341.3 251.5,341.3 251.5,341.3 251.6,341.3 251.7,341.3 251.7,341.3 251.8,341.3 251.9,341.3 251.9,341.3 252,341.3 252.1,341.3 252.2,341.3 252.2,341.3 252.3,341.3 252.4,341.3 252.4,341.3 252.5,341.3 252.6,341.3 252.7,341.3 252.7,341.3 252.8,341.3 252.9,341.3 252.9,341.3 253,341.3 253.1,341.3 253.1,341.3 253.2,341.3 253.3,341.3 253.4,341.3 253.4,341.3 253.5,341.3 253.6,341.3 253.6,341.3 253.7,341.3 253.8,341.3 253.9,341.3 253.9,341.3 254,341.3 254.1,341.3 254.1,341.3 254.2,341.3 254.3,341.3 254.3,341.3 254.4,341.3 254.5,341.3 254.6,341.3 254.6,341.3 254.7,341.3 254.8,341.3 254.8,341.3 254.9,341.3 255,341.3 255.1,341.3 255.1,341.3 255.2,341.3 255.3,341.3 255.3,341.3 255.4,341.3 255.5,341.3 255.6,341.3 255.6,341.3 255.7,341.3 255.8,341.3 255.8,341.3 255.9,341.3 256,341.3 256,341.3 256.1,341.3 256.2,344.3 256.3,348.5 256.3,352.8 256.4,357.1 256.5,361.4 256.5,365.7 256.6,370 256.7,374.2 256.8,378.5 256.8,382.8 256.9,387 257,391.3 257,395.5 257.1,399.8 257.2,404 257.2,408.2 257.3,412.4 257.4,413.2 257.5,409 257.5,404.8 257.6,400.6 257.7,396.3 257.7,392 257.8,387.7 257.9,383.4 258,379 258,374.7 258.1,370.3 258.2,365.9 258.2,361.5 258.3,357.1 258.4,352.7 258.4,348.2 258.5,343.8 258.6,341.3 258.7,341.3 258.7,341.3 258.8,341.3 258.9,341.3 258.9,341.3 259,341.3 259.1,341.3 259.2,341.3 259.2,341.3 259.3,341.3 259.4,341.3 259.4,341.3 259.5,341.3 259.6,341.3 259.6,341.3 259.7,341.3 259.8,341.3 259.9,341.3 259.9,341.3 260,341.3 260.1,341.3 260.1,341.3 260.2,341.3 260.3,341.3 260.4,341.3 260.4,341.3 260.5,341.3 260.6,341.3 260.6,341.3 260.7,341.3 260.8,341.3 260.8,341.3 260.9,341.3 261,341.3 261.1,341.3 261.1,341.3 261.2,341.3 261.3,341.3 261.3,341.3 261.4,341.3 261.5,341.3 261.6,341.3 261.6,341.3 261.7,341.3 261.8,341.3 261.8,341.3 261.9,341.3 262,341.3 262,341.3 262.1,341.3 262.2,341.3 262.3,341.3 262.3,341.3 262.4,341.3 262.5,341.3 262.5,341.3 262.6,341.3 262.7,341.3 262.8,341.3 262.8,341.3 262.9,341.3 263,341.3 263,341.3 263.1,341.3 263.2,341.3 263.2,341.3 263.3,341.3 263.4,341.3 263.5,341.3 263.5,341.3 263.6,341.3 263.7,341.3 263.7,341.3 263.8,341.3 263.9,341.3 264,341.3 264,341.3 264.1,341.3 264.2,341.3 264.2,341.3 264.3,341.3 264.4,341.3 264.4,341.3 264.5,341.3 264.6,341.3 264.7,341.3 264.7,341.3 264.8,341.3 264.9,341.3 264.9,341.3 265,341.3 265.1,341.3 265.2,341.3 265.2,341.3 265.3,341.3 265.4,341.3 265.4,341.3 265.5,341.3 265.6,341.3 265.6,341.3 265.7,341.3 265.8,341.3 265.9,341.3 265.9,341.3 266,341.3 266.1,341.3 266.1,341.3 266.2,341.3 266.3,341.3 266.4,341.3 266.4,341.3 266.5,341.3 266.6,341.3 266.6,341.3 266.7,341.3 266.8,341.3 266.9,341.3 266.9,341.3 267,341.3 267.1,341.3 267.1,341.3 267.2,341.3 267.3,341.3 267.3,341.3 267.4,341.3 267.5,341.3 267.6,341.3 267.6,341.3 267.7,341.3 267.8,341.3 267.8,341.3 267.9,341.3 268,341.3 268.1,341.3 268.1,341.3 268.2,341.3 268.3,341.3 268.3,341.3 268.4,341.3 268.5,341.3 268.5,341.3 268.6,341.3 268.7,341.3 268.8,341.3 268.8,341.3 268.9,341.3 269,341.3 269,341.3 269.1,341.3 269.2,341.3 269.3,341.3 269.3,341.3 269.4,341.3 269.5,341.3 269.5,341.3 269.6,341.3 269.7,341.3 269.7,341.3 269.8,341.3 269.9,341.3 270,341.3 270,341.3 270.1,341.3 270.2,341.3 270.2,341.3 270.3,341.3 270.4,341.3 270.5,341.3 270.5,341.3 270.6,341.3 270.7,341.3 270.7,341.3 270.8,341.3 270.9,341.3 270.9,341.3 271,341.3 271.1,341.3 271.2,341.3 271.2,341.3 271.3,341.3 271.4,341.3 271.4,341.3 271.5,341.3 271.6,341.3 271.7,341.3 271.7,341.3 271.8,341.3 271.9,341.3 271.9,341.3 272,341.3 272.1,341.3 272.1,341.3 272.2,341.3 272.3,341.3 272.4,341.3 272.4,341.3 272.5,341.3" stroke="#c9a23a" stroke-width="1" stroke-dasharray="4,1.6,1,1.6"/>
<polyline points="159.5,361.8 159.6,363.1 159.6,362.3 159.7,362.6 159.8,362.6 159.9,362.5 159.9,363.1 160,362.6 160.1,362.8 160.1,361.6 160.2,362.5 160.3,362.7 160.3,362.7 160.4,362.9 160.5,363 160.6,362.9 160.6,362.7 160.7,362.9 160.8,362.6 160.8,363 160.9,363 161,362.6 161.1,362.9 161.1,363.3 161.2,363.3 161.3,363.1 161.3,362.8 161.4,363.5 161.5,363.5 161.5,363.2 161.6,363.8 161.7,363.7 161.8,363.5 161.8,363.6 161.9,363.8 162,363.7 162,364.8 162.1,363.8 162.2,364.4 162.3,364.7 162.3,364.2 162.4,364.2 162.5,364.6 162.5,364.8 162.6,364.6 162.7,364.7 162.7,364.4 162.8,364.7 162.9,364.9 163,364.7 163,365.2 163.1,365.5 163.2,365.2 163.2,365.2 163.3,365.6 163.4,365.8 163.5,365.6 163.5,366.5 163.6,365.7 163.7,365.8 163.7,366.5 163.8,366.2 163.9,366.6 163.9,366.2 164,367.1 164.1,366.8 164.2,366.5 164.2,366.4 164.3,367.5 164.4,367.1 164.4,367 164.5,367.4 164.6,366.8 164.7,367.7 164.7,367.4 164.8,367.9 164.9,367.3 164.9,367.8 165,368 165.1,368.5 165.2,367.6 165.2,368 165.3,368.1 165.4,368.1 165.4,368.5 165.5,368.9 165.6,369 165.6,369.2 165.7,368.7 165.8,369.6 165.9,369.5 165.9,369.6 166,369.5 166.1,369.6 166.1,370.3 166.2,370.5 166.3,370.2 166.4,370 166.4,370.3 166.5,370.6 166.6,370.9 166.6,370.9 166.7,371.2 166.8,371.1 166.8,371.7 166.9,371.7 167,371.9 167.1,371.9 167.1,372.2 167.2,371.7 167.3,372.2 167.3,372.4 167.4,373.6 167.5,373.3 167.6,373.5 167.6,373.4 167.7,374.4 167.8,373.6 167.8,373.9 167.9,374.8 168,374.9 168,375 168.1,375 168.2,375 168.3,374.8 168.3,375.7 168.4,375.6 168.5,376 168.5,375.8 168.6,376.3 168.7,376.3 168.8,377.3 168.8,377.2 168.9,377.7 169,377.2 169,377.7 169.1,378.2 169.2,378.5 169.2,378.4 169.3,379 169.4,379.3 169.5,379.1 169.5,378.8 169.6,379.8 169.7,380.1 169.7,380.6 169.8,380.8 169.9,380.6 170,380.7 170,381.2 170.1,381.3 170.2,381.6 170.2,381.9 170.3,382.6 170.4,382.5 170.4,382.6 170.5,383.1 170.6,383.3 170.7,383.6 170.7,383.7 170.8,383.6 170.9,384.2 170.9,384.4 171,384.4 171.1,384.7 171.2,384.7 171.2,386 171.3,385.5 171.4,386.1 171.4,386.2 171.5,386.3 171.6,386.5 171.6,386.8 171.7,387.4 171.8,387.3 171.9,388.1 171.9,388.4 172,388.4 172.1,389.1 172.1,388.6 172.2,389.3 172.3,389.3 172.4,390.2 172.4,390.6 172.5,390.8 172.6,391 172.6,391.7 172.7,391.8 172.8,392.2 172.8,392.1 172.9,393.1 173,392.9 173.1,393.8 173.1,394.2 173.2,394.5 173.3,395 173.3,394.9 173.4,395 173.5,395.6 173.6,395.8 173.6,395.9 173.7,396.7 173.8,397 173.8,397.5 173.9,398.3 174,398 174,399.1 174.1,398.7 174.2,399.3 174.3,399.3 174.3,400 174.4,400.6 174.5,400.6 174.5,401.3 174.6,401.5 174.7,401.8 174.8,402.2 174.8,402.6 174.9,403.2 175,403.4 175,404.3 175.1,404.1 175.2,404.7 175.2,404.4 175.3,404.8 175.4,406 175.5,405.8 175.5,406.2 175.6,406.9 175.7,406.8 175.7,407.4 175.8,408.1 175.9,408.1 176,408.4 176,408.7 176.1,409.4 176.2,409.2 176.2,409.5 176.3,410.4 176.4,410.6 176.4,410.8 176.5,411.3 176.6,410.9 176.7,411.7 176.7,412.4 176.8,412.6 176.9,412.8 176.9,412.7 177,413.4 177.1,413.7 177.2,414 177.2,414.3 177.3,414.6 177.4,414.8 177.4,414.5 177.5,414.2 177.6,413.8 177.7,413.7 177.7,413 177.8,413 177.9,412.6 177.9,412.6 178,412.2 178.1,411.5 178.1,411.1 178.2,410.8 178.3,410.3 178.4,410.1 178.4,410 178.5,409.4 178.6,409.2 178.6,409 178.7,408.5 178.8,408 178.9,408 178.9,407.8 179,407.2 179.1,406.5 179.1,406.8 179.2,406.4 179.3,406.1 179.3,405.4 179.4,405.9 179.5,405 179.6,404.4 179.6,404.7 179.7,403.7 179.8,403.7 179.8,403.7 179.9,403.1 180,403.3 180.1,402.8 180.1,401.8 180.2,402.3 180.3,401.2 180.3,401.4 180.4,400.8 180.5,400.8 180.5,401.2 180.6,400.5 180.7,400 180.8,400.1 180.8,399.9 180.9,399.1 181,399.2 181,399.2 181.1,398.7 181.2,398 181.3,398.2 181.3,397.6 181.4,397.2 181.5,397.4 181.5,397.5 181.6,397.4 181.7,396.8 181.7,396.4 181.8,396.4 181.9,396.1 182,396.2 182,395.9 182.1,395.9 182.2,395.8 182.2,395.9 182.3,395.8 182.4,395.4 182.5,395.4 182.5,395.2 182.6,394.6 182.7,394.7 182.7,393.7 182.8,394.1 182.9,394.4 182.9,393.9 183,393.8 183.1,394 183.2,393.3 183.2,393.7 183.3,394.3 183.4,393 183.4,393.3 183.5,392.6 183.6,393 183.7,393 183.7,392.1 183.8,392.8 183.9,392.3 183.9,391.8 184,392 184.1,392 184.1,391.8 184.2,391.4 184.3,391.8 184.4,391.3 184.4,391.1 184.5,390.5 184.6,391.2 184.6,391.2 184.7,390.6 184.8,390.8 184.9,390.5 184.9,390.5 185,390.1 185.1,390.5 185.1,390.2 185.2,390.8 185.3,390.2 185.3,389.4 185.4,390 185.5,389.9 185.6,389.9 185.6,389.3 185.7,389.4 185.8,389.7 185.8,389.1 185.9,389.1 186,388.9 186.1,389.2 186.1,388.4 186.2,388.7 186.3,388.8 186.3,388.9 186.4,388.7 186.5,388.3 186.5,388.6 186.6,388.2 186.7,388.2 186.8,388 186.8,388.1 186.9,388.3 187,388.8 187,388.1 187.1,387.9 187.2,388 187.3,387.9 187.3,388.2 187.4,388.1 187.5,388.2 187.5,387.6 187.6,387.9 187.7,388.1 187.8,388.3 187.8,387.9 187.9,387.5 188,387.8 188,388.1 188.1,387.5 188.2,387.5 188.2,387.6 188.3,387.7 188.4,387.6 188.5,387.8 188.5,387.7 188.6,388.2 188.7,387.6 188.7,388 188.8,387.5 188.9,388.7 189,387.9 189,387.9 189.1,388.3 189.2,388.1 189.2,388.1 189.3,388.1 189.4,388.5 189.4,388.4 189.5,388.2 189.6,388.1 189.7,388.5 189.7,388.6 189.8,388.6 189.9,388.4 189.9,389.1 190,389.2 190.1,388.9 190.2,389.3 190.2,389.2 190.3,389.1 190.4,389 190.4,389.5 190.5,389.1 190.6,389.9 190.6,389.3 190.7,390 190.8,390 190.9,389.5 190.9,389.9 191,390.1 191.1,390.1 191.1,389.9 191.2,390.1 191.3,390.2 191.4,390 191.4,390.6 191.5,390.6 191.6,390.7 191.6,390.3 191.7,390.5 191.8,390.5 191.8,390.9 191.9,391.1 192,390.9 192.1,391.3 192.1,391.1 192.2,391.2 192.3,391.7 192.3,391.6 192.4,391.7 192.5,391.3 192.6,391.2 192.6,392 192.7,392.1 192.8,392.9 192.8,392.3 192.9,392.4 193,392.8 193,392.4 193.1,393.2 193.2,392.9 193.3,392.9 193.3,393.4 193.4,392.9 193.5,393 193.5,393.8 193.6,393.9 193.7,393.4 193.8,393.7 193.8,394.1 193.9,394 194,394 194,394.2 194.1,394 194.2,394.2 194.2,393.9 194.3,394.1 194.4,394.4 194.5,394.4 194.5,394.5 194.6,394.8 194.7,395.4 194.7,394.9 194.8,395.3 194.9,394.9 195,395.5 195,395.5 195.1,395.7 195.2,395.4 195.2,396 195.3,396.2 195.4,396.2 195.4,396.6 195.5,396.5 195.6,396.7 195.7,396.8 195.7,396.5 195.8,397.3 195.9,397.3 195.9,397.5 196,397.4 196.1,398.1 196.2,398.1 196.2,398.1 196.3,398.1 196.4,398.4 196.4,398.7 196.5,399 196.6,398.8 196.6,398.7 196.7,399.2 196.8,399.4 196.9,399.5 196.9,400.1 197,400.1 197.1,400.3 197.1,400.3 197.2,400.6 197.3,401.1 197.4,400.6 197.4,400.6 197.5,401.4 197.6,401.4 197.6,401.6 197.7,401.7 197.8,402.5 197.8,401.8 197.9,402.6 198,402.3 198.1,402.8 198.1,403.2 198.2,403.3 198.3,403.2 198.3,403.9 198.4,404 198.5,404.2 198.6,404.7 198.6,404.1 198.7,404.5 198.8,404.9 198.8,404.7 198.9,405.5 199,405.5 199.1,405.2 199.1,405.6 199.2,406.7 199.3,407.2 199.3,406.8 199.4,406.4 199.5,407 199.5,407.1 199.6,407.1 199.7,407.7 199.8,407.6 199.8,407.7 199.9,408 200,408.2 200,408.7 200.1,408.5 200.2,409 200.3,408.7 200.3,408.5 200.4,409.7 200.5,410.3 200.5,410 200.6,410 200.7,410 200.7,410.1 200.8,410.9 200.9,411.1 201,410.7 201,411.5 201.1,411.1 201.2,411.6 201.2,411.5 201.3,411.7 201.4,411.9 201.5,412.1 201.5,412.7 201.6,412.6 201.7,412.8 201.7,413 201.8,413 201.9,413.4 201.9,413.6 202,413.8 202.1,413.9 202.2,414 202.2,414.2 202.3,414.3 202.4,414.5 202.4,414.7 202.5,414.8 202.6,414.8 202.7,414.7 202.7,414.6 202.8,414.3 202.9,414.1 202.9,414 203,413.9 203.1,413.5 203.1,413.4 203.2,413.6 203.3,413.3 203.4,413.1 203.4,413 203.5,413.3 203.6,412.5 203.6,412.6 203.7,412.3 203.8,412.2 203.9,411.7 203.9,411.9 204,411.9 204.1,411.4 204.1,410.9 204.2,411.3 204.3,410.6 204.3,410.8 204.4,410.9 204.5,410.1 204.6,410.6 204.6,409.9 204.7,410.2 204.8,409.8 204.8,410.1 204.9,409.8 205,409.1 205.1,409.2 205.1,409.1 205.2,409.1 205.3,408.7 205.3,409.1 205.4,408.9 205.5,408.4 205.5,408.5 205.6,408.3 205.7,408 205.8,407.8 205.8,407.8 205.9,406.3 206,406.6 206,406.3 206.1,407.1 206.2,407.4 206.3,408 206.3,407 206.4,408.2 206.5,406.9 206.5,405.8 206.6,405 206.7,405.4 206.7,406.7 206.8,405.5 206.9,406.4 207,405.1 207,405.7 207.1,404.8 207.2,403.4 207.2,404.6 207.3,403.4 207.4,405 207.5,405.3 207.5,403.9 207.6,403.6 207.7,405.2 207.7,404.7 207.8,405.7 207.9,404.7 207.9,403.8 208,404.5 208.1,404.8 208.2,405.4 208.2,404 208.3,403.6 208.4,403.7 208.4,403.9 208.5,405 208.6,402.7 208.7,404 208.7,404 208.8,403.3 208.9,405.5 208.9,403.8 209,403.8 209.1,403.4 209.1,402.6 209.2,403.2 209.3,404.9 209.4,403.7 209.4,403.2 209.5,403.2 209.6,404.3 209.6,404.5 209.7,402.8 209.8,402.9 209.9,403.1 209.9,404.4 210,401.7 210.1,405.2 210.1,403.2 210.2,401.3 210.3,402.9 210.3,402.6 210.4,403.6 210.5,401.7 210.6,403.6 210.6,402.4 210.7,402.5 210.8,403.3 210.8,401.8 210.9,403.5 211,402.9 211.1,402.4 211.1,402.6 211.2,401.9 211.3,401.5 211.3,402.4 211.4,402.6 211.5,402.5 211.6,402.4 211.6,401.5 211.7,402.2 211.8,401.7 211.8,402 211.9,402.6 212,401.3 212,402.7 212.1,401.9 212.2,400.7 212.3,402.6 212.3,401.8 212.4,403 212.5,402.1 212.5,402.8 212.6,402 212.7,402.1 212.8,401.5 212.8,400.4 212.9,401.4 213,401.1 213,401.6 213.1,401.7 213.2,402.2 213.2,402.9 213.3,401.4 213.4,400.2 213.5,401.1 213.5,401.9 213.6,400.2 213.7,401.8 213.7,401.9 213.8,402.3 213.9,402.1 214,401.6 214,399.9 214.1,401.6 214.2,402.2 214.2,401.9 214.3,401.6 214.4,402.7 214.4,401.3 214.5,400.9 214.6,401.2 214.7,401 214.7,402.4 214.8,402.7 214.9,400.5 214.9,400.6 215,402.6 215.1,401.3 215.2,401.5 215.2,401.1 215.3,401.4 215.4,401.9 215.4,401.4 215.5,401.5 215.6,401.7 215.6,403.1 215.7,404 215.8,402.3 215.9,403 215.9,401.6 216,401.3 216.1,401.6 216.1,402.2 216.2,401.9 216.3,401.1 216.4,402.5 216.4,401.3 216.5,401.5 216.6,401.9 216.6,401 216.7,402.7 216.8,401.5 216.8,403 216.9,402.9 217,403.2 217.1,402.1 217.1,403.2 217.2,402.5 217.3,403.4 217.3,401.8 217.4,401.3 217.5,402.5 217.6,401.5 217.6,402.4 217.7,401.2 217.8,402.9 217.8,404.2 217.9,401.9 218,403.2 218,403.9 218.1,403.7 218.2,404.5 218.3,403.5 218.3,404.2 218.4,402.3 218.5,403 218.5,404.8 218.6,404.8 218.7,404.1 218.8,405.2 218.8,403.9 218.9,403.9 219,404.5 219,404.4 219.1,403.7 219.2,403 219.2,403.1 219.3,404.2 219.4,403.7 219.5,404.9 219.5,404.1 219.6,405.2 219.7,404 219.7,405.6 219.8,405.4 219.9,404.8 220,404.4 220,406 220.1,405.4 220.2,404.9 220.2,404.9 220.3,405.8 220.4,405.2 220.4,405.5 220.5,404.3 220.6,405 220.7,406.5 220.7,407.2 220.8,405.5 220.9,404.8 220.9,405.6 221,405.2 221.1,406.3 221.2,407 221.2,405.5 221.3,406.1 221.4,405.7 221.4,407.4 221.5,406.2 221.6,406.9 221.7,405.9 221.7,407.1 221.8,407.2 221.9,407.3 221.9,405.9 222,407 222.1,407.7 222.1,408 222.2,408.1 222.3,406.3 222.4,408.9 222.4,408.2 222.5,407.2 222.6,406.9 222.6,408 222.7,407.4 222.8,407.5 222.9,407.4 222.9,408.3 223,407.1 223.1,408.3 223.1,407.4 223.2,409.5 223.3,408.1 223.3,409.9 223.4,410.2 223.5,408.8 223.6,409.9 223.6,409 223.7,410.3 223.8,408.4 223.8,409.7 223.9,410.2 224,409.9 224.1,409.8 224.1,410.4 224.2,410.2 224.3,409.9 224.3,410.3 224.4,410.7 224.5,411 224.5,410.8 224.6,411.5 224.7,412.1 224.8,411.5 224.8,411.8 224.9,411.1 225,411.7 225,412.1 225.1,412.3 225.2,412 225.3,412.5 225.3,412.5 225.4,412.5 225.5,412.6 225.5,412.8 225.6,412.9 225.7,412.8 225.7,412.9 225.8,413.6 225.9,413.1 226,413.6 226,413.6 226.1,413.9 226.2,414 226.2,414.1 226.3,414.3 226.4,414.4 226.5,414.5 226.5,414.7 226.6,414.8 226.7,414.8 226.7,414.7 226.8,414.5 226.9,414.4 226.9,414.2 227,414.1 227.1,414 227.2,413.5 227.2,413.6 227.3,413.3 227.4,413.3 227.4,412.7 227.5,412.4 227.6,412.7 227.7,412.3 227.7,412.4 227.8,411.5 227.9,411.6 227.9,411.9 228,411.1 228.1,411.1 228.1,410.9 228.2,410.7 228.3,410.8 228.4,410.5 228.4,410 228.5,409.9 228.6,410 228.6,408.9 228.7,409.3 228.8,409.2 228.9,409 228.9,408.4 229,408.1 229.1,408.1 229.1,407.6 229.2,408.1 229.3,407.5 229.3,407.3 229.4,407 229.5,406.6 229.6,407.1 229.6,405.4 229.7,406.3 229.8,405.7 229.8,405.4 229.9,405.1 230,405.1 230.1,405.7 230.1,405 230.2,404.2 230.3,404.5 230.3,404.3 230.4,404.5 230.5,403.2 230.5,403.2 230.6,403.4 230.7,403 230.8,402.8 230.8,402.8 230.9,402.4 231,402 231,401.7 231.1,401.3 231.2,401.5 231.3,401.4 231.3,401 231.4,401.1 231.5,401.1 231.5,400.2 231.6,400.5 231.7,400.2 231.7,399.8 231.8,400.2 231.9,399.5 232,399.4 232,399.4 232.1,399.1 232.2,399.3 232.2,399.5 232.3,398.9 232.4,398.9 232.5,398.3 232.5,398.3 232.6,398.4 232.7,398.1 232.7,397.6 232.8,397.6 232.9,397.7 232.9,397.6 233,397.7 233.1,397.6 233.2,397.3 233.2,397.4 233.3,397.2 233.4,397.5 233.4,397.5 233.5,397.4 233.6,397 233.7,396.4 233.7,396.3 233.8,396.9 233.9,396.9 233.9,396.2 234,396.2 234.1,396.6 234.2,395.8 234.2,396 234.3,395.6 234.4,395.8 234.4,395.5 234.5,395.6 234.6,395.9 234.6,395.6 234.7,395.6 234.8,395.1 234.9,395.5 234.9,395.6 235,394.9 235.1,394.7 235.1,394.5 235.2,394.5 235.3,395.2 235.4,394.8 235.4,394.7 235.5,394.5 235.6,395 235.6,394.3 235.7,394.1 235.8,394.4 235.8,394 235.9,393.6 236,393.9 236.1,393.5 236.1,393.5 236.2,393.5 236.3,393.5 236.3,393.6 236.4,393.1 236.5,393.5 236.6,393.5 236.6,393 236.7,393.3 236.8,392.9 236.8,392.7 236.9,392.9 237,392.8 237,392.5 237.1,392.5 237.2,393.1 237.3,392.9 237.3,392.1 237.4,392.3 237.5,393 237.5,392.7 237.6,392.2 237.7,392.5 237.8,392 237.8,392 237.9,391.9 238,392.3 238,391.7 238.1,391.3 238.2,392 238.2,391.3 238.3,391.4 238.4,391.4 238.5,391.6 238.5,391.8 238.6,391.7 238.7,391.2 238.7,391.1 238.8,390.9 238.9,391 239,390.9 239,391.3 239.1,391.4 239.2,391 239.2,390.9 239.3,391 239.4,391.4 239.4,391 239.5,391.3 239.6,390.8 239.7,391.1 239.7,390.8 239.8,390.6 239.9,390.6 239.9,390.3 240,390.9 240.1,391.2 240.2,390.3 240.2,390.1 240.3,390.1 240.4,390.4 240.4,390.3 240.5,390.4 240.6,390.8 240.6,390.6 240.7,390.2 240.8,390.5 240.9,389.8 240.9,390.8 241,390.4 241.1,390 241.1,390.5 241.2,390.6 241.3,390.7 241.4,390.5 241.4,389.8 241.5,390.1 241.6,390.1 241.6,390.4 241.7,390 241.8,390.2 241.8,390.5 241.9,390.4 242,390.2 242.1,390 242.1,390.3 242.2,390.2 242.3,389.8 242.3,390.6 242.4,390.7 242.5,390.1 242.6,390.3 242.6,390.5 242.7,390.4 242.8,390.6 242.8,390.4 242.9,390.7 243,390.4 243,391 243.1,390.9 243.2,390.7 243.3,390.9 243.3,390.6 243.4,390.9 243.5,391.1 243.5,390.9 243.6,391.2 243.7,391.5 243.8,391.5 243.8,391.4 243.9,391.4 244,391.3 244,391.1 244.1,391.3 244.2,391 244.2,391.2 244.3,391.7 244.4,391.3 244.5,391.5 244.5,392 244.6,391.9 244.7,391.7 244.7,392 244.8,391.9 244.9,392.1 245,392.1 245,392.5 245.1,392.4 245.2,392.7 245.2,392.5 245.3,393.2 245.4,392.7 245.5,392.6 245.5,392.8 245.6,393.1 245.7,393 245.7,393.5 245.8,393.6 245.9,393.6 245.9,393.6 246,393.4 246.1,394 246.2,393.5 246.2,394.4 246.3,394.3 246.4,394.1 246.4,393.9 246.5,394.5 246.6,395 246.7,394.4 246.7,394.6 246.8,395 246.9,395.1 246.9,395.1 247,395 247.1,394.9 247.1,395.7 247.2,394.7 247.3,395.5 247.4,395.7 247.4,395.5 247.5,395.7 247.6,395.2 247.6,395.7 247.7,396.2 247.8,396.3 247.9,396.4 247.9,396.5 248,396.3 248.1,396.8 248.1,396.3 248.2,396.9 248.3,397 248.3,396.8 248.4,397.7 248.5,397.5 248.6,397.2 248.6,397.5 248.7,397.6 248.8,397.6 248.8,398 248.9,398 249,398.4 249.1,398.7 249.1,397.9 249.2,398.7 249.3,398.7 249.3,398.3 249.4,398.5 249.5,399.1 249.5,399.2 249.6,399.2 249.7,399.6 249.8,399.3 249.8,399.6 249.9,399.7 250,399.7 250,399.9 250.1,399.7 250.2,400 250.3,401.1 250.3,400.5 250.4,401.2 250.5,401.5 250.5,401 250.6,401.6 250.7,401.7 250.7,401.4 250.8,402.1 250.9,402.4 251,402.2 251,402.1 251.1,402.5 251.2,403.3 251.2,403.2 251.3,403.3 251.4,402.9 251.5,403.4 251.5,403.6 251.6,403.7 251.7,404.3 251.7,404.3 251.8,404.5 251.9,405.1 251.9,405 252,405 252.1,405.7 252.2,405.4 252.2,405.6 252.3,405.7 252.4,406.5 252.4,406.4 252.5,406.3 252.6,406.7 252.7,407.3 252.7,407.3 252.8,407.1 252.9,407.8 252.9,407.9 253,407.5 253.1,408.4 253.1,408.7 253.2,409.2 253.3,409.3 253.4,408.9 253.4,409.6 253.5,410.1 253.6,410.2 253.6,410.2 253.7,410.2 253.8,410.9 253.9,410.7 253.9,411.3 254,411.2 254.1,411.4 254.1,411.6 254.2,412.1 254.3,412.3 254.3,412.4 254.4,413 254.5,412.9 254.6,413.1 254.6,413.2 254.7,413.6 254.8,413.9 254.8,414.1 254.9,414.4 255,414.5 255.1,414.8 255.1,414.8 255.2,414.6 255.3,414.4 255.3,414.3 255.4,413.8 255.5,413.7 255.6,413.4 255.6,413.3 255.7,412.9 255.8,412.6 255.8,412.2 255.9,412.5 256,411.7 256,411.7 256.1,411.6 256.2,411 256.3,410.9 256.3,410.7 256.4,410.5 256.5,410 256.5,409.8 256.6,409.6 256.7,409.5 256.8,409.1 256.8,408.6 256.9,408 257,408.1 257,407.4 257.1,407.6 257.2,407.6 257.2,406.8 257.3,407 257.4,406.3 257.5,405.8 257.5,405.9 257.6,405.6 257.7,404.6 257.7,404.9 257.8,404.6 257.9,404.2 258,404.1 258,403.8 258.1,403.4 258.2,403.9 258.2,402.5 258.3,402.9 258.4,402.7 258.4,401.9 258.5,401.7 258.6,401.8 258.7,401.1 258.7,401.2 258.8,400.8 258.9,400.7 258.9,400.2 259,399.6 259.1,399.4 259.2,399 259.2,398.6 259.3,398.5 259.4,398.4 259.4,398 259.5,397.2 259.6,397.4 259.6,397 259.7,396.8 259.8,396.4 259.9,396.1 259.9,395.9 260,395.7 260.1,395.6 260.1,395.3 260.2,394.7 260.3,394.3 260.4,394 260.4,394 260.5,393.9 260.6,393.2 260.6,393 260.7,393.3 260.8,392.4 260.8,392.2 260.9,391.6 261,392.1 261.1,391.9 261.1,391.1 261.2,391.6 261.3,391 261.3,390.8 261.4,390.6 261.5,390.5 261.6,389.8 261.6,389.2 261.7,389.1 261.8,388.8 261.8,388.8 261.9,388 262,388 262,387.6 262.1,388.1 262.2,387.3 262.3,387.4 262.3,386.7 262.4,386.5 262.5,386.6 262.5,386 262.6,385.4 262.7,385.3 262.8,385 262.8,385.2 262.9,384.9 263,384.7 263,384.1 263.1,383.5 263.2,383.5 263.2,383.3 263.3,383.4 263.4,382.7 263.5,382.6 263.5,382.8 263.6,382.5 263.7,381.9 263.7,381.8 263.8,380.8 263.9,381 264,381 264,380.6 264.1,379.8 264.2,380.2 264.2,379.5 264.3,379.3 264.4,378.8 264.4,378.8 264.5,378.8 264.6,378.3 264.7,378.2 264.7,377.7 264.8,377.8 264.9,376.9 264.9,377.3 265,376.9 265.1,377 265.2,376.5 265.2,376.3 265.3,376.1 265.4,375.7 265.4,375.8 265.5,375.7 265.6,374.9 265.6,375.1 265.7,375 265.8,374.3 265.9,374.2 265.9,375 266,374.1 266.1,373.6 266.1,373.4 266.2,373.6 266.3,372.8 266.4,373.3 266.4,373 266.5,372.7 266.6,372.6 266.6,372.2 266.7,372 266.8,372.1 266.9,371.5 266.9,372 267,371.7 267.1,371 267.1,371.3 267.2,370.9 267.3,371.1 267.3,370.9 267.4,370.7 267.5,370.5 267.6,370.5 267.6,370.3 267.7,369.9 267.8,369.6 267.8,369.8 267.9,369.5 268,369.3 268.1,369.7 268.1,369.7 268.2,368.7 268.3,368.6 268.3,368.8 268.4,368.6 268.5,368.8 268.5,368.8 268.6,368.2 268.7,368.6 268.8,367.8 268.8,368.1 268.9,367.7 269,367.1 269,366.9 269.1,367.4 269.2,366.9 269.3,367.4 269.3,367.1 269.4,366.7 269.5,366.3 269.5,366.8 269.6,366.3 269.7,366.3 269.7,366.6 269.8,366.2 269.9,365.6 270,365.9 270,365.6 270.1,365.4 270.2,365.8 270.2,365.1 270.3,364.9 270.4,364.8 270.5,364.8 270.5,365.2 270.6,365.1 270.7,365.1 270.7,365 270.8,364.9 270.9,364.3 270.9,364 271,364.5 271.1,364 271.2,364.5 271.2,364.2 271.3,364.3 271.4,364.4 271.4,363.8 271.5,363.8 271.6,363.8 271.7,363.8 271.7,363.8 271.8,363.5 271.9,363.6 271.9,363.3 272,363.6 272.1,363.1 272.1,363 272.2,362.7 272.3,362.7 272.4,362.9 272.4,363.1 272.5,363.4" stroke="#111" stroke-width="1.5"/>
</g>
<rect x="159.5" y="343.3" width="113" height="71.6" fill="none" stroke="#404040" stroke-width="1.0"/><path d="M170.8,414.9v-2M170.8,343.3v2M182.1,414.9v-2M182.1,343.3v2M193.4,414.9v-2M193.4,343.3v2M204.7,414.9v-2M204.7,343.3v2M216,414.9v-2M216,343.3v2M227.3,414.9v-2M227.3,343.3v2M238.6,414.9v-2M238.6,343.3v2M249.9,414.9v-2M249.9,343.3v2M261.2,414.9v-2M261.2,343.3v2M159.5,391h2M272.5,391h-2M159.5,367.2h2M272.5,367.2h-2" stroke="#404040" stroke-width="1.0" fill="none"/>
<g font-size="9.2" fill="#222"><text x="159.5" y="425.8" text-anchor="middle">0</text><text x="170.8" y="425.8" text-anchor="middle">1</text><text x="182.1" y="425.8" text-anchor="middle">2</text><text x="193.4" y="425.8" text-anchor="middle">3</text><text x="204.7" y="425.8" text-anchor="middle">4</text><text x="216" y="425.8" text-anchor="middle">5</text><text x="227.3" y="425.8" text-anchor="middle">6</text><text x="238.6" y="425.8" text-anchor="middle">7</text><text x="249.9" y="425.8" text-anchor="middle">8</text><text x="261.2" y="425.8" text-anchor="middle">9</text><text x="272.5" y="425.8" text-anchor="middle">10</text><text x="157" y="418" text-anchor="end">0</text><text x="157" y="394.1" text-anchor="end">50</text><text x="157" y="370.3" text-anchor="end">100</text><text x="157" y="346.4" text-anchor="end">150</text></g>
<text x="216" y="436.6" font-size="9.6" fill="#222" text-anchor="middle">Time /s</text>
<text transform="translate(141.4,379.1) rotate(-90)" font-size="9.4" fill="#222" text-anchor="middle">Absolute error /N</text>
<line x1="166.8" y1="496" x2="185.3" y2="432.9" stroke="#111" stroke-width="0.9" marker-end="url(#ah)"/>
<text x="10.5" y="271" font-size="12" font-weight="bold" fill="#111">(a)</text>
<text x="10.5" y="540.6" font-size="12" font-weight="bold" fill="#111">(b)</text>
</svg></body></html>
